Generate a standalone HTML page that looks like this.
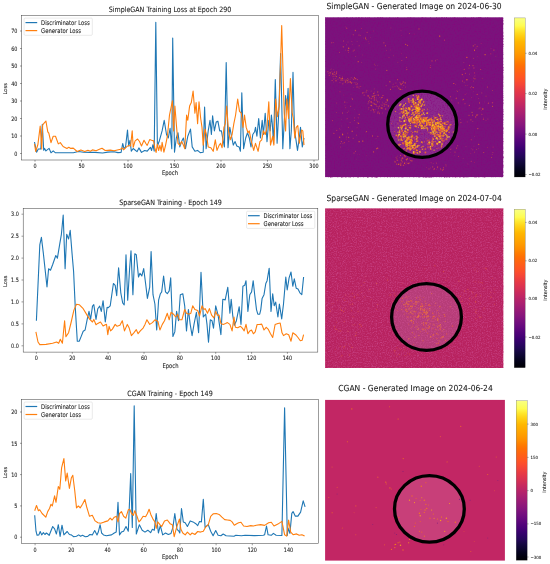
<!DOCTYPE html>
<html lang="en"><head><meta charset="utf-8"><title>GAN training comparison</title>
<style>html,body{margin:0;padding:0;background:#fff}svg{display:block;text-rendering:geometricPrecision}</style></head>
<body>
<svg width="550" height="564" viewBox="0 0 550 564" font-family='"DejaVu Sans", "Liberation Sans", sans-serif' fill="#1a1a1a">
<defs>
<linearGradient id="inf" x1="0" y1="1" x2="0" y2="0">
<stop offset="0.000" stop-color="#000004"/>
<stop offset="0.025" stop-color="#010110"/>
<stop offset="0.050" stop-color="#05031f"/>
<stop offset="0.075" stop-color="#0d0631"/>
<stop offset="0.100" stop-color="#150841"/>
<stop offset="0.125" stop-color="#210755"/>
<stop offset="0.150" stop-color="#2c0463"/>
<stop offset="0.175" stop-color="#38016e"/>
<stop offset="0.200" stop-color="#470176"/>
<stop offset="0.225" stop-color="#53037a"/>
<stop offset="0.250" stop-color="#61077d"/>
<stop offset="0.275" stop-color="#6d0c7e"/>
<stop offset="0.300" stop-color="#79107e"/>
<stop offset="0.325" stop-color="#86157c"/>
<stop offset="0.350" stop-color="#911879"/>
<stop offset="0.375" stop-color="#9d1b75"/>
<stop offset="0.400" stop-color="#a81f71"/>
<stop offset="0.425" stop-color="#b3226b"/>
<stop offset="0.450" stop-color="#bf2664"/>
<stop offset="0.475" stop-color="#ca2a5d"/>
<stop offset="0.500" stop-color="#d63054"/>
<stop offset="0.525" stop-color="#e0354c"/>
<stop offset="0.550" stop-color="#e93b43"/>
<stop offset="0.575" stop-color="#f34439"/>
<stop offset="0.600" stop-color="#fb4c2f"/>
<stop offset="0.625" stop-color="#ff5523"/>
<stop offset="0.650" stop-color="#ff5d19"/>
<stop offset="0.675" stop-color="#ff660f"/>
<stop offset="0.700" stop-color="#ff7004"/>
<stop offset="0.725" stop-color="#ff7d00"/>
<stop offset="0.750" stop-color="#ff8d00"/>
<stop offset="0.775" stop-color="#ff9900"/>
<stop offset="0.800" stop-color="#ffa300"/>
<stop offset="0.825" stop-color="#ffad00"/>
<stop offset="0.850" stop-color="#ffb700"/>
<stop offset="0.875" stop-color="#ffc70b"/>
<stop offset="0.900" stop-color="#ffd71b"/>
<stop offset="0.925" stop-color="#ffe930"/>
<stop offset="0.950" stop-color="#fffc51"/>
<stop offset="0.975" stop-color="#faff6b"/>
<stop offset="1.000" stop-color="#fbff81"/>
</linearGradient>
<filter id="nz1" x="0" y="0" width="100%" height="100%"><feTurbulence type="fractalNoise" baseFrequency="0.7" numOctaves="2" seed="3"/><feColorMatrix type="matrix" values="0 0 0 0 0.25  0 0 0 0 0  0 0 0 0 0.2  1.6 0 0 0 -0.72"/></filter>
<filter id="nz2" x="0" y="0" width="100%" height="100%"><feTurbulence type="fractalNoise" baseFrequency="0.8" numOctaves="2" seed="11"/><feColorMatrix type="matrix" values="0 0 0 0 0.62  0 0 0 0 0.08  0 0 0 0 0.30  1.6 0 0 0 -0.70"/></filter>
<filter id="sb" x="-5%" y="-5%" width="110%" height="110%"><feGaussianBlur stdDeviation="0.32"/></filter>
</defs>
<rect width="550" height="564" fill="#fff"/>
<polyline points="34.5,142.0 36.6,152.2 38.3,149.0 40.8,149.0 42.3,124.2 43.7,150.3 44.6,148.4 45.9,150.9 49.1,148.4 51.0,152.8 53.2,150.9 55.5,152.8 61.8,152.8 73.3,152.8 78.4,151.5 83.5,152.2 89.8,152.4 95.0,152.4 102.6,153.0 107.7,152.1 114.1,151.7 117.9,152.6 121.1,152.4 122.7,143.5 124.0,148.5 125.5,147.3 127.5,130.1 128.7,146.0 130.0,140.3 131.3,151.1 133.2,148.5 137.0,151.7 138.9,147.9 141.5,152.4 144.6,150.5 147.2,151.1 150.4,147.3 151.6,150.5 152.9,144.7 154.2,151.1 155.8,22.3 157.4,146.0 159.4,140.7 162.1,130.9 164.2,120.3 166.5,134.5 168.3,138.0 170.1,128.3 171.8,148.7 172.7,38.0 174.5,152.2 176.3,138.0 178.0,132.7 179.8,146.9 181.6,141.6 183.4,138.0 185.5,148.7 187.8,136.2 190.5,129.1 192.2,146.9 194.9,151.3 197.6,150.4 200.2,152.6 203.2,152.2 204.6,107.0 206.1,148.7 208.2,130.9 210.0,120.3 211.4,134.5 212.6,115.9 214.4,130.9 216.2,122.1 217.9,121.2 219.7,130.9 221.4,130.9 222.7,138.0 224.4,146.9 226.2,62.5 228.0,147.8 229.8,127.4 231.5,136.2 233.3,145.1 235.1,141.6 236.8,146.0 239.1,146.9 240.4,151.3 241.8,92.8 243.6,148.7 245.7,138.0 247.5,132.7 249.3,138.0 251.0,146.9 252.8,134.5 254.6,131.8 255.5,127.4 256.9,136.2 258.7,118.5 260.4,138.0 262.2,120.3 263.4,134.5 265.2,113.2 267.0,141.6 268.8,120.3 270.2,130.9 271.4,115.0 272.3,123.8 273.5,143.3 275.3,79.5 277.1,143.3 278.9,109.6 280.6,53.6 282.8,148.7 285.6,95.5 286.8,109.6 288.1,88.4 289.9,148.7 291.3,130.9 293.0,72.4 294.5,130.9 295.7,138.0 297.5,150.4 299.3,138.0 300.5,127.4 302.3,146.9 304.0,138.0" fill="none" stroke="#1f77b4" stroke-width="1.1" stroke-linejoin="round"/>
<polyline points="34.5,143.9 35.7,151.5 37.9,144.5 40.2,126.1 41.7,149.0 42.7,124.8 44.3,122.9 45.9,121.0 47.8,131.8 48.8,133.1 51.0,142.6 53.2,136.3 55.5,136.3 58.3,143.9 60.3,142.6 63.1,146.5 66.9,148.4 68.8,147.3 70.7,148.4 73.3,148.1 77.1,151.5 80.9,149.9 84.7,151.5 87.9,150.3 90.5,151.2 92.4,149.9 96.2,150.7 98.8,149.6 102.0,148.3 105.2,150.5 110.3,150.1 114.1,150.8 120.5,149.2 122.4,147.9 123.6,149.8 126.8,146.6 128.7,145.4 130.6,146.0 132.2,130.7 133.2,147.3 135.1,140.9 137.6,139.0 139.5,141.5 141.5,146.0 144.0,140.3 145.9,143.5 147.2,145.4 149.7,139.6 151.6,140.3 153.6,140.9 154.8,147.9 156.1,152.4 157.4,144.1 158.6,150.5 159.9,145.4 161.2,151.1 162.1,142.4 163.9,152.2 165.6,145.1 167.4,136.2 169.5,115.0 172.4,100.8 173.6,130.9 174.9,106.1 176.6,127.4 178.0,143.3 179.8,145.1 181.6,141.6 183.4,145.1 184.8,148.7 186.6,115.0 187.8,120.3 189.6,106.1 191.3,102.6 193.1,91.0 194.9,113.2 196.1,102.6 197.6,123.8 199.0,101.7 200.7,118.5 202.0,127.4 203.2,145.1 205.0,129.1 206.4,134.5 208.2,146.9 210.9,147.8 213.2,151.3 215.3,139.8 217.0,150.4 219.2,145.1 220.6,143.3 222.1,147.8 223.9,127.4 225.3,123.8 226.7,106.1 228.5,130.9 230.3,139.8 232.1,134.5 233.8,123.8 235.6,115.0 237.7,99.0 239.5,111.4 241.3,113.2 243.0,127.4 244.5,115.0 246.2,127.4 248.0,132.7 249.3,130.9 251.0,139.8 253.7,150.4 255.5,143.3 258.1,151.3 259.9,141.6 261.7,139.8 263.4,130.9 265.2,134.5 267.0,127.4 268.8,101.7 270.5,145.1 272.7,136.2 273.9,145.1 275.7,99.0 277.4,116.7 279.2,106.1 281.7,25.5 284.2,113.2 285.6,130.9 286.8,99.0 288.6,118.5 290.4,78.6 292.2,113.2 293.4,118.5 294.8,138.0 296.2,127.4 297.8,125.6 299.3,143.3 301.6,130.0 302.8,130.9 304.0,145.1" fill="none" stroke="#ff7f0e" stroke-width="1.1" stroke-linejoin="round"/>
<rect x="21.7" y="15.5" width="296.6" height="144.5" fill="none" stroke="#3a3a3a" stroke-width="0.5"/>
<line x1="35.0" y1="160" x2="35.0" y2="161.7" stroke="#3a3a3a" stroke-width="0.5"/>
<text transform="translate(35.0,168.1) scale(1,1.22)" font-size="4.9" text-anchor="middle" stroke="#1a1a1a" stroke-width="0.07">0</text>
<line x1="81.5" y1="160" x2="81.5" y2="161.7" stroke="#3a3a3a" stroke-width="0.5"/>
<text transform="translate(81.5,168.1) scale(1,1.22)" font-size="4.9" text-anchor="middle" stroke="#1a1a1a" stroke-width="0.07">50</text>
<line x1="128.0" y1="160" x2="128.0" y2="161.7" stroke="#3a3a3a" stroke-width="0.5"/>
<text transform="translate(128.0,168.1) scale(1,1.22)" font-size="4.9" text-anchor="middle" stroke="#1a1a1a" stroke-width="0.07">100</text>
<line x1="174.5" y1="160" x2="174.5" y2="161.7" stroke="#3a3a3a" stroke-width="0.5"/>
<text transform="translate(174.5,168.1) scale(1,1.22)" font-size="4.9" text-anchor="middle" stroke="#1a1a1a" stroke-width="0.07">150</text>
<line x1="221.0" y1="160" x2="221.0" y2="161.7" stroke="#3a3a3a" stroke-width="0.5"/>
<text transform="translate(221.0,168.1) scale(1,1.22)" font-size="4.9" text-anchor="middle" stroke="#1a1a1a" stroke-width="0.07">200</text>
<line x1="267.5" y1="160" x2="267.5" y2="161.7" stroke="#3a3a3a" stroke-width="0.5"/>
<text transform="translate(267.5,168.1) scale(1,1.22)" font-size="4.9" text-anchor="middle" stroke="#1a1a1a" stroke-width="0.07">250</text>
<line x1="314.0" y1="160" x2="314.0" y2="161.7" stroke="#3a3a3a" stroke-width="0.5"/>
<text transform="translate(314.0,168.1) scale(1,1.22)" font-size="4.9" text-anchor="middle" stroke="#1a1a1a" stroke-width="0.07">300</text>
<line x1="20.0" y1="153.5" x2="21.7" y2="153.5" stroke="#3a3a3a" stroke-width="0.5"/>
<text transform="translate(17.4,155.7) scale(1,1.22)" font-size="4.9" text-anchor="end" stroke="#1a1a1a" stroke-width="0.07">0</text>
<line x1="20.0" y1="136.0" x2="21.7" y2="136.0" stroke="#3a3a3a" stroke-width="0.5"/>
<text transform="translate(17.4,138.2) scale(1,1.22)" font-size="4.9" text-anchor="end" stroke="#1a1a1a" stroke-width="0.07">10</text>
<line x1="20.0" y1="118.5" x2="21.7" y2="118.5" stroke="#3a3a3a" stroke-width="0.5"/>
<text transform="translate(17.4,120.7) scale(1,1.22)" font-size="4.9" text-anchor="end" stroke="#1a1a1a" stroke-width="0.07">20</text>
<line x1="20.0" y1="101.0" x2="21.7" y2="101.0" stroke="#3a3a3a" stroke-width="0.5"/>
<text transform="translate(17.4,103.2) scale(1,1.22)" font-size="4.9" text-anchor="end" stroke="#1a1a1a" stroke-width="0.07">30</text>
<line x1="20.0" y1="83.5" x2="21.7" y2="83.5" stroke="#3a3a3a" stroke-width="0.5"/>
<text transform="translate(17.4,85.7) scale(1,1.22)" font-size="4.9" text-anchor="end" stroke="#1a1a1a" stroke-width="0.07">40</text>
<line x1="20.0" y1="66.0" x2="21.7" y2="66.0" stroke="#3a3a3a" stroke-width="0.5"/>
<text transform="translate(17.4,68.2) scale(1,1.22)" font-size="4.9" text-anchor="end" stroke="#1a1a1a" stroke-width="0.07">50</text>
<line x1="20.0" y1="48.5" x2="21.7" y2="48.5" stroke="#3a3a3a" stroke-width="0.5"/>
<text transform="translate(17.4,50.7) scale(1,1.22)" font-size="4.9" text-anchor="end" stroke="#1a1a1a" stroke-width="0.07">60</text>
<line x1="20.0" y1="31.0" x2="21.7" y2="31.0" stroke="#3a3a3a" stroke-width="0.5"/>
<text transform="translate(17.4,33.2) scale(1,1.22)" font-size="4.9" text-anchor="end" stroke="#1a1a1a" stroke-width="0.07">70</text>
<text transform="translate(170.0,12.3) scale(1,1.15)" font-size="6.35" text-anchor="middle" stroke="#1a1a1a" stroke-width="0.07">SimpleGAN Training Loss at Epoch 290</text>
<text transform="translate(170.0,175.4) scale(1,1.22)" font-size="5.27" text-anchor="middle" stroke="#1a1a1a" stroke-width="0.07">Epoch</text>
<text transform="translate(7.3,88.8) rotate(-90)" font-size="5.27" text-anchor="middle" stroke="#1a1a1a" stroke-width="0.07">Loss</text>
<rect x="24.1" y="18.1" width="68.2" height="17.2" rx="1" fill="#fff" fill-opacity="0.8" stroke="#d4d4d4" stroke-width="0.5"/>
<line x1="25.5" y1="22.6" x2="37.2" y2="22.6" stroke="#1f77b4" stroke-width="1.2000000000000002"/>
<line x1="25.5" y1="30.6" x2="37.2" y2="30.6" stroke="#ff7f0e" stroke-width="1.2000000000000002"/>
<text transform="translate(41.1,24.6) scale(1,1.22)" font-size="5.27" stroke="#1a1a1a" stroke-width="0.07">Discriminator Loss</text>
<text transform="translate(41.1,32.6) scale(1,1.22)" font-size="5.27" stroke="#1a1a1a" stroke-width="0.07">Generator Loss</text>
<polyline points="36.4,320.7 39.8,244.9 41.4,237.4 43.3,252.9 47.0,286.9 48.6,268.8 50.5,270.2 52.6,264.8 55.8,255.5 57.4,258.2 59.8,243.6 61.4,234.3 63.2,215.1 65.1,268.8 66.7,234.3 68.6,239.0 70.2,230.3 72.0,252.9 73.6,271.5 75.2,306.1 77.3,341.2 79.2,341.2 81.1,336.6 83.2,331.3 85.1,330.0 87.2,319.4 89.0,311.4 90.6,319.4 92.5,306.1 93.8,304.7 96.0,319.4 97.8,308.7 99.7,306.1 101.3,311.4 103.1,300.7 105.3,322.0 107.1,307.4 108.3,307.7 110.2,305.8 113.4,283.5 115.2,285.3 116.7,295.6 118.6,267.7 120.8,292.8 122.7,303.0 124.2,304.9 126.0,254.7 127.7,300.2 129.6,268.6 131.0,250.9 132.9,294.7 134.8,253.7 136.3,254.7 138.5,277.0 140.0,273.3 141.8,276.0 143.7,268.6 145.6,283.5 147.4,298.4 149.7,287.2 151.1,251.5 153.0,294.7 154.9,304.0 156.7,330.0 158.6,300.2 160.4,293.7 161.7,291.9 163.6,276.0 165.5,291.9 167.3,293.7 169.2,290.9 170.7,277.9 172.5,324.4 172.9,336.5 174.8,331.9 176.6,311.4 178.5,320.7 180.3,294.7 182.8,293.7 184.7,305.8 186.5,330.9 188.4,309.5 190.2,324.4 192.1,335.6 194.0,324.4 196.4,312.3 198.6,332.8 201.0,272.3 203.3,317.0 205.7,314.2 207.0,324.4 208.5,342.1 210.3,319.8 212.0,320.7 213.5,328.1 215.7,305.8 218.1,315.1 219.4,324.4 220.9,334.7 222.8,299.3 225.2,299.9 227.8,287.2 229.9,313.3 231.2,299.3 232.7,315.1 234.3,325.3 236.4,320.7 239.2,306.7 241.0,324.4 242.9,286.3 244.7,285.3 246.0,280.7 247.9,311.4 249.8,294.7 251.6,291.9 253.2,280.7 254.7,294.7 256.5,309.6 257.8,314.2 259.7,314.2 260.8,309.6 262.1,298.4 264.0,294.7 265.8,283.5 267.1,280.7 269.2,268.2 271.0,311.4 272.7,293.7 274.2,305.8 275.7,302.1 277.9,317.0 279.4,304.0 281.7,318.9 283.5,304.0 285.8,277.0 287.2,290.0 289.1,277.9 291.0,272.0 292.8,286.3 294.3,278.9 296.2,288.2 298.0,289.1 299.9,292.8 301.8,294.7 303.6,277.0" fill="none" stroke="#1f77b4" stroke-width="1.1" stroke-linejoin="round"/>
<polyline points="35.9,331.9 38.0,342.0 39.8,344.6 46.0,344.4 52.6,343.3 56.6,342.0 58.7,343.3 60.3,339.3 62.4,343.3 64.6,320.7 65.9,336.6 68.6,332.7 71.2,322.0 73.9,310.1 76.5,304.2 79.2,304.7 83.2,308.7 87.2,315.4 89.8,319.4 92.5,322.0 93.8,319.4 96.0,324.7 97.8,323.4 100.5,322.0 103.1,326.0 105.3,324.7 106.5,324.4 107.8,334.7 109.1,326.3 110.6,330.9 112.4,329.1 115.2,324.4 117.1,326.3 119.9,325.3 122.3,320.7 124.5,330.9 127.3,324.4 129.2,328.1 131.4,335.6 133.8,332.8 136.3,329.6 138.1,333.7 140.3,330.9 143.1,328.1 145.0,324.4 146.9,319.8 149.7,324.4 152.4,322.6 154.9,319.8 158.0,321.6 159.9,330.0 162.3,324.4 164.5,320.7 167.3,313.3 169.2,319.8 171.0,312.3 173.5,314.2 175.7,317.0 177.6,314.2 179.4,319.8 181.9,319.8 184.7,309.5 186.5,313.3 188.9,314.2 190.8,313.3 192.7,305.8 194.9,309.5 197.7,310.5 199.5,316.0 202.0,305.8 203.8,309.5 205.1,308.6 207.5,313.3 209.4,308.6 211.6,315.1 213.9,317.9 215.7,311.4 217.2,315.1 219.1,315.1 220.9,323.5 223.2,324.4 225.6,323.5 227.4,322.6 229.9,324.4 232.1,330.9 234.0,317.0 235.4,327.2 237.7,327.8 240.5,326.3 242.3,328.1 244.2,330.9 246.0,324.4 247.9,333.7 249.8,330.9 251.5,330.0 253.4,333.8 255.2,331.9 257.1,324.5 259.3,324.5 261.7,324.1 264.0,330.0 266.2,327.3 268.1,329.1 270.5,333.8 272.7,337.5 275.1,324.5 277.9,323.5 280.2,323.0 282.0,332.8 283.5,335.6 286.3,333.8 288.7,334.7 291.0,341.2 292.8,332.8 295.6,334.7 298.0,337.5 300.3,340.8 302.1,340.3 303.6,334.7" fill="none" stroke="#ff7f0e" stroke-width="1.1" stroke-linejoin="round"/>
<rect x="23.2" y="208.4" width="294.6" height="143.7" fill="none" stroke="#3a3a3a" stroke-width="0.5"/>
<line x1="36.4" y1="352.1" x2="36.4" y2="353.8" stroke="#3a3a3a" stroke-width="0.5"/>
<text transform="translate(36.4,360.2) scale(1,1.22)" font-size="4.9" text-anchor="middle" stroke="#1a1a1a" stroke-width="0.07">0</text>
<line x1="72.3" y1="352.1" x2="72.3" y2="353.8" stroke="#3a3a3a" stroke-width="0.5"/>
<text transform="translate(72.3,360.2) scale(1,1.22)" font-size="4.9" text-anchor="middle" stroke="#1a1a1a" stroke-width="0.07">20</text>
<line x1="108.1" y1="352.1" x2="108.1" y2="353.8" stroke="#3a3a3a" stroke-width="0.5"/>
<text transform="translate(108.1,360.2) scale(1,1.22)" font-size="4.9" text-anchor="middle" stroke="#1a1a1a" stroke-width="0.07">40</text>
<line x1="144.0" y1="352.1" x2="144.0" y2="353.8" stroke="#3a3a3a" stroke-width="0.5"/>
<text transform="translate(144.0,360.2) scale(1,1.22)" font-size="4.9" text-anchor="middle" stroke="#1a1a1a" stroke-width="0.07">60</text>
<line x1="179.8" y1="352.1" x2="179.8" y2="353.8" stroke="#3a3a3a" stroke-width="0.5"/>
<text transform="translate(179.8,360.2) scale(1,1.22)" font-size="4.9" text-anchor="middle" stroke="#1a1a1a" stroke-width="0.07">80</text>
<line x1="215.7" y1="352.1" x2="215.7" y2="353.8" stroke="#3a3a3a" stroke-width="0.5"/>
<text transform="translate(215.7,360.2) scale(1,1.22)" font-size="4.9" text-anchor="middle" stroke="#1a1a1a" stroke-width="0.07">100</text>
<line x1="251.6" y1="352.1" x2="251.6" y2="353.8" stroke="#3a3a3a" stroke-width="0.5"/>
<text transform="translate(251.6,360.2) scale(1,1.22)" font-size="4.9" text-anchor="middle" stroke="#1a1a1a" stroke-width="0.07">120</text>
<line x1="287.4" y1="352.1" x2="287.4" y2="353.8" stroke="#3a3a3a" stroke-width="0.5"/>
<text transform="translate(287.4,360.2) scale(1,1.22)" font-size="4.9" text-anchor="middle" stroke="#1a1a1a" stroke-width="0.07">140</text>
<line x1="21.5" y1="345.8" x2="23.2" y2="345.8" stroke="#3a3a3a" stroke-width="0.5"/>
<text transform="translate(18.9,348.0) scale(1,1.22)" font-size="4.9" text-anchor="end" stroke="#1a1a1a" stroke-width="0.07">0.0</text>
<line x1="21.5" y1="323.9" x2="23.2" y2="323.9" stroke="#3a3a3a" stroke-width="0.5"/>
<text transform="translate(18.9,326.1) scale(1,1.22)" font-size="4.9" text-anchor="end" stroke="#1a1a1a" stroke-width="0.07">0.5</text>
<line x1="21.5" y1="301.9" x2="23.2" y2="301.9" stroke="#3a3a3a" stroke-width="0.5"/>
<text transform="translate(18.9,304.1) scale(1,1.22)" font-size="4.9" text-anchor="end" stroke="#1a1a1a" stroke-width="0.07">1.0</text>
<line x1="21.5" y1="280.0" x2="23.2" y2="280.0" stroke="#3a3a3a" stroke-width="0.5"/>
<text transform="translate(18.9,282.2) scale(1,1.22)" font-size="4.9" text-anchor="end" stroke="#1a1a1a" stroke-width="0.07">1.5</text>
<line x1="21.5" y1="258.1" x2="23.2" y2="258.1" stroke="#3a3a3a" stroke-width="0.5"/>
<text transform="translate(18.9,260.3) scale(1,1.22)" font-size="4.9" text-anchor="end" stroke="#1a1a1a" stroke-width="0.07">2.0</text>
<line x1="21.5" y1="236.2" x2="23.2" y2="236.2" stroke="#3a3a3a" stroke-width="0.5"/>
<text transform="translate(18.9,238.4) scale(1,1.22)" font-size="4.9" text-anchor="end" stroke="#1a1a1a" stroke-width="0.07">2.5</text>
<line x1="21.5" y1="214.2" x2="23.2" y2="214.2" stroke="#3a3a3a" stroke-width="0.5"/>
<text transform="translate(18.9,216.4) scale(1,1.22)" font-size="4.9" text-anchor="end" stroke="#1a1a1a" stroke-width="0.07">3.0</text>
<text transform="translate(170.5,205.2) scale(1,1.15)" font-size="6.35" text-anchor="middle" stroke="#1a1a1a" stroke-width="0.07">SparseGAN Training - Epoch 149</text>
<text transform="translate(170.5,367.5) scale(1,1.22)" font-size="5.27" text-anchor="middle" stroke="#1a1a1a" stroke-width="0.07">Epoch</text>
<text transform="translate(7.3,281.2) rotate(-90)" font-size="5.27" text-anchor="middle" stroke="#1a1a1a" stroke-width="0.07">Loss</text>
<rect x="246.6" y="211.2" width="68.2" height="17.2" rx="1" fill="#fff" fill-opacity="0.8" stroke="#d4d4d4" stroke-width="0.5"/>
<line x1="248.0" y1="215.7" x2="259.7" y2="215.7" stroke="#1f77b4" stroke-width="1.2000000000000002"/>
<line x1="248.0" y1="223.7" x2="259.7" y2="223.7" stroke="#ff7f0e" stroke-width="1.2000000000000002"/>
<text transform="translate(263.6,217.7) scale(1,1.22)" font-size="5.27" stroke="#1a1a1a" stroke-width="0.07">Discriminator Loss</text>
<text transform="translate(263.6,225.7) scale(1,1.22)" font-size="5.27" stroke="#1a1a1a" stroke-width="0.07">Generator Loss</text>
<polyline points="34.7,515.3 36.0,531.2 37.1,535.3 38.9,534.9 40.2,531.5 41.7,534.9 43.4,532.7 44.9,534.5 46.4,533.0 47.7,534.0 49.2,535.3 50.8,531.2 52.7,526.5 54.6,528.9 56.4,534.0 58.3,524.7 60.1,536.4 62.0,525.2 63.9,534.9 67.2,531.5 69.4,534.5 71.3,534.9 73.7,536.7 76.5,536.2 78.7,534.9 80.6,536.2 82.5,535.3 85.3,536.7 87.7,536.4 89.9,534.5 92.3,534.9 94.7,530.6 97.0,534.9 98.3,532.1 100.1,524.7 101.6,533.0 103.5,534.9 106.3,535.8 111.5,534.9 114.3,533.0 116.2,532.1 118.0,502.3 119.5,534.9 121.4,532.1 123.6,531.2 126.0,526.5 128.3,531.2 130.7,473.5 132.3,527.4 134.2,405.7 136.3,534.0 139.4,524.7 142.2,530.2 145.0,532.1 147.8,530.2 150.6,532.7 152.4,529.3 154.3,530.2 156.2,513.5 158.4,533.0 160.3,525.6 162.7,534.9 165.5,533.0 168.3,534.5 171.0,533.4 172.9,527.4 174.8,513.5 177.0,529.3 178.9,531.2 179.8,533.0 181.5,508.5 183.3,521.9 185.2,522.8 187.4,526.5 190.2,520.9 193.0,521.9 195.8,523.7 197.7,525.6 199.5,521.5 201.4,521.9 203.3,499.2 205.1,527.4 208.3,524.7 210.7,531.2 213.1,535.8 215.7,530.6 218.1,535.3 220.9,535.8 223.2,534.0 226.1,535.8 234.0,536.2 235.8,535.3 241.4,535.8 245.1,535.3 254.4,535.6 263.3,535.3 264.6,534.8 266.5,526.0 268.1,534.8 271.3,535.3 273.4,533.4 276.1,535.3 281.9,535.5 284.6,407.8 287.3,535.5 288.1,528.1 289.9,533.4 291.8,513.4 293.1,511.6 295.2,516.1 297.9,516.1 300.6,512.1 303.2,500.9 305.1,506.8" fill="none" stroke="#1f77b4" stroke-width="1.1" stroke-linejoin="round"/>
<polyline points="34.7,510.7 36.5,505.5 38.4,510.7 39.7,509.8 42.1,513.5 45.8,517.2 47.7,511.6 49.5,508.5 51.0,504.2 52.3,506.0 54.6,495.8 56.0,502.3 58.3,486.5 59.8,489.3 61.6,467.9 63.9,458.6 65.7,480.9 67.2,473.1 69.4,488.4 71.3,478.1 72.8,475.3 74.7,490.2 76.5,507.9 78.4,506.0 80.2,507.9 82.5,504.2 84.9,499.5 86.7,507.0 89.5,516.3 92.3,515.3 95.1,520.9 97.9,522.8 100.7,523.3 104.4,521.9 107.8,520.9 110.2,518.1 112.1,520.0 114.3,517.2 116.5,516.3 118.0,521.9 119.5,513.5 121.4,511.6 123.6,516.3 125.8,518.1 128.3,509.8 129.7,509.2 131.6,513.5 133.3,515.3 134.8,510.7 137.0,516.3 138.9,521.9 140.7,520.0 143.1,516.3 145.6,516.7 147.4,513.5 149.1,509.2 151.1,515.3 153.0,519.1 154.9,521.9 156.2,528.4 157.7,521.9 159.9,524.7 161.7,526.5 164.5,520.9 167.3,520.0 170.1,523.7 172.3,524.7 174.2,536.7 176.6,527.4 179.4,519.1 180.9,529.3 182.8,533.0 185.2,534.9 187.4,532.1 190.2,534.9 192.1,533.0 194.9,534.5 197.7,531.5 200.5,532.1 203.3,531.2 206.0,526.5 208.3,524.7 210.7,516.3 213.1,513.9 216.3,513.5 219.1,514.4 221.9,517.2 224.7,519.6 227.4,520.0 230.2,520.4 232.1,521.9 234.3,525.2 236.7,523.7 238.6,522.8 241.0,522.2 243.6,526.0 247.0,526.5 250.7,525.6 253.5,526.0 256.3,525.2 260.6,524.6 264.6,525.4 268.6,522.8 271.3,522.2 274.0,526.0 277.9,524.1 281.9,521.4 284.6,534.7 286.7,536.1 288.6,520.1 290.7,532.1 293.1,534.7 296.6,533.9 299.2,535.3 301.9,534.7 304.6,536.1" fill="none" stroke="#ff7f0e" stroke-width="1.1" stroke-linejoin="round"/>
<rect x="21.7" y="399.3" width="296.6" height="144.3" fill="none" stroke="#3a3a3a" stroke-width="0.5"/>
<line x1="35.1" y1="543.6" x2="35.1" y2="545.3000000000001" stroke="#3a3a3a" stroke-width="0.5"/>
<text transform="translate(35.1,551.7) scale(1,1.22)" font-size="4.9" text-anchor="middle" stroke="#1a1a1a" stroke-width="0.07">0</text>
<line x1="71.3" y1="543.6" x2="71.3" y2="545.3000000000001" stroke="#3a3a3a" stroke-width="0.5"/>
<text transform="translate(71.3,551.7) scale(1,1.22)" font-size="4.9" text-anchor="middle" stroke="#1a1a1a" stroke-width="0.07">20</text>
<line x1="107.5" y1="543.6" x2="107.5" y2="545.3000000000001" stroke="#3a3a3a" stroke-width="0.5"/>
<text transform="translate(107.5,551.7) scale(1,1.22)" font-size="4.9" text-anchor="middle" stroke="#1a1a1a" stroke-width="0.07">40</text>
<line x1="143.7" y1="543.6" x2="143.7" y2="545.3000000000001" stroke="#3a3a3a" stroke-width="0.5"/>
<text transform="translate(143.7,551.7) scale(1,1.22)" font-size="4.9" text-anchor="middle" stroke="#1a1a1a" stroke-width="0.07">60</text>
<line x1="179.9" y1="543.6" x2="179.9" y2="545.3000000000001" stroke="#3a3a3a" stroke-width="0.5"/>
<text transform="translate(179.9,551.7) scale(1,1.22)" font-size="4.9" text-anchor="middle" stroke="#1a1a1a" stroke-width="0.07">80</text>
<line x1="216.1" y1="543.6" x2="216.1" y2="545.3000000000001" stroke="#3a3a3a" stroke-width="0.5"/>
<text transform="translate(216.1,551.7) scale(1,1.22)" font-size="4.9" text-anchor="middle" stroke="#1a1a1a" stroke-width="0.07">100</text>
<line x1="252.3" y1="543.6" x2="252.3" y2="545.3000000000001" stroke="#3a3a3a" stroke-width="0.5"/>
<text transform="translate(252.3,551.7) scale(1,1.22)" font-size="4.9" text-anchor="middle" stroke="#1a1a1a" stroke-width="0.07">120</text>
<line x1="288.5" y1="543.6" x2="288.5" y2="545.3000000000001" stroke="#3a3a3a" stroke-width="0.5"/>
<text transform="translate(288.5,551.7) scale(1,1.22)" font-size="4.9" text-anchor="middle" stroke="#1a1a1a" stroke-width="0.07">140</text>
<line x1="20.0" y1="537.2" x2="21.7" y2="537.2" stroke="#3a3a3a" stroke-width="0.5"/>
<text transform="translate(17.4,539.4) scale(1,1.22)" font-size="4.9" text-anchor="end" stroke="#1a1a1a" stroke-width="0.07">0</text>
<line x1="20.0" y1="505.9" x2="21.7" y2="505.9" stroke="#3a3a3a" stroke-width="0.5"/>
<text transform="translate(17.4,508.1) scale(1,1.22)" font-size="4.9" text-anchor="end" stroke="#1a1a1a" stroke-width="0.07">5</text>
<line x1="20.0" y1="474.6" x2="21.7" y2="474.6" stroke="#3a3a3a" stroke-width="0.5"/>
<text transform="translate(17.4,476.8) scale(1,1.22)" font-size="4.9" text-anchor="end" stroke="#1a1a1a" stroke-width="0.07">10</text>
<line x1="20.0" y1="443.3" x2="21.7" y2="443.3" stroke="#3a3a3a" stroke-width="0.5"/>
<text transform="translate(17.4,445.5) scale(1,1.22)" font-size="4.9" text-anchor="end" stroke="#1a1a1a" stroke-width="0.07">15</text>
<line x1="20.0" y1="412.0" x2="21.7" y2="412.0" stroke="#3a3a3a" stroke-width="0.5"/>
<text transform="translate(17.4,414.2) scale(1,1.22)" font-size="4.9" text-anchor="end" stroke="#1a1a1a" stroke-width="0.07">20</text>
<text transform="translate(170.0,396.1) scale(1,1.15)" font-size="6.35" text-anchor="middle" stroke="#1a1a1a" stroke-width="0.07">CGAN Training - Epoch 149</text>
<text transform="translate(170.0,559.0) scale(1,1.22)" font-size="5.27" text-anchor="middle" stroke="#1a1a1a" stroke-width="0.07">Epoch</text>
<text transform="translate(7.3,472.5) rotate(-90)" font-size="5.27" text-anchor="middle" stroke="#1a1a1a" stroke-width="0.07">Loss</text>
<rect x="24.1" y="402" width="68.2" height="17.2" rx="1" fill="#fff" fill-opacity="0.8" stroke="#d4d4d4" stroke-width="0.5"/>
<line x1="25.5" y1="406.5" x2="37.2" y2="406.5" stroke="#1f77b4" stroke-width="1.2000000000000002"/>
<line x1="25.5" y1="414.5" x2="37.2" y2="414.5" stroke="#ff7f0e" stroke-width="1.2000000000000002"/>
<text transform="translate(41.1,408.5) scale(1,1.22)" font-size="5.27" stroke="#1a1a1a" stroke-width="0.07">Discriminator Loss</text>
<text transform="translate(41.1,416.5) scale(1,1.22)" font-size="5.27" stroke="#1a1a1a" stroke-width="0.07">Generator Loss</text>
<rect x="325.1" y="17.3" width="178.1" height="159.8" fill="#7a137c"/>
<ellipse cx="422.2" cy="124.2" rx="34.5" ry="33.1" fill="#8b2a8c"/>
<rect x="325.1" y="17.3" width="178.1" height="159.8" fill="#fff" filter="url(#nz1)"/>
<g filter="url(#sb)">
<circle cx="421.2" cy="124.9" r="0.54" fill="#f67c1c" fill-opacity="0.78"/>
<circle cx="417.2" cy="108.7" r="0.72" fill="#f67c1c" fill-opacity="0.73"/>
<circle cx="441.9" cy="128.6" r="0.97" fill="#fba51c" fill-opacity="0.85"/>
<circle cx="427.0" cy="123.1" r="0.93" fill="#fb900f" fill-opacity="0.80"/>
<circle cx="429.9" cy="123.4" r="0.84" fill="#f67c1c" fill-opacity="0.85"/>
<circle cx="440.7" cy="133.0" r="0.53" fill="#fba51c" fill-opacity="0.87"/>
<circle cx="427.2" cy="124.4" r="0.73" fill="#f9961a" fill-opacity="0.78"/>
<circle cx="420.7" cy="126.9" r="0.54" fill="#fb900f" fill-opacity="0.83"/>
<circle cx="409.1" cy="139.5" r="0.99" fill="#f67c1c" fill-opacity="0.83"/>
<circle cx="399.7" cy="120.1" r="0.71" fill="#f67c1c" fill-opacity="0.92"/>
<circle cx="439.0" cy="123.1" r="0.85" fill="#f9961a" fill-opacity="0.85"/>
<circle cx="442.4" cy="115.8" r="0.74" fill="#f67c1c" fill-opacity="0.67"/>
<circle cx="431.9" cy="126.8" r="0.91" fill="#fb900f" fill-opacity="0.90"/>
<circle cx="421.7" cy="120.0" r="0.61" fill="#fb900f" fill-opacity="0.70"/>
<circle cx="408.9" cy="125.4" r="0.54" fill="#f9961a" fill-opacity="0.79"/>
<circle cx="420.4" cy="123.0" r="0.78" fill="#fdd22a" fill-opacity="1.00"/>
<circle cx="437.9" cy="140.0" r="0.54" fill="#fdbb20" fill-opacity="0.73"/>
<circle cx="410.1" cy="119.5" r="0.63" fill="#fba51c" fill-opacity="0.70"/>
<circle cx="432.4" cy="123.3" r="0.56" fill="#fba51c" fill-opacity="0.81"/>
<circle cx="417.0" cy="141.3" r="0.78" fill="#fdd22a" fill-opacity="0.79"/>
<circle cx="417.3" cy="107.6" r="0.53" fill="#ee6430" fill-opacity="0.80"/>
<circle cx="416.7" cy="107.5" r="0.78" fill="#f67c1c" fill-opacity="0.98"/>
<circle cx="447.2" cy="130.4" r="0.69" fill="#fb900f" fill-opacity="0.98"/>
<circle cx="442.4" cy="129.4" r="0.74" fill="#f9961a" fill-opacity="0.82"/>
<circle cx="422.1" cy="125.6" r="0.87" fill="#f9961a" fill-opacity="0.94"/>
<circle cx="415.9" cy="113.2" r="0.76" fill="#fdbb20" fill-opacity="0.89"/>
<circle cx="409.9" cy="139.4" r="0.82" fill="#f67c1c" fill-opacity="0.89"/>
<circle cx="414.8" cy="121.2" r="0.89" fill="#e2503f" fill-opacity="0.87"/>
<circle cx="446.3" cy="121.9" r="0.60" fill="#ee6430" fill-opacity="0.94"/>
<circle cx="430.6" cy="148.0" r="0.68" fill="#fba51c" fill-opacity="1.00"/>
<circle cx="401.0" cy="135.4" r="0.80" fill="#e2503f" fill-opacity="0.81"/>
<circle cx="422.3" cy="142.7" r="0.68" fill="#ee6430" fill-opacity="0.69"/>
<circle cx="432.8" cy="131.2" r="0.99" fill="#fba51c" fill-opacity="0.82"/>
<circle cx="440.7" cy="136.1" r="0.83" fill="#fdd22a" fill-opacity="0.92"/>
<circle cx="427.7" cy="144.0" r="0.89" fill="#e2503f" fill-opacity="0.68"/>
<circle cx="408.6" cy="138.0" r="0.87" fill="#f67c1c" fill-opacity="0.90"/>
<circle cx="407.0" cy="113.4" r="0.95" fill="#fdbb20" fill-opacity="0.86"/>
<circle cx="434.4" cy="130.7" r="0.58" fill="#fdbb20" fill-opacity="0.66"/>
<circle cx="403.5" cy="132.9" r="0.87" fill="#fdbb20" fill-opacity="0.80"/>
<circle cx="411.3" cy="140.5" r="0.63" fill="#fb900f" fill-opacity="0.83"/>
<circle cx="401.3" cy="139.8" r="0.92" fill="#fba51c" fill-opacity="0.97"/>
<circle cx="420.1" cy="124.8" r="0.95" fill="#fdd22a" fill-opacity="0.94"/>
<circle cx="411.6" cy="145.8" r="0.76" fill="#f9961a" fill-opacity="0.92"/>
<circle cx="445.0" cy="126.6" r="0.57" fill="#f67c1c" fill-opacity="0.84"/>
<circle cx="410.5" cy="118.2" r="0.89" fill="#f67c1c" fill-opacity="0.96"/>
<circle cx="418.8" cy="109.9" r="0.55" fill="#f9961a" fill-opacity="0.85"/>
<circle cx="407.8" cy="132.4" r="0.81" fill="#ee6430" fill-opacity="0.89"/>
<circle cx="430.1" cy="125.0" r="0.97" fill="#fb900f" fill-opacity="0.97"/>
<circle cx="411.3" cy="148.9" r="0.71" fill="#fdd22a" fill-opacity="0.80"/>
<circle cx="418.5" cy="110.4" r="0.83" fill="#f67c1c" fill-opacity="0.96"/>
<circle cx="403.9" cy="105.4" r="0.57" fill="#fdbb20" fill-opacity="0.99"/>
<circle cx="421.8" cy="117.4" r="0.74" fill="#ee6430" fill-opacity="0.71"/>
<circle cx="421.7" cy="122.9" r="0.60" fill="#e2503f" fill-opacity="0.68"/>
<circle cx="423.1" cy="127.4" r="0.85" fill="#fdd22a" fill-opacity="0.77"/>
<circle cx="443.0" cy="129.0" r="0.99" fill="#ee6430" fill-opacity="0.99"/>
<circle cx="418.2" cy="110.0" r="0.89" fill="#fb900f" fill-opacity="0.91"/>
<circle cx="407.7" cy="129.6" r="0.97" fill="#fdd22a" fill-opacity="0.70"/>
<circle cx="402.5" cy="140.2" r="0.54" fill="#fba51c" fill-opacity="0.93"/>
<circle cx="408.0" cy="109.5" r="0.51" fill="#f67c1c" fill-opacity="0.93"/>
<circle cx="419.4" cy="107.5" r="0.93" fill="#f9961a" fill-opacity="0.65"/>
<circle cx="416.7" cy="150.3" r="0.97" fill="#fb900f" fill-opacity="0.84"/>
<circle cx="409.7" cy="121.5" r="0.64" fill="#fba51c" fill-opacity="1.00"/>
<circle cx="419.0" cy="102.0" r="0.99" fill="#f9961a" fill-opacity="0.74"/>
<circle cx="431.8" cy="120.0" r="0.83" fill="#fdd22a" fill-opacity="0.99"/>
<circle cx="417.7" cy="122.5" r="0.60" fill="#fdbb20" fill-opacity="0.79"/>
<circle cx="419.4" cy="119.8" r="0.54" fill="#fb900f" fill-opacity="0.80"/>
<circle cx="416.2" cy="105.0" r="0.75" fill="#fb900f" fill-opacity="0.86"/>
<circle cx="442.9" cy="138.6" r="0.63" fill="#fba51c" fill-opacity="0.74"/>
<circle cx="421.4" cy="147.2" r="0.62" fill="#fb900f" fill-opacity="0.73"/>
<circle cx="404.3" cy="113.2" r="0.64" fill="#ee6430" fill-opacity="0.74"/>
<circle cx="410.6" cy="139.3" r="0.57" fill="#fba51c" fill-opacity="0.79"/>
<circle cx="415.4" cy="117.4" r="0.98" fill="#fdbb20" fill-opacity="0.88"/>
<circle cx="443.3" cy="134.8" r="0.66" fill="#f9961a" fill-opacity="0.70"/>
<circle cx="429.3" cy="142.8" r="0.92" fill="#fdd22a" fill-opacity="0.91"/>
<circle cx="407.2" cy="139.0" r="0.75" fill="#fba51c" fill-opacity="0.94"/>
<circle cx="449.7" cy="125.0" r="0.85" fill="#ee6430" fill-opacity="0.68"/>
<circle cx="424.3" cy="123.7" r="0.51" fill="#ee6430" fill-opacity="0.82"/>
<circle cx="416.5" cy="95.7" r="0.75" fill="#f67c1c" fill-opacity="0.88"/>
<circle cx="418.1" cy="105.4" r="0.54" fill="#fb900f" fill-opacity="0.73"/>
<circle cx="430.6" cy="148.9" r="0.73" fill="#fdd22a" fill-opacity="0.68"/>
<circle cx="409.3" cy="145.2" r="0.82" fill="#ee6430" fill-opacity="0.68"/>
<circle cx="405.1" cy="118.8" r="0.65" fill="#fdbb20" fill-opacity="0.65"/>
<circle cx="417.6" cy="115.2" r="0.85" fill="#f9961a" fill-opacity="0.75"/>
<circle cx="430.3" cy="127.4" r="0.56" fill="#ee6430" fill-opacity="0.76"/>
<circle cx="414.8" cy="109.3" r="0.54" fill="#f9961a" fill-opacity="1.00"/>
<circle cx="434.4" cy="118.2" r="0.54" fill="#f67c1c" fill-opacity="0.70"/>
<circle cx="438.4" cy="125.4" r="0.91" fill="#fb900f" fill-opacity="0.96"/>
<circle cx="441.3" cy="147.1" r="0.74" fill="#fba51c" fill-opacity="0.71"/>
<circle cx="407.5" cy="138.9" r="0.86" fill="#fdd22a" fill-opacity="0.77"/>
<circle cx="417.1" cy="118.7" r="0.88" fill="#fdd22a" fill-opacity="0.69"/>
<circle cx="407.1" cy="133.0" r="0.64" fill="#e2503f" fill-opacity="0.67"/>
<circle cx="426.8" cy="122.0" r="0.96" fill="#fb900f" fill-opacity="0.95"/>
<circle cx="424.0" cy="121.3" r="0.82" fill="#fdbb20" fill-opacity="0.74"/>
<circle cx="413.6" cy="118.7" r="0.69" fill="#fdd22a" fill-opacity="0.96"/>
<circle cx="435.5" cy="124.6" r="0.87" fill="#f9961a" fill-opacity="0.87"/>
<circle cx="408.7" cy="108.0" r="0.96" fill="#fdbb20" fill-opacity="0.71"/>
<circle cx="425.0" cy="126.6" r="0.87" fill="#fb900f" fill-opacity="0.79"/>
<circle cx="409.4" cy="119.7" r="0.56" fill="#fdbb20" fill-opacity="0.68"/>
<circle cx="438.3" cy="120.2" r="0.73" fill="#e2503f" fill-opacity="1.00"/>
<circle cx="437.9" cy="128.7" r="0.55" fill="#e2503f" fill-opacity="0.84"/>
<circle cx="410.6" cy="125.7" r="0.60" fill="#fba51c" fill-opacity="0.91"/>
<circle cx="421.1" cy="126.0" r="0.69" fill="#e2503f" fill-opacity="0.91"/>
<circle cx="431.5" cy="124.0" r="0.84" fill="#ee6430" fill-opacity="0.68"/>
<circle cx="404.1" cy="148.5" r="0.72" fill="#fb900f" fill-opacity="0.95"/>
<circle cx="410.9" cy="143.8" r="0.85" fill="#f9961a" fill-opacity="0.99"/>
<circle cx="446.3" cy="131.4" r="0.96" fill="#f9961a" fill-opacity="0.99"/>
<circle cx="419.2" cy="120.8" r="0.76" fill="#f67c1c" fill-opacity="0.98"/>
<circle cx="435.7" cy="131.9" r="0.73" fill="#fba51c" fill-opacity="0.65"/>
<circle cx="417.3" cy="108.2" r="0.86" fill="#fdbb20" fill-opacity="0.87"/>
<circle cx="427.8" cy="129.5" r="0.55" fill="#fb900f" fill-opacity="0.83"/>
<circle cx="442.2" cy="131.1" r="0.80" fill="#fba51c" fill-opacity="0.84"/>
<circle cx="400.5" cy="125.8" r="0.92" fill="#ee6430" fill-opacity="0.82"/>
<circle cx="417.1" cy="131.9" r="0.85" fill="#fb900f" fill-opacity="0.67"/>
<circle cx="410.0" cy="107.5" r="0.54" fill="#ee6430" fill-opacity="0.88"/>
<circle cx="409.8" cy="145.0" r="0.67" fill="#fdd22a" fill-opacity="0.78"/>
<circle cx="429.3" cy="123.4" r="0.92" fill="#f67c1c" fill-opacity="0.72"/>
<circle cx="418.4" cy="127.4" r="0.65" fill="#f9961a" fill-opacity="0.86"/>
<circle cx="398.5" cy="144.7" r="0.53" fill="#fdbb20" fill-opacity="0.97"/>
<circle cx="424.2" cy="109.6" r="0.71" fill="#fba51c" fill-opacity="0.71"/>
<circle cx="434.8" cy="121.9" r="0.56" fill="#f67c1c" fill-opacity="0.98"/>
<circle cx="412.9" cy="98.4" r="0.69" fill="#e2503f" fill-opacity="0.80"/>
<circle cx="419.9" cy="109.6" r="0.71" fill="#f67c1c" fill-opacity="0.85"/>
<circle cx="398.4" cy="140.0" r="0.65" fill="#fdd22a" fill-opacity="0.68"/>
<circle cx="442.0" cy="143.0" r="0.72" fill="#e2503f" fill-opacity="0.78"/>
<circle cx="414.8" cy="144.6" r="0.91" fill="#fdd22a" fill-opacity="0.66"/>
<circle cx="422.3" cy="104.6" r="0.63" fill="#f67c1c" fill-opacity="0.96"/>
<circle cx="415.1" cy="131.6" r="0.81" fill="#fb900f" fill-opacity="0.91"/>
<circle cx="443.4" cy="136.1" r="0.86" fill="#f67c1c" fill-opacity="0.66"/>
<circle cx="404.3" cy="120.9" r="0.98" fill="#fdd22a" fill-opacity="0.93"/>
<circle cx="410.7" cy="141.1" r="0.75" fill="#fba51c" fill-opacity="0.93"/>
<circle cx="432.8" cy="138.0" r="0.80" fill="#e2503f" fill-opacity="0.95"/>
<circle cx="437.3" cy="119.5" r="0.76" fill="#fdd22a" fill-opacity="0.91"/>
<circle cx="418.1" cy="119.4" r="0.78" fill="#e2503f" fill-opacity="0.71"/>
<circle cx="427.0" cy="124.3" r="0.81" fill="#ee6430" fill-opacity="0.68"/>
<circle cx="434.4" cy="120.8" r="0.62" fill="#fdd22a" fill-opacity="0.81"/>
<circle cx="410.2" cy="149.9" r="0.89" fill="#f67c1c" fill-opacity="0.92"/>
<circle cx="416.2" cy="122.9" r="0.63" fill="#fb900f" fill-opacity="0.72"/>
<circle cx="417.0" cy="121.8" r="0.94" fill="#ee6430" fill-opacity="0.76"/>
<circle cx="430.8" cy="123.0" r="0.62" fill="#f67c1c" fill-opacity="0.88"/>
<circle cx="403.6" cy="125.3" r="0.91" fill="#f9961a" fill-opacity="0.97"/>
<circle cx="414.2" cy="103.2" r="0.59" fill="#ee6430" fill-opacity="0.98"/>
<circle cx="428.8" cy="119.7" r="0.63" fill="#fba51c" fill-opacity="0.69"/>
<circle cx="442.3" cy="127.0" r="0.68" fill="#fdbb20" fill-opacity="0.67"/>
<circle cx="405.5" cy="124.4" r="0.96" fill="#fba51c" fill-opacity="0.94"/>
<circle cx="421.4" cy="127.7" r="0.54" fill="#fba51c" fill-opacity="0.93"/>
<circle cx="438.0" cy="127.1" r="0.70" fill="#fdbb20" fill-opacity="0.87"/>
<circle cx="421.8" cy="114.5" r="0.70" fill="#fb900f" fill-opacity="0.88"/>
<circle cx="432.5" cy="125.6" r="0.94" fill="#fdd22a" fill-opacity="0.80"/>
<circle cx="414.5" cy="143.5" r="0.60" fill="#fdd22a" fill-opacity="0.72"/>
<circle cx="417.8" cy="99.2" r="0.91" fill="#fdd22a" fill-opacity="0.85"/>
<circle cx="426.0" cy="121.0" r="0.53" fill="#fdbb20" fill-opacity="0.87"/>
<circle cx="415.7" cy="147.4" r="0.69" fill="#fdbb20" fill-opacity="0.70"/>
<circle cx="405.4" cy="117.4" r="0.55" fill="#f9961a" fill-opacity="0.91"/>
<circle cx="405.1" cy="131.4" r="0.92" fill="#fba51c" fill-opacity="0.99"/>
<circle cx="446.8" cy="130.0" r="0.69" fill="#fdbb20" fill-opacity="0.87"/>
<circle cx="404.5" cy="138.8" r="0.60" fill="#f9961a" fill-opacity="0.71"/>
<circle cx="411.9" cy="122.5" r="0.69" fill="#f67c1c" fill-opacity="0.70"/>
<circle cx="417.9" cy="145.8" r="0.94" fill="#fba51c" fill-opacity="0.88"/>
<circle cx="412.6" cy="122.5" r="0.92" fill="#fb900f" fill-opacity="0.88"/>
<circle cx="416.9" cy="124.0" r="0.68" fill="#f9961a" fill-opacity="0.71"/>
<circle cx="418.8" cy="101.1" r="0.72" fill="#f9961a" fill-opacity="0.94"/>
<circle cx="402.5" cy="135.9" r="0.68" fill="#e2503f" fill-opacity="0.68"/>
<circle cx="434.4" cy="126.1" r="0.82" fill="#f67c1c" fill-opacity="0.97"/>
<circle cx="416.5" cy="116.9" r="0.88" fill="#fdd22a" fill-opacity="0.88"/>
<circle cx="405.4" cy="135.2" r="0.81" fill="#f67c1c" fill-opacity="0.72"/>
<circle cx="407.8" cy="148.5" r="0.96" fill="#fdbb20" fill-opacity="0.89"/>
<circle cx="441.7" cy="145.9" r="0.81" fill="#fb900f" fill-opacity="0.71"/>
<circle cx="395.5" cy="111.5" r="0.60" fill="#fb900f" fill-opacity="0.87"/>
<circle cx="414.6" cy="121.3" r="0.70" fill="#fb900f" fill-opacity="0.89"/>
<circle cx="414.0" cy="151.4" r="0.56" fill="#fba51c" fill-opacity="0.87"/>
<circle cx="429.5" cy="119.3" r="0.79" fill="#f67c1c" fill-opacity="0.74"/>
<circle cx="441.0" cy="119.7" r="0.69" fill="#fdd22a" fill-opacity="1.00"/>
<circle cx="430.3" cy="132.8" r="0.72" fill="#fdbb20" fill-opacity="0.87"/>
<circle cx="415.7" cy="152.2" r="0.66" fill="#e2503f" fill-opacity="0.91"/>
<circle cx="430.5" cy="146.6" r="0.81" fill="#fdd22a" fill-opacity="0.83"/>
<circle cx="412.1" cy="146.3" r="0.83" fill="#fba51c" fill-opacity="0.67"/>
<circle cx="433.8" cy="132.0" r="0.77" fill="#fdd22a" fill-opacity="0.85"/>
<circle cx="446.3" cy="134.9" r="0.74" fill="#fdbb20" fill-opacity="0.65"/>
<circle cx="402.6" cy="130.3" r="0.53" fill="#fdbb20" fill-opacity="0.95"/>
<circle cx="401.0" cy="136.9" r="0.51" fill="#e2503f" fill-opacity="0.86"/>
<circle cx="430.9" cy="122.5" r="0.75" fill="#fdbb20" fill-opacity="0.97"/>
<circle cx="411.1" cy="100.7" r="0.62" fill="#fba51c" fill-opacity="0.97"/>
<circle cx="413.5" cy="104.6" r="0.60" fill="#fdd22a" fill-opacity="0.72"/>
<circle cx="438.3" cy="128.8" r="0.91" fill="#fdbb20" fill-opacity="0.83"/>
<circle cx="408.5" cy="98.8" r="0.86" fill="#f9961a" fill-opacity="0.90"/>
<circle cx="418.1" cy="96.5" r="0.73" fill="#f9961a" fill-opacity="0.71"/>
<circle cx="400.6" cy="127.4" r="0.56" fill="#fb900f" fill-opacity="0.90"/>
<circle cx="411.8" cy="117.1" r="0.89" fill="#fb900f" fill-opacity="0.75"/>
<circle cx="411.3" cy="142.3" r="0.75" fill="#fdbb20" fill-opacity="0.74"/>
<circle cx="416.4" cy="106.7" r="0.87" fill="#e2503f" fill-opacity="0.72"/>
<circle cx="422.2" cy="120.7" r="0.93" fill="#f9961a" fill-opacity="0.82"/>
<circle cx="437.0" cy="126.2" r="0.98" fill="#ee6430" fill-opacity="0.85"/>
<circle cx="418.6" cy="125.8" r="0.54" fill="#fdbb20" fill-opacity="0.70"/>
<circle cx="421.3" cy="106.6" r="0.67" fill="#fdbb20" fill-opacity="0.90"/>
<circle cx="418.1" cy="105.4" r="0.52" fill="#f67c1c" fill-opacity="0.91"/>
<circle cx="414.9" cy="106.5" r="0.91" fill="#f67c1c" fill-opacity="0.96"/>
<circle cx="429.1" cy="140.2" r="0.62" fill="#ee6430" fill-opacity="0.69"/>
<circle cx="418.6" cy="96.0" r="0.82" fill="#fb900f" fill-opacity="0.82"/>
<circle cx="420.0" cy="102.7" r="0.65" fill="#e2503f" fill-opacity="0.80"/>
<circle cx="414.6" cy="104.4" r="0.86" fill="#e2503f" fill-opacity="0.97"/>
<circle cx="399.8" cy="131.9" r="0.64" fill="#fba51c" fill-opacity="0.93"/>
<circle cx="413.1" cy="101.3" r="0.73" fill="#fba51c" fill-opacity="0.84"/>
<circle cx="418.3" cy="117.2" r="0.91" fill="#fdbb20" fill-opacity="0.80"/>
<circle cx="433.8" cy="134.4" r="0.53" fill="#e2503f" fill-opacity="0.82"/>
<circle cx="436.8" cy="123.1" r="0.75" fill="#e2503f" fill-opacity="0.99"/>
<circle cx="433.2" cy="124.8" r="0.91" fill="#ee6430" fill-opacity="0.82"/>
<circle cx="417.2" cy="107.4" r="0.89" fill="#f67c1c" fill-opacity="0.87"/>
<circle cx="422.1" cy="125.8" r="0.95" fill="#f67c1c" fill-opacity="0.80"/>
<circle cx="442.0" cy="131.8" r="0.71" fill="#fdbb20" fill-opacity="0.78"/>
<circle cx="410.2" cy="149.3" r="0.77" fill="#fba51c" fill-opacity="0.77"/>
<circle cx="422.4" cy="127.0" r="0.83" fill="#e2503f" fill-opacity="0.71"/>
<circle cx="436.8" cy="119.6" r="0.56" fill="#f9961a" fill-opacity="0.87"/>
<circle cx="436.7" cy="137.7" r="0.88" fill="#fdbb20" fill-opacity="0.90"/>
<circle cx="416.1" cy="143.1" r="0.67" fill="#ee6430" fill-opacity="0.76"/>
<circle cx="412.2" cy="110.5" r="0.55" fill="#f67c1c" fill-opacity="0.72"/>
<circle cx="407.5" cy="114.6" r="0.65" fill="#fb900f" fill-opacity="0.72"/>
<circle cx="446.9" cy="130.9" r="0.69" fill="#fba51c" fill-opacity="0.65"/>
<circle cx="406.3" cy="145.0" r="0.99" fill="#fb900f" fill-opacity="0.81"/>
<circle cx="401.7" cy="108.9" r="0.87" fill="#fdd22a" fill-opacity="0.90"/>
<circle cx="439.5" cy="122.4" r="0.83" fill="#ee6430" fill-opacity="0.89"/>
<circle cx="440.9" cy="130.2" r="0.81" fill="#f67c1c" fill-opacity="0.96"/>
<circle cx="410.4" cy="123.6" r="0.58" fill="#fdd22a" fill-opacity="0.82"/>
<circle cx="417.5" cy="98.0" r="0.83" fill="#fdbb20" fill-opacity="0.96"/>
<circle cx="426.5" cy="119.6" r="0.95" fill="#f67c1c" fill-opacity="0.66"/>
<circle cx="440.5" cy="133.7" r="0.97" fill="#e2503f" fill-opacity="0.69"/>
<circle cx="428.0" cy="124.1" r="0.76" fill="#e2503f" fill-opacity="0.83"/>
<circle cx="428.5" cy="122.3" r="0.84" fill="#fdd22a" fill-opacity="0.83"/>
<circle cx="408.7" cy="136.7" r="0.82" fill="#fb900f" fill-opacity="0.75"/>
<circle cx="430.2" cy="123.7" r="0.71" fill="#e2503f" fill-opacity="0.85"/>
<circle cx="416.9" cy="112.9" r="0.98" fill="#ee6430" fill-opacity="1.00"/>
<circle cx="414.8" cy="148.5" r="0.96" fill="#f67c1c" fill-opacity="0.93"/>
<circle cx="439.0" cy="130.2" r="0.61" fill="#fdbb20" fill-opacity="0.77"/>
<circle cx="447.9" cy="121.8" r="0.73" fill="#fb900f" fill-opacity="0.92"/>
<circle cx="445.5" cy="124.3" r="0.89" fill="#ee6430" fill-opacity="0.74"/>
<circle cx="425.5" cy="127.9" r="0.59" fill="#fba51c" fill-opacity="0.93"/>
<circle cx="399.8" cy="139.9" r="0.66" fill="#f9961a" fill-opacity="0.80"/>
<circle cx="442.3" cy="125.6" r="0.96" fill="#fdd22a" fill-opacity="0.67"/>
<circle cx="417.0" cy="138.7" r="0.57" fill="#e2503f" fill-opacity="0.87"/>
<circle cx="423.7" cy="102.1" r="0.83" fill="#fb900f" fill-opacity="0.86"/>
<circle cx="437.8" cy="123.6" r="0.73" fill="#fdbb20" fill-opacity="0.72"/>
<circle cx="419.8" cy="122.0" r="0.84" fill="#f67c1c" fill-opacity="0.88"/>
<circle cx="411.9" cy="134.2" r="0.60" fill="#ee6430" fill-opacity="0.84"/>
<circle cx="423.0" cy="146.5" r="0.78" fill="#fb900f" fill-opacity="0.80"/>
<circle cx="398.3" cy="135.8" r="0.74" fill="#fdbb20" fill-opacity="0.90"/>
<circle cx="420.4" cy="124.8" r="0.87" fill="#fdbb20" fill-opacity="0.94"/>
<circle cx="428.9" cy="123.3" r="0.92" fill="#e2503f" fill-opacity="0.80"/>
<circle cx="400.1" cy="121.6" r="0.68" fill="#fba51c" fill-opacity="0.66"/>
<circle cx="408.0" cy="137.7" r="0.88" fill="#fdbb20" fill-opacity="0.66"/>
<circle cx="437.4" cy="135.0" r="0.93" fill="#e2503f" fill-opacity="0.77"/>
<circle cx="394.7" cy="131.7" r="0.64" fill="#e2503f" fill-opacity="0.80"/>
<circle cx="437.8" cy="122.4" r="0.91" fill="#fdd22a" fill-opacity="0.77"/>
<circle cx="419.2" cy="145.6" r="0.60" fill="#f9961a" fill-opacity="0.93"/>
<circle cx="415.2" cy="122.8" r="0.79" fill="#f67c1c" fill-opacity="0.92"/>
<circle cx="439.9" cy="127.5" r="0.50" fill="#ee6430" fill-opacity="0.94"/>
<circle cx="436.0" cy="124.4" r="0.75" fill="#fdd22a" fill-opacity="0.87"/>
<circle cx="442.6" cy="123.5" r="0.84" fill="#ee6430" fill-opacity="0.66"/>
<circle cx="442.6" cy="127.2" r="0.83" fill="#fba51c" fill-opacity="0.80"/>
<circle cx="419.0" cy="108.4" r="0.94" fill="#fdbb20" fill-opacity="0.93"/>
<circle cx="435.6" cy="130.5" r="0.71" fill="#e2503f" fill-opacity="0.66"/>
<circle cx="425.9" cy="120.9" r="0.75" fill="#fba51c" fill-opacity="0.94"/>
<circle cx="397.9" cy="138.1" r="0.70" fill="#f67c1c" fill-opacity="0.65"/>
<circle cx="417.0" cy="117.7" r="0.99" fill="#f9961a" fill-opacity="0.92"/>
<circle cx="440.8" cy="129.0" r="0.95" fill="#fba51c" fill-opacity="0.80"/>
<circle cx="410.1" cy="146.2" r="0.74" fill="#fb900f" fill-opacity="0.90"/>
<circle cx="416.6" cy="115.6" r="0.53" fill="#fdbb20" fill-opacity="0.91"/>
<circle cx="413.6" cy="103.8" r="0.73" fill="#fb900f" fill-opacity="0.97"/>
<circle cx="419.9" cy="109.0" r="0.94" fill="#f67c1c" fill-opacity="0.79"/>
<circle cx="406.6" cy="111.4" r="0.92" fill="#fba51c" fill-opacity="0.76"/>
<circle cx="408.8" cy="138.0" r="0.58" fill="#f67c1c" fill-opacity="0.78"/>
<circle cx="441.4" cy="125.8" r="0.69" fill="#f9961a" fill-opacity="0.98"/>
<circle cx="400.5" cy="133.4" r="0.53" fill="#e2503f" fill-opacity="0.95"/>
<circle cx="432.1" cy="143.8" r="0.92" fill="#fdd22a" fill-opacity="0.99"/>
<circle cx="413.2" cy="122.1" r="0.89" fill="#ee6430" fill-opacity="0.93"/>
<circle cx="420.9" cy="119.0" r="0.71" fill="#fba51c" fill-opacity="0.75"/>
<circle cx="415.9" cy="102.9" r="0.57" fill="#f9961a" fill-opacity="0.77"/>
<circle cx="411.0" cy="106.1" r="0.60" fill="#ee6430" fill-opacity="0.76"/>
<circle cx="412.9" cy="112.9" r="0.96" fill="#fba51c" fill-opacity="0.93"/>
<circle cx="443.7" cy="131.0" r="0.89" fill="#ee6430" fill-opacity="0.79"/>
<circle cx="435.2" cy="135.8" r="0.66" fill="#ee6430" fill-opacity="0.72"/>
<circle cx="408.1" cy="117.8" r="0.68" fill="#e2503f" fill-opacity="0.79"/>
<circle cx="436.7" cy="127.4" r="1.00" fill="#e2503f" fill-opacity="0.95"/>
<circle cx="423.9" cy="123.7" r="0.66" fill="#fba51c" fill-opacity="0.77"/>
<circle cx="437.1" cy="126.4" r="1.00" fill="#f9961a" fill-opacity="0.86"/>
<circle cx="420.6" cy="117.0" r="0.55" fill="#f9961a" fill-opacity="0.92"/>
<circle cx="407.1" cy="134.1" r="0.52" fill="#ee6430" fill-opacity="1.00"/>
<circle cx="426.8" cy="123.5" r="0.68" fill="#f9961a" fill-opacity="0.82"/>
<circle cx="417.6" cy="137.4" r="0.82" fill="#f67c1c" fill-opacity="0.90"/>
<circle cx="417.0" cy="111.6" r="0.54" fill="#fdd22a" fill-opacity="0.71"/>
<circle cx="407.1" cy="146.3" r="0.86" fill="#fdbb20" fill-opacity="0.66"/>
<circle cx="410.3" cy="127.7" r="0.95" fill="#fba51c" fill-opacity="0.74"/>
<circle cx="435.3" cy="117.6" r="0.74" fill="#f67c1c" fill-opacity="0.70"/>
<circle cx="435.1" cy="141.6" r="0.65" fill="#f9961a" fill-opacity="0.92"/>
<circle cx="416.9" cy="111.7" r="0.56" fill="#f9961a" fill-opacity="0.78"/>
<circle cx="439.8" cy="115.6" r="0.95" fill="#f9961a" fill-opacity="0.90"/>
<circle cx="415.0" cy="113.9" r="0.61" fill="#e2503f" fill-opacity="0.96"/>
<circle cx="403.4" cy="112.3" r="0.96" fill="#fba51c" fill-opacity="0.87"/>
<circle cx="430.8" cy="134.2" r="0.74" fill="#e2503f" fill-opacity="0.70"/>
<circle cx="424.5" cy="121.7" r="0.78" fill="#fdbb20" fill-opacity="0.80"/>
<circle cx="402.4" cy="113.3" r="0.51" fill="#fb900f" fill-opacity="0.77"/>
<circle cx="401.5" cy="111.9" r="0.95" fill="#f67c1c" fill-opacity="0.70"/>
<circle cx="429.7" cy="119.6" r="0.96" fill="#f9961a" fill-opacity="0.94"/>
<circle cx="418.7" cy="97.1" r="0.72" fill="#fb900f" fill-opacity="1.00"/>
<circle cx="413.1" cy="146.1" r="0.95" fill="#fba51c" fill-opacity="0.94"/>
<circle cx="420.1" cy="152.1" r="0.72" fill="#e2503f" fill-opacity="0.83"/>
<circle cx="438.8" cy="114.3" r="0.68" fill="#fba51c" fill-opacity="0.97"/>
<circle cx="414.4" cy="117.7" r="0.59" fill="#ee6430" fill-opacity="0.90"/>
<circle cx="406.9" cy="112.5" r="0.80" fill="#f9961a" fill-opacity="0.92"/>
<circle cx="409.5" cy="116.6" r="0.81" fill="#ee6430" fill-opacity="0.85"/>
<circle cx="411.8" cy="114.5" r="0.70" fill="#fba51c" fill-opacity="0.83"/>
<circle cx="415.5" cy="126.0" r="0.97" fill="#f67c1c" fill-opacity="0.66"/>
<circle cx="399.4" cy="145.1" r="0.63" fill="#fdbb20" fill-opacity="0.85"/>
<circle cx="422.4" cy="149.3" r="0.79" fill="#fba51c" fill-opacity="0.77"/>
<circle cx="411.6" cy="143.3" r="0.68" fill="#ee6430" fill-opacity="0.94"/>
<circle cx="406.2" cy="150.9" r="0.69" fill="#fba51c" fill-opacity="0.75"/>
<circle cx="417.8" cy="104.0" r="0.51" fill="#fdbb20" fill-opacity="0.66"/>
<circle cx="417.3" cy="150.3" r="0.55" fill="#fb900f" fill-opacity="0.84"/>
<circle cx="425.2" cy="149.0" r="0.87" fill="#fb900f" fill-opacity="0.66"/>
<circle cx="439.8" cy="126.6" r="0.85" fill="#f67c1c" fill-opacity="0.77"/>
<circle cx="419.9" cy="111.9" r="0.73" fill="#fb900f" fill-opacity="0.69"/>
<circle cx="422.4" cy="105.1" r="0.61" fill="#ee6430" fill-opacity="0.70"/>
<circle cx="435.8" cy="123.1" r="0.91" fill="#fdd22a" fill-opacity="0.89"/>
<circle cx="443.6" cy="128.4" r="0.99" fill="#fba51c" fill-opacity="0.92"/>
<circle cx="417.2" cy="123.5" r="0.72" fill="#e2503f" fill-opacity="0.94"/>
<circle cx="415.4" cy="145.7" r="0.98" fill="#e2503f" fill-opacity="0.74"/>
<circle cx="422.8" cy="120.2" r="0.77" fill="#f67c1c" fill-opacity="0.76"/>
<circle cx="403.8" cy="108.9" r="0.71" fill="#fdd22a" fill-opacity="0.92"/>
<circle cx="403.4" cy="136.8" r="0.94" fill="#fba51c" fill-opacity="0.66"/>
<circle cx="443.9" cy="135.6" r="0.64" fill="#fba51c" fill-opacity="0.87"/>
<circle cx="411.5" cy="118.2" r="0.98" fill="#fb900f" fill-opacity="0.69"/>
<circle cx="417.8" cy="120.5" r="0.98" fill="#fb900f" fill-opacity="0.68"/>
<circle cx="448.8" cy="127.1" r="0.76" fill="#fb900f" fill-opacity="0.97"/>
<circle cx="434.6" cy="134.4" r="0.87" fill="#fb900f" fill-opacity="0.94"/>
<circle cx="438.8" cy="126.4" r="0.60" fill="#e2503f" fill-opacity="0.81"/>
<circle cx="431.5" cy="122.5" r="0.66" fill="#ee6430" fill-opacity="0.77"/>
<circle cx="427.9" cy="122.1" r="0.98" fill="#e2503f" fill-opacity="0.84"/>
<circle cx="432.5" cy="140.9" r="0.65" fill="#fba51c" fill-opacity="0.71"/>
<circle cx="421.6" cy="105.3" r="0.53" fill="#fdd22a" fill-opacity="0.94"/>
<circle cx="426.1" cy="118.0" r="0.99" fill="#fdbb20" fill-opacity="0.80"/>
<circle cx="442.0" cy="140.1" r="0.81" fill="#fb900f" fill-opacity="0.94"/>
<circle cx="435.2" cy="117.8" r="0.88" fill="#f9961a" fill-opacity="0.74"/>
<circle cx="440.0" cy="124.1" r="0.71" fill="#f67c1c" fill-opacity="0.65"/>
<circle cx="399.4" cy="132.3" r="0.98" fill="#fdbb20" fill-opacity="0.80"/>
<circle cx="408.0" cy="130.6" r="0.69" fill="#f9961a" fill-opacity="0.89"/>
<circle cx="414.1" cy="122.7" r="0.76" fill="#fdd22a" fill-opacity="0.88"/>
<circle cx="424.0" cy="128.4" r="0.90" fill="#fdd22a" fill-opacity="0.85"/>
<circle cx="422.3" cy="110.8" r="0.98" fill="#ee6430" fill-opacity="0.99"/>
<circle cx="410.8" cy="143.3" r="0.63" fill="#f9961a" fill-opacity="0.75"/>
<circle cx="433.1" cy="132.7" r="0.72" fill="#fdd22a" fill-opacity="0.79"/>
<circle cx="422.3" cy="121.0" r="0.97" fill="#f67c1c" fill-opacity="0.83"/>
<circle cx="415.3" cy="111.9" r="0.78" fill="#fdbb20" fill-opacity="0.96"/>
<circle cx="413.0" cy="148.3" r="0.81" fill="#e2503f" fill-opacity="0.89"/>
<circle cx="432.9" cy="145.5" r="0.68" fill="#f67c1c" fill-opacity="0.94"/>
<circle cx="444.1" cy="133.1" r="0.84" fill="#fdd22a" fill-opacity="0.87"/>
<circle cx="437.2" cy="123.0" r="0.95" fill="#fdd22a" fill-opacity="0.71"/>
<circle cx="441.3" cy="126.6" r="1.00" fill="#fba51c" fill-opacity="0.89"/>
<circle cx="420.5" cy="101.6" r="0.78" fill="#fb900f" fill-opacity="0.79"/>
<circle cx="419.4" cy="108.8" r="0.59" fill="#fb900f" fill-opacity="0.95"/>
<circle cx="406.8" cy="143.4" r="0.60" fill="#f67c1c" fill-opacity="0.70"/>
<circle cx="434.6" cy="126.1" r="0.54" fill="#f9961a" fill-opacity="0.94"/>
<circle cx="445.1" cy="127.6" r="0.51" fill="#e2503f" fill-opacity="0.70"/>
<circle cx="416.7" cy="120.2" r="0.81" fill="#f67c1c" fill-opacity="0.77"/>
<circle cx="434.5" cy="127.3" r="0.95" fill="#fba51c" fill-opacity="0.80"/>
<circle cx="444.6" cy="130.4" r="0.97" fill="#fdbb20" fill-opacity="0.76"/>
<circle cx="411.4" cy="139.7" r="0.80" fill="#f9961a" fill-opacity="0.99"/>
<circle cx="415.5" cy="102.9" r="0.79" fill="#fdd22a" fill-opacity="0.76"/>
<circle cx="400.6" cy="144.5" r="0.62" fill="#fdbb20" fill-opacity="0.71"/>
<circle cx="434.7" cy="123.7" r="0.70" fill="#e2503f" fill-opacity="0.69"/>
<circle cx="431.9" cy="129.6" r="0.53" fill="#f67c1c" fill-opacity="0.80"/>
<circle cx="404.9" cy="142.0" r="0.73" fill="#e2503f" fill-opacity="0.73"/>
<circle cx="413.0" cy="98.6" r="0.58" fill="#fdbb20" fill-opacity="0.68"/>
<circle cx="418.3" cy="116.6" r="0.72" fill="#ee6430" fill-opacity="0.71"/>
<circle cx="424.9" cy="119.1" r="0.98" fill="#ee6430" fill-opacity="0.75"/>
<circle cx="438.7" cy="135.8" r="0.84" fill="#fb900f" fill-opacity="0.86"/>
<circle cx="442.1" cy="125.8" r="0.70" fill="#ee6430" fill-opacity="0.69"/>
<circle cx="429.3" cy="142.2" r="0.93" fill="#fdd22a" fill-opacity="0.66"/>
<circle cx="440.6" cy="138.4" r="0.86" fill="#fdbb20" fill-opacity="0.92"/>
<circle cx="421.0" cy="128.8" r="0.53" fill="#e2503f" fill-opacity="0.93"/>
<circle cx="406.3" cy="141.4" r="0.54" fill="#fb900f" fill-opacity="0.69"/>
<circle cx="439.3" cy="142.2" r="0.95" fill="#fdbb20" fill-opacity="0.98"/>
<circle cx="400.0" cy="117.5" r="0.85" fill="#fdd22a" fill-opacity="0.66"/>
<circle cx="421.5" cy="142.3" r="0.70" fill="#f67c1c" fill-opacity="0.71"/>
<circle cx="424.4" cy="105.0" r="0.86" fill="#fba51c" fill-opacity="0.79"/>
<circle cx="437.9" cy="132.2" r="0.58" fill="#fba51c" fill-opacity="0.84"/>
<circle cx="449.8" cy="127.1" r="0.61" fill="#f9961a" fill-opacity="0.90"/>
<circle cx="409.8" cy="122.0" r="0.67" fill="#fba51c" fill-opacity="0.69"/>
<circle cx="440.6" cy="118.0" r="0.84" fill="#fba51c" fill-opacity="0.93"/>
<circle cx="424.2" cy="114.6" r="0.54" fill="#fdd22a" fill-opacity="1.00"/>
<circle cx="445.5" cy="134.3" r="0.67" fill="#fdd22a" fill-opacity="0.80"/>
<circle cx="409.1" cy="118.8" r="0.92" fill="#f9961a" fill-opacity="0.83"/>
<circle cx="442.0" cy="144.1" r="0.92" fill="#fdbb20" fill-opacity="0.82"/>
<circle cx="413.1" cy="109.2" r="0.78" fill="#fdbb20" fill-opacity="0.84"/>
<circle cx="414.0" cy="144.5" r="0.62" fill="#fba51c" fill-opacity="0.71"/>
<circle cx="423.0" cy="122.9" r="0.57" fill="#f9961a" fill-opacity="0.88"/>
<circle cx="417.2" cy="125.0" r="0.72" fill="#e2503f" fill-opacity="0.89"/>
<circle cx="416.8" cy="103.1" r="0.62" fill="#f67c1c" fill-opacity="0.84"/>
<circle cx="407.0" cy="140.6" r="0.80" fill="#f9961a" fill-opacity="0.94"/>
<circle cx="427.4" cy="129.7" r="0.51" fill="#f9961a" fill-opacity="0.72"/>
<circle cx="417.8" cy="111.6" r="0.85" fill="#f9961a" fill-opacity="0.99"/>
<circle cx="399.9" cy="113.6" r="0.64" fill="#f67c1c" fill-opacity="0.67"/>
<circle cx="441.6" cy="125.4" r="0.87" fill="#e2503f" fill-opacity="0.99"/>
<circle cx="440.4" cy="129.9" r="0.72" fill="#ee6430" fill-opacity="0.92"/>
<circle cx="415.5" cy="120.6" r="0.64" fill="#fb900f" fill-opacity="0.88"/>
<circle cx="418.3" cy="107.7" r="0.70" fill="#fdbb20" fill-opacity="0.75"/>
<circle cx="399.8" cy="105.2" r="0.96" fill="#fdbb20" fill-opacity="0.69"/>
<circle cx="437.9" cy="143.4" r="0.69" fill="#e2503f" fill-opacity="0.76"/>
<circle cx="421.7" cy="121.9" r="0.92" fill="#ee6430" fill-opacity="0.67"/>
<circle cx="421.6" cy="99.4" r="1.00" fill="#fdd22a" fill-opacity="0.97"/>
<circle cx="403.7" cy="143.8" r="0.58" fill="#fb900f" fill-opacity="0.86"/>
<circle cx="446.5" cy="131.5" r="0.57" fill="#fdd22a" fill-opacity="0.68"/>
<circle cx="412.5" cy="102.3" r="0.86" fill="#fba51c" fill-opacity="0.66"/>
<circle cx="447.2" cy="124.6" r="0.57" fill="#f67c1c" fill-opacity="0.88"/>
<circle cx="431.7" cy="128.4" r="0.72" fill="#fdbb20" fill-opacity="0.97"/>
<circle cx="403.9" cy="116.2" r="0.78" fill="#e2503f" fill-opacity="0.85"/>
<circle cx="429.9" cy="124.6" r="0.71" fill="#fdbb20" fill-opacity="0.99"/>
<circle cx="412.1" cy="143.5" r="0.53" fill="#e2503f" fill-opacity="0.86"/>
<circle cx="405.6" cy="113.5" r="0.74" fill="#fdbb20" fill-opacity="0.75"/>
<circle cx="417.8" cy="118.1" r="0.59" fill="#f9961a" fill-opacity="0.89"/>
<circle cx="400.4" cy="109.0" r="0.97" fill="#e2503f" fill-opacity="0.84"/>
<circle cx="433.8" cy="127.7" r="0.59" fill="#ee6430" fill-opacity="0.84"/>
<circle cx="420.5" cy="106.2" r="0.55" fill="#fb900f" fill-opacity="0.90"/>
<circle cx="410.8" cy="120.6" r="0.85" fill="#f67c1c" fill-opacity="0.95"/>
<circle cx="440.9" cy="135.6" r="0.75" fill="#f67c1c" fill-opacity="0.87"/>
<circle cx="412.9" cy="147.6" r="0.84" fill="#fdbb20" fill-opacity="0.99"/>
<circle cx="403.4" cy="111.9" r="0.69" fill="#fba51c" fill-opacity="0.79"/>
<circle cx="420.2" cy="102.9" r="0.98" fill="#f9961a" fill-opacity="0.75"/>
<circle cx="432.0" cy="141.9" r="0.81" fill="#ee6430" fill-opacity="0.85"/>
<circle cx="411.8" cy="141.4" r="0.87" fill="#e2503f" fill-opacity="0.93"/>
<circle cx="432.8" cy="143.8" r="0.62" fill="#e2503f" fill-opacity="0.90"/>
<circle cx="413.4" cy="100.4" r="0.77" fill="#f67c1c" fill-opacity="0.66"/>
<circle cx="409.9" cy="148.4" r="0.85" fill="#fba51c" fill-opacity="0.94"/>
<circle cx="445.2" cy="129.7" r="0.56" fill="#fb900f" fill-opacity="0.71"/>
<circle cx="433.9" cy="133.7" r="0.69" fill="#fdbb20" fill-opacity="0.86"/>
<circle cx="425.5" cy="118.8" r="0.63" fill="#f9961a" fill-opacity="0.65"/>
<circle cx="420.4" cy="123.8" r="0.94" fill="#fba51c" fill-opacity="0.68"/>
<circle cx="440.9" cy="124.4" r="0.92" fill="#fdbb20" fill-opacity="0.89"/>
<circle cx="437.5" cy="138.9" r="0.76" fill="#e2503f" fill-opacity="0.77"/>
<circle cx="422.2" cy="114.7" r="0.52" fill="#fdbb20" fill-opacity="0.94"/>
<circle cx="428.0" cy="147.2" r="0.97" fill="#e2503f" fill-opacity="0.65"/>
<circle cx="435.3" cy="127.1" r="0.73" fill="#fba51c" fill-opacity="0.87"/>
<circle cx="432.2" cy="146.4" r="0.53" fill="#fb900f" fill-opacity="0.77"/>
<circle cx="433.4" cy="124.8" r="0.85" fill="#f67c1c" fill-opacity="0.96"/>
<circle cx="399.7" cy="130.3" r="0.68" fill="#fb900f" fill-opacity="0.93"/>
<circle cx="417.7" cy="116.2" r="0.54" fill="#e2503f" fill-opacity="0.91"/>
<circle cx="432.7" cy="122.6" r="0.78" fill="#fdd22a" fill-opacity="0.77"/>
<circle cx="435.9" cy="129.8" r="0.89" fill="#e2503f" fill-opacity="0.96"/>
<circle cx="406.3" cy="134.9" r="0.60" fill="#f9961a" fill-opacity="0.79"/>
<circle cx="427.0" cy="113.3" r="0.79" fill="#fdbb20" fill-opacity="0.76"/>
<circle cx="416.0" cy="112.5" r="0.97" fill="#e2503f" fill-opacity="0.68"/>
<circle cx="410.4" cy="109.0" r="0.65" fill="#e2503f" fill-opacity="1.00"/>
<circle cx="426.3" cy="118.7" r="0.93" fill="#f67c1c" fill-opacity="0.94"/>
<circle cx="421.8" cy="128.6" r="0.77" fill="#fdbb20" fill-opacity="0.87"/>
<circle cx="418.5" cy="119.1" r="0.72" fill="#fb900f" fill-opacity="0.95"/>
<circle cx="446.9" cy="135.8" r="0.98" fill="#fba51c" fill-opacity="0.68"/>
<circle cx="406.6" cy="132.1" r="0.57" fill="#ee6430" fill-opacity="0.74"/>
<circle cx="448.4" cy="129.5" r="0.51" fill="#e2503f" fill-opacity="0.76"/>
<circle cx="427.8" cy="140.7" r="0.84" fill="#e2503f" fill-opacity="0.71"/>
<circle cx="410.3" cy="141.6" r="0.81" fill="#f9961a" fill-opacity="1.00"/>
<circle cx="433.9" cy="120.0" r="0.51" fill="#e2503f" fill-opacity="0.85"/>
<circle cx="404.7" cy="124.7" r="0.86" fill="#e2503f" fill-opacity="0.70"/>
<circle cx="415.8" cy="105.8" r="0.92" fill="#e2503f" fill-opacity="0.93"/>
<circle cx="420.0" cy="121.9" r="0.78" fill="#e2503f" fill-opacity="0.73"/>
<circle cx="446.5" cy="124.5" r="0.52" fill="#fb900f" fill-opacity="0.88"/>
<circle cx="434.1" cy="119.9" r="0.68" fill="#fb900f" fill-opacity="0.70"/>
<circle cx="409.5" cy="102.3" r="0.89" fill="#e2503f" fill-opacity="0.70"/>
<circle cx="434.7" cy="136.2" r="0.97" fill="#fdbb20" fill-opacity="0.69"/>
<circle cx="438.3" cy="134.7" r="0.63" fill="#e2503f" fill-opacity="0.91"/>
<circle cx="416.5" cy="136.4" r="0.89" fill="#fba51c" fill-opacity="0.77"/>
<circle cx="432.1" cy="140.9" r="0.61" fill="#e2503f" fill-opacity="0.97"/>
<circle cx="427.5" cy="130.8" r="0.51" fill="#fba51c" fill-opacity="0.67"/>
<circle cx="437.4" cy="134.1" r="0.53" fill="#fdd22a" fill-opacity="0.79"/>
<circle cx="416.4" cy="141.2" r="0.61" fill="#fb900f" fill-opacity="0.66"/>
<circle cx="440.4" cy="141.9" r="0.66" fill="#fdd22a" fill-opacity="0.87"/>
<circle cx="420.5" cy="118.8" r="0.78" fill="#fdbb20" fill-opacity="0.82"/>
<circle cx="411.2" cy="131.1" r="0.57" fill="#fb900f" fill-opacity="0.75"/>
<circle cx="406.2" cy="119.9" r="0.58" fill="#f9961a" fill-opacity="0.72"/>
<circle cx="420.1" cy="100.4" r="0.87" fill="#fba51c" fill-opacity="0.92"/>
<circle cx="413.8" cy="152.9" r="1.00" fill="#fb900f" fill-opacity="0.89"/>
<circle cx="409.4" cy="142.8" r="0.57" fill="#fb900f" fill-opacity="0.70"/>
<circle cx="431.8" cy="144.9" r="0.84" fill="#f67c1c" fill-opacity="0.79"/>
<circle cx="442.3" cy="125.3" r="0.67" fill="#fba51c" fill-opacity="0.85"/>
<circle cx="404.7" cy="111.1" r="0.57" fill="#ee6430" fill-opacity="0.85"/>
<circle cx="440.0" cy="136.5" r="0.95" fill="#f67c1c" fill-opacity="0.96"/>
<circle cx="416.0" cy="108.9" r="0.71" fill="#fdbb20" fill-opacity="0.73"/>
<circle cx="431.5" cy="121.4" r="1.00" fill="#e2503f" fill-opacity="0.94"/>
<circle cx="425.4" cy="152.5" r="0.93" fill="#ee6430" fill-opacity="0.91"/>
<circle cx="418.7" cy="122.5" r="0.53" fill="#fba51c" fill-opacity="0.72"/>
<circle cx="416.2" cy="120.2" r="0.73" fill="#fb900f" fill-opacity="0.84"/>
<circle cx="449.0" cy="136.8" r="0.86" fill="#fdd22a" fill-opacity="0.80"/>
<circle cx="433.7" cy="128.1" r="0.88" fill="#fdd22a" fill-opacity="0.93"/>
<circle cx="407.1" cy="140.8" r="0.75" fill="#fb900f" fill-opacity="0.89"/>
<circle cx="436.8" cy="143.3" r="0.83" fill="#f67c1c" fill-opacity="0.95"/>
<circle cx="405.0" cy="134.2" r="0.85" fill="#e2503f" fill-opacity="0.89"/>
<circle cx="433.1" cy="121.3" r="0.79" fill="#f9961a" fill-opacity="0.91"/>
<circle cx="402.8" cy="143.2" r="1.00" fill="#ee6430" fill-opacity="0.94"/>
<circle cx="406.6" cy="131.9" r="0.53" fill="#fb900f" fill-opacity="0.86"/>
<circle cx="437.5" cy="143.3" r="0.77" fill="#ee6430" fill-opacity="0.97"/>
<circle cx="403.2" cy="143.3" r="0.93" fill="#e2503f" fill-opacity="0.83"/>
<circle cx="436.3" cy="129.0" r="0.96" fill="#e2503f" fill-opacity="0.83"/>
<circle cx="437.3" cy="122.7" r="0.59" fill="#f9961a" fill-opacity="0.71"/>
<circle cx="414.2" cy="137.8" r="0.96" fill="#e2503f" fill-opacity="0.78"/>
<circle cx="410.7" cy="141.3" r="0.58" fill="#fb900f" fill-opacity="0.78"/>
<circle cx="422.9" cy="118.7" r="0.65" fill="#f67c1c" fill-opacity="0.75"/>
<circle cx="414.6" cy="119.7" r="0.82" fill="#fdbb20" fill-opacity="0.92"/>
<circle cx="403.5" cy="107.9" r="0.76" fill="#ee6430" fill-opacity="0.87"/>
<circle cx="437.1" cy="122.5" r="0.78" fill="#fba51c" fill-opacity="0.85"/>
<circle cx="421.4" cy="115.0" r="0.64" fill="#e2503f" fill-opacity="0.74"/>
<circle cx="411.2" cy="121.3" r="0.75" fill="#f67c1c" fill-opacity="0.72"/>
<circle cx="427.2" cy="117.4" r="0.69" fill="#fba51c" fill-opacity="0.90"/>
<circle cx="432.7" cy="125.2" r="0.98" fill="#fdd22a" fill-opacity="0.88"/>
<circle cx="401.2" cy="138.4" r="0.79" fill="#ee6430" fill-opacity="0.99"/>
<circle cx="408.0" cy="142.7" r="0.60" fill="#f67c1c" fill-opacity="0.68"/>
<circle cx="431.7" cy="129.5" r="0.97" fill="#fba51c" fill-opacity="0.69"/>
<circle cx="443.1" cy="123.0" r="0.72" fill="#f9961a" fill-opacity="0.71"/>
<circle cx="416.5" cy="110.1" r="0.88" fill="#fba51c" fill-opacity="0.88"/>
<circle cx="429.1" cy="144.2" r="0.84" fill="#e2503f" fill-opacity="0.92"/>
<circle cx="406.1" cy="137.0" r="0.54" fill="#fba51c" fill-opacity="0.69"/>
<circle cx="418.5" cy="103.1" r="0.53" fill="#ee6430" fill-opacity="0.90"/>
<circle cx="443.2" cy="128.8" r="0.71" fill="#fdbb20" fill-opacity="1.00"/>
<circle cx="405.5" cy="133.1" r="0.67" fill="#fba51c" fill-opacity="0.72"/>
<circle cx="433.7" cy="125.9" r="0.69" fill="#fb900f" fill-opacity="0.84"/>
<circle cx="434.4" cy="127.0" r="0.65" fill="#fdd22a" fill-opacity="0.93"/>
<circle cx="409.5" cy="147.1" r="0.53" fill="#e2503f" fill-opacity="0.98"/>
<circle cx="439.6" cy="135.5" r="0.97" fill="#e2503f" fill-opacity="0.72"/>
<circle cx="408.1" cy="143.1" r="0.66" fill="#f67c1c" fill-opacity="0.79"/>
<circle cx="434.0" cy="129.8" r="0.90" fill="#fb900f" fill-opacity="0.72"/>
<circle cx="423.8" cy="117.7" r="0.70" fill="#f9961a" fill-opacity="0.72"/>
<circle cx="408.9" cy="119.4" r="0.56" fill="#fdbb20" fill-opacity="0.95"/>
<circle cx="416.1" cy="107.2" r="0.96" fill="#fdbb20" fill-opacity="0.82"/>
<circle cx="438.5" cy="134.6" r="0.61" fill="#fdbb20" fill-opacity="0.70"/>
<circle cx="410.3" cy="145.9" r="0.55" fill="#f67c1c" fill-opacity="0.98"/>
<circle cx="423.8" cy="120.4" r="0.95" fill="#fdd22a" fill-opacity="0.70"/>
<circle cx="417.9" cy="107.5" r="0.92" fill="#fb900f" fill-opacity="0.92"/>
<circle cx="412.0" cy="136.0" r="0.86" fill="#fb900f" fill-opacity="0.97"/>
<circle cx="418.5" cy="116.5" r="0.90" fill="#ee6430" fill-opacity="0.79"/>
<circle cx="410.9" cy="105.0" r="0.61" fill="#f67c1c" fill-opacity="0.72"/>
<circle cx="406.9" cy="115.2" r="0.70" fill="#fba51c" fill-opacity="0.94"/>
<circle cx="434.6" cy="130.7" r="0.88" fill="#f9961a" fill-opacity="0.96"/>
<circle cx="410.9" cy="147.6" r="0.65" fill="#f67c1c" fill-opacity="0.72"/>
<circle cx="436.8" cy="117.6" r="0.95" fill="#fb900f" fill-opacity="0.66"/>
<circle cx="448.5" cy="128.3" r="0.97" fill="#fb900f" fill-opacity="0.67"/>
<circle cx="413.3" cy="120.1" r="0.87" fill="#fdbb20" fill-opacity="0.69"/>
<circle cx="412.6" cy="136.0" r="0.73" fill="#f67c1c" fill-opacity="0.93"/>
<circle cx="443.4" cy="129.4" r="0.76" fill="#f67c1c" fill-opacity="0.79"/>
<circle cx="433.0" cy="142.0" r="0.54" fill="#fdbb20" fill-opacity="0.78"/>
<circle cx="440.5" cy="138.1" r="0.82" fill="#f9961a" fill-opacity="0.76"/>
<circle cx="419.9" cy="121.2" r="0.58" fill="#fb900f" fill-opacity="0.84"/>
<circle cx="415.8" cy="109.3" r="0.77" fill="#fb900f" fill-opacity="0.78"/>
<circle cx="402.9" cy="113.3" r="0.56" fill="#ee6430" fill-opacity="0.90"/>
<circle cx="436.0" cy="128.5" r="0.55" fill="#fba51c" fill-opacity="0.82"/>
<circle cx="397.8" cy="132.1" r="0.61" fill="#fdbb20" fill-opacity="0.70"/>
<circle cx="421.9" cy="119.9" r="0.76" fill="#fb900f" fill-opacity="0.85"/>
<circle cx="416.8" cy="106.1" r="0.62" fill="#fba51c" fill-opacity="0.94"/>
<circle cx="417.3" cy="110.4" r="0.61" fill="#fdbb20" fill-opacity="0.94"/>
<circle cx="419.0" cy="113.6" r="0.96" fill="#fba51c" fill-opacity="0.76"/>
<circle cx="409.9" cy="142.4" r="0.89" fill="#fdbb20" fill-opacity="0.91"/>
<circle cx="442.5" cy="141.1" r="0.57" fill="#ee6430" fill-opacity="0.97"/>
<circle cx="439.8" cy="136.2" r="0.50" fill="#f9961a" fill-opacity="0.66"/>
<circle cx="434.9" cy="127.9" r="0.80" fill="#f67c1c" fill-opacity="0.72"/>
<circle cx="448.9" cy="122.8" r="0.55" fill="#e2503f" fill-opacity="0.85"/>
<circle cx="396.3" cy="135.3" r="0.75" fill="#fb900f" fill-opacity="0.94"/>
<circle cx="416.6" cy="138.9" r="0.92" fill="#fdbb20" fill-opacity="0.80"/>
<circle cx="405.7" cy="126.3" r="0.65" fill="#f67c1c" fill-opacity="0.67"/>
<circle cx="406.2" cy="128.0" r="0.92" fill="#ee6430" fill-opacity="0.72"/>
<circle cx="436.3" cy="132.1" r="0.95" fill="#fba51c" fill-opacity="0.79"/>
<circle cx="405.6" cy="128.5" r="0.97" fill="#fdd22a" fill-opacity="0.79"/>
<circle cx="413.6" cy="101.9" r="0.67" fill="#fdd22a" fill-opacity="0.93"/>
<circle cx="414.1" cy="101.5" r="0.56" fill="#f9961a" fill-opacity="0.80"/>
<circle cx="440.7" cy="130.1" r="0.61" fill="#e2503f" fill-opacity="0.79"/>
<circle cx="440.3" cy="127.1" r="1.00" fill="#fdbb20" fill-opacity="0.90"/>
<circle cx="430.9" cy="118.4" r="0.56" fill="#fba51c" fill-opacity="0.78"/>
<circle cx="406.1" cy="146.6" r="0.58" fill="#fdbb20" fill-opacity="0.73"/>
<circle cx="401.3" cy="136.8" r="0.70" fill="#f9961a" fill-opacity="0.76"/>
<circle cx="411.4" cy="136.9" r="0.93" fill="#fdbb20" fill-opacity="0.79"/>
<circle cx="415.8" cy="100.1" r="0.62" fill="#fb900f" fill-opacity="0.91"/>
<circle cx="447.3" cy="137.1" r="0.88" fill="#fdd22a" fill-opacity="0.70"/>
<circle cx="429.9" cy="147.4" r="0.76" fill="#e2503f" fill-opacity="0.81"/>
<circle cx="413.5" cy="152.1" r="0.82" fill="#fdd22a" fill-opacity="0.98"/>
<circle cx="409.7" cy="137.2" r="0.75" fill="#fba51c" fill-opacity="0.67"/>
<circle cx="407.0" cy="137.7" r="0.72" fill="#fdbb20" fill-opacity="0.91"/>
<circle cx="433.1" cy="144.3" r="0.57" fill="#fb900f" fill-opacity="0.70"/>
<circle cx="443.4" cy="128.5" r="0.70" fill="#fb900f" fill-opacity="0.87"/>
<circle cx="417.1" cy="117.8" r="0.77" fill="#fdd22a" fill-opacity="0.88"/>
<circle cx="401.9" cy="131.1" r="0.98" fill="#e2503f" fill-opacity="0.89"/>
<circle cx="420.4" cy="124.6" r="0.91" fill="#e2503f" fill-opacity="0.96"/>
<circle cx="405.8" cy="110.2" r="0.65" fill="#fdbb20" fill-opacity="0.89"/>
<circle cx="398.0" cy="136.6" r="0.89" fill="#e2503f" fill-opacity="0.99"/>
<circle cx="401.5" cy="121.4" r="0.60" fill="#e2503f" fill-opacity="0.97"/>
<circle cx="423.9" cy="119.5" r="0.66" fill="#f9961a" fill-opacity="0.74"/>
<circle cx="409.3" cy="109.0" r="0.92" fill="#fdbb20" fill-opacity="0.92"/>
<circle cx="421.9" cy="125.9" r="0.74" fill="#fdd22a" fill-opacity="0.91"/>
<circle cx="409.5" cy="127.5" r="0.76" fill="#fb900f" fill-opacity="0.95"/>
<circle cx="417.7" cy="108.9" r="0.77" fill="#fb900f" fill-opacity="0.77"/>
<circle cx="409.3" cy="147.4" r="0.53" fill="#f67c1c" fill-opacity="0.91"/>
<circle cx="433.4" cy="141.9" r="0.56" fill="#fb900f" fill-opacity="0.71"/>
<circle cx="404.1" cy="104.6" r="0.56" fill="#fdd22a" fill-opacity="0.79"/>
<circle cx="409.4" cy="139.0" r="0.70" fill="#e2503f" fill-opacity="0.77"/>
<circle cx="409.0" cy="107.8" r="0.76" fill="#fb900f" fill-opacity="0.70"/>
<circle cx="421.7" cy="121.0" r="0.75" fill="#ee6430" fill-opacity="0.85"/>
<circle cx="422.5" cy="121.7" r="0.92" fill="#fdbb20" fill-opacity="0.70"/>
<circle cx="440.3" cy="132.7" r="0.95" fill="#fba51c" fill-opacity="0.91"/>
<circle cx="398.5" cy="127.7" r="0.85" fill="#fdd22a" fill-opacity="0.86"/>
<circle cx="423.2" cy="121.8" r="0.91" fill="#fb900f" fill-opacity="0.86"/>
<circle cx="407.9" cy="148.1" r="0.78" fill="#f67c1c" fill-opacity="0.78"/>
<circle cx="413.4" cy="100.0" r="0.64" fill="#fba51c" fill-opacity="0.99"/>
<circle cx="443.6" cy="128.5" r="0.77" fill="#f9961a" fill-opacity="0.69"/>
<circle cx="413.7" cy="115.5" r="0.67" fill="#ee6430" fill-opacity="0.73"/>
<circle cx="405.9" cy="143.0" r="0.90" fill="#fba51c" fill-opacity="0.73"/>
<circle cx="406.6" cy="108.4" r="0.69" fill="#fb900f" fill-opacity="0.90"/>
<circle cx="440.3" cy="132.2" r="0.79" fill="#ee6430" fill-opacity="0.88"/>
<circle cx="414.3" cy="145.3" r="0.77" fill="#fb900f" fill-opacity="0.67"/>
<circle cx="439.6" cy="130.4" r="0.84" fill="#f9961a" fill-opacity="0.72"/>
<circle cx="446.5" cy="130.8" r="0.88" fill="#f67c1c" fill-opacity="0.91"/>
<circle cx="432.7" cy="127.5" r="0.85" fill="#ee6430" fill-opacity="0.92"/>
<circle cx="405.6" cy="103.3" r="0.65" fill="#fba51c" fill-opacity="0.97"/>
<circle cx="429.8" cy="142.4" r="0.60" fill="#fba51c" fill-opacity="0.94"/>
<circle cx="444.5" cy="123.7" r="0.78" fill="#fdbb20" fill-opacity="0.85"/>
<circle cx="415.4" cy="120.8" r="0.87" fill="#e2503f" fill-opacity="0.80"/>
<circle cx="413.3" cy="95.4" r="0.67" fill="#fdbb20" fill-opacity="0.78"/>
<circle cx="407.5" cy="143.8" r="0.67" fill="#e2503f" fill-opacity="0.82"/>
<circle cx="405.3" cy="136.4" r="0.78" fill="#fdd22a" fill-opacity="0.72"/>
<circle cx="428.0" cy="120.4" r="0.86" fill="#fdd22a" fill-opacity="0.92"/>
<circle cx="434.1" cy="150.2" r="0.72" fill="#fdbb20" fill-opacity="0.65"/>
<circle cx="412.6" cy="116.4" r="0.50" fill="#f67c1c" fill-opacity="0.81"/>
<circle cx="418.2" cy="98.6" r="0.54" fill="#e2503f" fill-opacity="0.77"/>
<circle cx="427.4" cy="128.3" r="0.95" fill="#fba51c" fill-opacity="0.74"/>
<circle cx="407.9" cy="145.2" r="0.80" fill="#fdbb20" fill-opacity="0.98"/>
<circle cx="425.5" cy="121.2" r="0.84" fill="#f9961a" fill-opacity="0.92"/>
<circle cx="433.9" cy="116.2" r="0.58" fill="#ee6430" fill-opacity="0.90"/>
<circle cx="440.9" cy="121.4" r="0.56" fill="#f9961a" fill-opacity="0.86"/>
<circle cx="419.3" cy="121.5" r="0.61" fill="#fdd22a" fill-opacity="0.85"/>
<circle cx="431.0" cy="149.5" r="0.82" fill="#ee6430" fill-opacity="0.68"/>
<circle cx="417.2" cy="147.0" r="0.52" fill="#ee6430" fill-opacity="0.98"/>
<circle cx="417.1" cy="146.9" r="0.78" fill="#fdd22a" fill-opacity="0.74"/>
<circle cx="412.6" cy="112.5" r="0.55" fill="#f67c1c" fill-opacity="0.72"/>
<circle cx="406.5" cy="139.4" r="0.55" fill="#fdd22a" fill-opacity="0.97"/>
<circle cx="417.5" cy="97.7" r="0.91" fill="#f67c1c" fill-opacity="0.90"/>
<circle cx="436.6" cy="134.6" r="0.84" fill="#ee6430" fill-opacity="0.66"/>
<circle cx="411.8" cy="138.4" r="0.56" fill="#ee6430" fill-opacity="0.89"/>
<circle cx="415.7" cy="147.0" r="0.76" fill="#f67c1c" fill-opacity="0.68"/>
<circle cx="427.6" cy="109.0" r="0.54" fill="#fb900f" fill-opacity="0.76"/>
<circle cx="407.4" cy="139.7" r="0.99" fill="#ee6430" fill-opacity="0.65"/>
<circle cx="423.4" cy="113.1" r="0.80" fill="#fdd22a" fill-opacity="0.81"/>
<circle cx="420.8" cy="119.2" r="0.96" fill="#f67c1c" fill-opacity="0.97"/>
<circle cx="409.4" cy="142.4" r="0.84" fill="#fdd22a" fill-opacity="0.93"/>
<circle cx="415.7" cy="106.3" r="0.63" fill="#fdbb20" fill-opacity="0.74"/>
<circle cx="414.3" cy="122.6" r="0.55" fill="#f9961a" fill-opacity="0.71"/>
<circle cx="406.4" cy="138.9" r="0.81" fill="#e2503f" fill-opacity="0.75"/>
<circle cx="416.0" cy="119.5" r="0.62" fill="#e2503f" fill-opacity="0.97"/>
<circle cx="418.0" cy="110.2" r="0.94" fill="#f67c1c" fill-opacity="0.84"/>
<circle cx="420.1" cy="105.4" r="0.81" fill="#e2503f" fill-opacity="0.67"/>
<circle cx="415.5" cy="109.5" r="0.53" fill="#ee6430" fill-opacity="0.98"/>
<circle cx="431.4" cy="119.8" r="0.98" fill="#f67c1c" fill-opacity="0.88"/>
<circle cx="417.2" cy="108.3" r="0.86" fill="#fdd22a" fill-opacity="0.90"/>
<circle cx="402.3" cy="126.1" r="0.84" fill="#fb900f" fill-opacity="0.91"/>
<circle cx="416.9" cy="120.1" r="0.85" fill="#ee6430" fill-opacity="0.87"/>
<circle cx="440.6" cy="123.1" r="0.57" fill="#f67c1c" fill-opacity="0.86"/>
<circle cx="439.7" cy="139.3" r="0.53" fill="#fba51c" fill-opacity="0.68"/>
<circle cx="411.8" cy="106.3" r="0.82" fill="#fb900f" fill-opacity="0.97"/>
<circle cx="439.0" cy="123.9" r="0.70" fill="#fdbb20" fill-opacity="0.81"/>
<circle cx="437.0" cy="148.4" r="0.67" fill="#ee6430" fill-opacity="0.66"/>
<circle cx="402.1" cy="131.8" r="0.50" fill="#ee6430" fill-opacity="0.68"/>
<circle cx="419.7" cy="102.4" r="0.66" fill="#fb900f" fill-opacity="0.71"/>
<circle cx="415.5" cy="118.8" r="0.69" fill="#f67c1c" fill-opacity="0.85"/>
<circle cx="417.7" cy="119.3" r="0.93" fill="#fdbb20" fill-opacity="0.98"/>
<circle cx="423.0" cy="122.6" r="0.68" fill="#fb900f" fill-opacity="0.78"/>
<circle cx="400.7" cy="104.1" r="0.95" fill="#fdbb20" fill-opacity="0.75"/>
<circle cx="425.9" cy="120.2" r="0.60" fill="#ee6430" fill-opacity="0.92"/>
<circle cx="419.2" cy="119.0" r="0.69" fill="#e2503f" fill-opacity="0.73"/>
<circle cx="413.1" cy="102.1" r="0.73" fill="#f9961a" fill-opacity="0.68"/>
<circle cx="415.7" cy="109.1" r="0.62" fill="#f9961a" fill-opacity="0.67"/>
<circle cx="404.8" cy="116.3" r="0.62" fill="#e2503f" fill-opacity="0.84"/>
<circle cx="419.6" cy="115.8" r="0.78" fill="#fdd22a" fill-opacity="0.69"/>
<circle cx="405.9" cy="143.1" r="0.59" fill="#e2503f" fill-opacity="0.72"/>
<circle cx="417.4" cy="118.6" r="0.73" fill="#fdbb20" fill-opacity="0.68"/>
<circle cx="434.4" cy="129.3" r="0.83" fill="#e2503f" fill-opacity="0.67"/>
<circle cx="436.9" cy="138.3" r="0.75" fill="#fba51c" fill-opacity="0.88"/>
<circle cx="446.4" cy="139.1" r="0.89" fill="#fdbb20" fill-opacity="0.88"/>
<circle cx="408.8" cy="101.7" r="0.87" fill="#e2503f" fill-opacity="0.88"/>
<circle cx="444.3" cy="128.4" r="0.73" fill="#f67c1c" fill-opacity="0.81"/>
<circle cx="408.2" cy="147.8" r="0.60" fill="#f67c1c" fill-opacity="0.79"/>
<circle cx="410.9" cy="119.8" r="0.97" fill="#f9961a" fill-opacity="0.89"/>
<circle cx="419.7" cy="117.1" r="0.74" fill="#fb900f" fill-opacity="1.00"/>
<circle cx="437.7" cy="139.0" r="0.66" fill="#fdd22a" fill-opacity="0.71"/>
<circle cx="424.2" cy="117.8" r="0.89" fill="#ee6430" fill-opacity="0.94"/>
<circle cx="412.5" cy="99.7" r="0.73" fill="#fdd22a" fill-opacity="0.70"/>
<circle cx="426.3" cy="127.8" r="0.57" fill="#fdbb20" fill-opacity="1.00"/>
<circle cx="402.1" cy="118.2" r="0.58" fill="#fdd22a" fill-opacity="0.71"/>
<circle cx="440.3" cy="130.4" r="0.94" fill="#ee6430" fill-opacity="0.95"/>
<circle cx="434.8" cy="126.4" r="0.55" fill="#fba51c" fill-opacity="0.97"/>
<circle cx="418.4" cy="106.0" r="0.57" fill="#f67c1c" fill-opacity="0.84"/>
<circle cx="412.2" cy="136.7" r="0.76" fill="#f67c1c" fill-opacity="0.81"/>
<circle cx="428.3" cy="124.7" r="0.68" fill="#ee6430" fill-opacity="0.80"/>
<circle cx="444.5" cy="133.4" r="0.93" fill="#fb900f" fill-opacity="0.88"/>
<circle cx="428.9" cy="122.4" r="0.91" fill="#fba51c" fill-opacity="0.87"/>
<circle cx="431.5" cy="118.1" r="0.50" fill="#f9961a" fill-opacity="0.77"/>
<circle cx="412.6" cy="132.4" r="0.73" fill="#e2503f" fill-opacity="0.92"/>
<circle cx="405.3" cy="124.3" r="0.60" fill="#fdd22a" fill-opacity="0.79"/>
<circle cx="418.3" cy="104.5" r="0.85" fill="#fdd22a" fill-opacity="0.88"/>
<circle cx="406.0" cy="137.1" r="0.61" fill="#fb900f" fill-opacity="0.69"/>
<circle cx="441.1" cy="121.5" r="0.82" fill="#f9961a" fill-opacity="0.85"/>
<circle cx="405.4" cy="141.4" r="0.85" fill="#fdd22a" fill-opacity="0.76"/>
<circle cx="401.5" cy="128.8" r="0.89" fill="#fdd22a" fill-opacity="0.78"/>
<circle cx="417.6" cy="141.1" r="0.82" fill="#ee6430" fill-opacity="0.90"/>
<circle cx="419.0" cy="153.8" r="0.65" fill="#fb900f" fill-opacity="0.71"/>
<circle cx="412.2" cy="110.5" r="0.88" fill="#fba51c" fill-opacity="0.72"/>
<circle cx="409.0" cy="100.2" r="0.64" fill="#f67c1c" fill-opacity="0.93"/>
<circle cx="412.9" cy="145.6" r="0.59" fill="#fdbb20" fill-opacity="0.74"/>
<circle cx="441.0" cy="137.7" r="0.56" fill="#f67c1c" fill-opacity="0.99"/>
<circle cx="402.6" cy="116.2" r="0.66" fill="#fdd22a" fill-opacity="0.91"/>
<circle cx="416.7" cy="120.7" r="0.53" fill="#fb900f" fill-opacity="0.70"/>
<circle cx="406.8" cy="148.9" r="0.57" fill="#fba51c" fill-opacity="0.91"/>
<circle cx="405.9" cy="145.6" r="0.51" fill="#fb900f" fill-opacity="0.93"/>
<circle cx="408.6" cy="138.1" r="0.60" fill="#f9961a" fill-opacity="0.93"/>
<circle cx="404.0" cy="136.8" r="0.83" fill="#fdd22a" fill-opacity="0.70"/>
<circle cx="403.5" cy="110.6" r="0.82" fill="#ee6430" fill-opacity="0.91"/>
<circle cx="431.3" cy="125.6" r="0.53" fill="#ee6430" fill-opacity="0.90"/>
<circle cx="415.1" cy="125.9" r="0.85" fill="#ee6430" fill-opacity="0.97"/>
<circle cx="402.9" cy="117.6" r="0.63" fill="#fdbb20" fill-opacity="0.67"/>
<circle cx="431.6" cy="132.9" r="0.84" fill="#fb900f" fill-opacity="0.79"/>
<circle cx="432.8" cy="134.4" r="0.66" fill="#fb900f" fill-opacity="0.67"/>
<circle cx="442.7" cy="135.8" r="0.94" fill="#f9961a" fill-opacity="0.66"/>
<circle cx="418.7" cy="111.0" r="0.93" fill="#f9961a" fill-opacity="0.84"/>
<circle cx="405.1" cy="135.9" r="0.69" fill="#f9961a" fill-opacity="0.67"/>
<circle cx="399.1" cy="134.5" r="0.93" fill="#fdd22a" fill-opacity="0.92"/>
<circle cx="416.2" cy="126.6" r="0.97" fill="#fba51c" fill-opacity="0.69"/>
<circle cx="433.1" cy="123.1" r="0.52" fill="#fdbb20" fill-opacity="0.67"/>
<circle cx="446.4" cy="139.2" r="0.93" fill="#e2503f" fill-opacity="0.80"/>
<circle cx="416.8" cy="109.9" r="0.98" fill="#fba51c" fill-opacity="0.66"/>
<circle cx="406.6" cy="138.1" r="0.85" fill="#e2503f" fill-opacity="0.71"/>
<circle cx="437.4" cy="123.5" r="0.59" fill="#fdd22a" fill-opacity="0.90"/>
<circle cx="429.4" cy="120.2" r="0.78" fill="#f67c1c" fill-opacity="0.74"/>
<circle cx="436.1" cy="138.7" r="0.74" fill="#fdbb20" fill-opacity="0.86"/>
<circle cx="409.0" cy="120.7" r="0.87" fill="#fdbb20" fill-opacity="0.91"/>
<circle cx="399.4" cy="144.2" r="0.76" fill="#ee6430" fill-opacity="0.66"/>
<circle cx="438.9" cy="119.0" r="0.99" fill="#e2503f" fill-opacity="0.76"/>
<circle cx="433.2" cy="139.2" r="0.83" fill="#fba51c" fill-opacity="0.94"/>
<circle cx="409.0" cy="143.3" r="0.88" fill="#fba51c" fill-opacity="0.96"/>
<circle cx="403.4" cy="139.1" r="0.69" fill="#e2503f" fill-opacity="0.79"/>
<circle cx="417.7" cy="118.6" r="0.84" fill="#ee6430" fill-opacity="0.94"/>
<circle cx="453.2" cy="132.0" r="0.59" fill="#fdbb20" fill-opacity="0.93"/>
<circle cx="414.1" cy="114.8" r="0.92" fill="#fdbb20" fill-opacity="0.73"/>
<circle cx="439.5" cy="136.5" r="0.95" fill="#fdbb20" fill-opacity="0.95"/>
<circle cx="417.3" cy="152.8" r="0.87" fill="#fba51c" fill-opacity="0.93"/>
<circle cx="421.8" cy="142.0" r="0.74" fill="#f9961a" fill-opacity="0.92"/>
<circle cx="410.7" cy="148.2" r="0.62" fill="#f67c1c" fill-opacity="0.69"/>
<circle cx="410.6" cy="143.0" r="0.69" fill="#f67c1c" fill-opacity="0.82"/>
<circle cx="422.3" cy="103.9" r="0.66" fill="#f9961a" fill-opacity="0.98"/>
<circle cx="409.6" cy="110.9" r="0.74" fill="#e2503f" fill-opacity="0.91"/>
<circle cx="421.6" cy="114.2" r="0.55" fill="#f67c1c" fill-opacity="0.82"/>
<circle cx="430.4" cy="118.9" r="0.60" fill="#e2503f" fill-opacity="0.84"/>
<circle cx="404.1" cy="135.1" r="0.83" fill="#fba51c" fill-opacity="0.81"/>
<circle cx="438.5" cy="126.6" r="1.00" fill="#fdbb20" fill-opacity="0.83"/>
<circle cx="404.8" cy="130.9" r="0.61" fill="#fba51c" fill-opacity="0.73"/>
<circle cx="415.1" cy="143.4" r="0.69" fill="#f67c1c" fill-opacity="0.98"/>
<circle cx="404.0" cy="115.3" r="0.87" fill="#fdbb20" fill-opacity="0.82"/>
<circle cx="437.3" cy="144.1" r="0.80" fill="#fdd22a" fill-opacity="1.00"/>
<circle cx="436.7" cy="123.1" r="0.96" fill="#f67c1c" fill-opacity="0.95"/>
<circle cx="428.3" cy="121.9" r="0.51" fill="#ee6430" fill-opacity="0.83"/>
<circle cx="407.0" cy="142.6" r="0.82" fill="#fba51c" fill-opacity="0.80"/>
<circle cx="444.3" cy="132.6" r="0.71" fill="#f9961a" fill-opacity="0.67"/>
<circle cx="406.9" cy="126.0" r="0.58" fill="#ee6430" fill-opacity="0.84"/>
<circle cx="418.5" cy="115.6" r="0.59" fill="#ee6430" fill-opacity="0.99"/>
<circle cx="443.9" cy="140.9" r="0.80" fill="#ee6430" fill-opacity="0.75"/>
<circle cx="411.1" cy="142.9" r="0.97" fill="#f9961a" fill-opacity="0.95"/>
<circle cx="414.9" cy="139.7" r="0.71" fill="#e2503f" fill-opacity="0.81"/>
<circle cx="448.5" cy="129.0" r="0.88" fill="#ee6430" fill-opacity="1.00"/>
<circle cx="420.2" cy="115.4" r="0.72" fill="#fb900f" fill-opacity="0.71"/>
<circle cx="419.8" cy="120.6" r="0.66" fill="#fb900f" fill-opacity="0.71"/>
<circle cx="406.3" cy="144.2" r="0.80" fill="#fdbb20" fill-opacity="0.83"/>
<circle cx="413.9" cy="122.9" r="0.53" fill="#f67c1c" fill-opacity="0.77"/>
<circle cx="421.6" cy="128.6" r="0.70" fill="#fdbb20" fill-opacity="0.81"/>
<circle cx="408.2" cy="143.2" r="0.89" fill="#f9961a" fill-opacity="0.77"/>
<circle cx="448.4" cy="127.0" r="0.72" fill="#fb900f" fill-opacity="0.70"/>
<circle cx="440.2" cy="137.4" r="0.84" fill="#e2503f" fill-opacity="0.89"/>
<circle cx="423.0" cy="128.3" r="0.61" fill="#fdbb20" fill-opacity="0.84"/>
<circle cx="426.5" cy="125.2" r="0.95" fill="#fba51c" fill-opacity="0.87"/>
<circle cx="400.6" cy="136.2" r="0.76" fill="#fba51c" fill-opacity="0.77"/>
<circle cx="442.4" cy="123.1" r="0.74" fill="#e2503f" fill-opacity="0.74"/>
<circle cx="436.7" cy="125.7" r="0.51" fill="#fdd22a" fill-opacity="0.67"/>
<circle cx="403.3" cy="134.4" r="0.95" fill="#fb900f" fill-opacity="0.94"/>
<circle cx="404.9" cy="110.8" r="0.60" fill="#fba51c" fill-opacity="0.91"/>
<circle cx="404.1" cy="114.5" r="0.72" fill="#f67c1c" fill-opacity="0.91"/>
<circle cx="449.1" cy="132.2" r="0.78" fill="#f67c1c" fill-opacity="0.92"/>
<circle cx="405.9" cy="110.6" r="0.75" fill="#fdd22a" fill-opacity="0.80"/>
<circle cx="443.8" cy="126.4" r="0.56" fill="#fb900f" fill-opacity="0.66"/>
<circle cx="419.0" cy="109.4" r="0.85" fill="#fdbb20" fill-opacity="0.69"/>
<circle cx="407.8" cy="117.1" r="0.84" fill="#ee6430" fill-opacity="0.78"/>
<circle cx="413.6" cy="149.4" r="0.63" fill="#ee6430" fill-opacity="0.82"/>
<circle cx="411.3" cy="106.8" r="0.81" fill="#fba51c" fill-opacity="0.81"/>
<circle cx="450.9" cy="124.8" r="0.77" fill="#fba51c" fill-opacity="0.81"/>
<circle cx="405.9" cy="140.9" r="0.70" fill="#fdbb20" fill-opacity="0.95"/>
<circle cx="407.0" cy="142.6" r="0.59" fill="#fdd22a" fill-opacity="0.70"/>
<circle cx="434.7" cy="129.1" r="0.85" fill="#fba51c" fill-opacity="0.95"/>
<circle cx="424.9" cy="120.6" r="0.69" fill="#fdd22a" fill-opacity="0.77"/>
<circle cx="423.4" cy="119.4" r="0.58" fill="#fdd22a" fill-opacity="0.72"/>
<circle cx="402.0" cy="127.4" r="0.81" fill="#fba51c" fill-opacity="1.00"/>
<circle cx="437.1" cy="144.5" r="0.63" fill="#e2503f" fill-opacity="0.71"/>
<circle cx="405.6" cy="143.9" r="0.96" fill="#f67c1c" fill-opacity="0.82"/>
<circle cx="414.8" cy="145.2" r="0.54" fill="#fdd22a" fill-opacity="0.97"/>
<circle cx="435.4" cy="133.6" r="0.54" fill="#fdbb20" fill-opacity="0.69"/>
<circle cx="424.7" cy="125.7" r="0.72" fill="#fb900f" fill-opacity="0.68"/>
<circle cx="434.9" cy="127.2" r="0.92" fill="#fb900f" fill-opacity="0.73"/>
<circle cx="439.4" cy="142.0" r="0.96" fill="#fdd22a" fill-opacity="0.92"/>
<circle cx="438.1" cy="135.0" r="0.82" fill="#e2503f" fill-opacity="0.79"/>
<circle cx="407.1" cy="144.1" r="0.87" fill="#fdbb20" fill-opacity="0.93"/>
<circle cx="408.7" cy="112.8" r="0.87" fill="#fdbb20" fill-opacity="0.77"/>
<circle cx="412.1" cy="140.6" r="0.75" fill="#f9961a" fill-opacity="0.82"/>
<circle cx="423.9" cy="101.3" r="0.52" fill="#f9961a" fill-opacity="0.86"/>
<circle cx="413.3" cy="145.7" r="0.92" fill="#fdbb20" fill-opacity="0.98"/>
<circle cx="444.9" cy="122.8" r="0.92" fill="#fb900f" fill-opacity="0.77"/>
<circle cx="409.7" cy="109.5" r="0.89" fill="#fb900f" fill-opacity="0.74"/>
<circle cx="426.2" cy="121.2" r="0.65" fill="#f67c1c" fill-opacity="0.87"/>
<circle cx="439.2" cy="121.8" r="0.55" fill="#f9961a" fill-opacity="0.93"/>
<circle cx="440.1" cy="134.6" r="0.73" fill="#ee6430" fill-opacity="0.97"/>
<circle cx="403.0" cy="106.6" r="0.70" fill="#fdbb20" fill-opacity="0.97"/>
<circle cx="440.7" cy="129.7" r="0.99" fill="#e2503f" fill-opacity="0.71"/>
<circle cx="420.0" cy="151.7" r="0.98" fill="#fdd22a" fill-opacity="0.85"/>
<circle cx="405.8" cy="107.9" r="0.73" fill="#fb900f" fill-opacity="0.81"/>
<circle cx="427.4" cy="113.1" r="0.85" fill="#f9961a" fill-opacity="0.98"/>
<circle cx="436.2" cy="126.8" r="0.83" fill="#e2503f" fill-opacity="0.72"/>
<circle cx="428.5" cy="139.6" r="0.61" fill="#b03062" fill-opacity="0.62"/>
<circle cx="446.0" cy="125.6" r="0.46" fill="#b03062" fill-opacity="0.80"/>
<circle cx="422.5" cy="109.3" r="0.43" fill="#bd355e" fill-opacity="0.88"/>
<circle cx="448.5" cy="123.0" r="0.61" fill="#cf4150" fill-opacity="0.68"/>
<circle cx="431.6" cy="122.8" r="0.48" fill="#b03062" fill-opacity="0.81"/>
<circle cx="403.4" cy="122.5" r="0.61" fill="#b03062" fill-opacity="0.85"/>
<circle cx="436.6" cy="125.3" r="0.45" fill="#de4f40" fill-opacity="0.63"/>
<circle cx="437.3" cy="117.6" r="0.66" fill="#b03062" fill-opacity="0.89"/>
<circle cx="413.2" cy="107.3" r="0.70" fill="#cf4150" fill-opacity="0.62"/>
<circle cx="443.4" cy="141.1" r="0.48" fill="#de4f40" fill-opacity="0.73"/>
<circle cx="425.5" cy="120.9" r="0.41" fill="#cf4150" fill-opacity="0.90"/>
<circle cx="403.7" cy="106.9" r="0.45" fill="#bd355e" fill-opacity="0.77"/>
<circle cx="403.0" cy="146.7" r="0.48" fill="#de4f40" fill-opacity="0.65"/>
<circle cx="428.4" cy="132.5" r="0.64" fill="#cf4150" fill-opacity="0.65"/>
<circle cx="398.0" cy="123.8" r="0.57" fill="#ee6430" fill-opacity="0.74"/>
<circle cx="422.2" cy="98.1" r="0.47" fill="#de4f40" fill-opacity="0.67"/>
<circle cx="422.9" cy="109.2" r="0.65" fill="#de4f40" fill-opacity="0.83"/>
<circle cx="402.3" cy="133.3" r="0.41" fill="#cf4150" fill-opacity="0.74"/>
<circle cx="391.5" cy="123.6" r="0.58" fill="#de4f40" fill-opacity="0.66"/>
<circle cx="420.5" cy="151.1" r="0.63" fill="#bd355e" fill-opacity="0.79"/>
<circle cx="406.4" cy="132.1" r="0.55" fill="#ee6430" fill-opacity="0.67"/>
<circle cx="432.2" cy="138.2" r="0.50" fill="#cf4150" fill-opacity="0.81"/>
<circle cx="410.4" cy="129.6" r="0.41" fill="#cf4150" fill-opacity="0.90"/>
<circle cx="419.6" cy="98.0" r="0.65" fill="#cf4150" fill-opacity="0.69"/>
<circle cx="429.0" cy="125.8" r="0.56" fill="#de4f40" fill-opacity="0.75"/>
<circle cx="435.1" cy="146.0" r="0.53" fill="#ee6430" fill-opacity="0.63"/>
<circle cx="423.8" cy="123.1" r="0.47" fill="#ee6430" fill-opacity="0.63"/>
<circle cx="402.6" cy="136.4" r="0.49" fill="#bd355e" fill-opacity="0.70"/>
<circle cx="419.5" cy="149.1" r="0.47" fill="#ee6430" fill-opacity="0.72"/>
<circle cx="426.9" cy="117.5" r="0.43" fill="#cf4150" fill-opacity="0.76"/>
<circle cx="452.8" cy="122.5" r="0.43" fill="#b03062" fill-opacity="0.80"/>
<circle cx="422.0" cy="133.8" r="0.68" fill="#b03062" fill-opacity="0.84"/>
<circle cx="414.1" cy="152.8" r="0.64" fill="#ee6430" fill-opacity="0.64"/>
<circle cx="441.5" cy="132.5" r="0.60" fill="#cf4150" fill-opacity="0.81"/>
<circle cx="394.3" cy="109.9" r="0.41" fill="#cf4150" fill-opacity="0.63"/>
<circle cx="419.0" cy="130.6" r="0.57" fill="#bd355e" fill-opacity="0.70"/>
<circle cx="415.7" cy="106.7" r="0.61" fill="#bd355e" fill-opacity="0.65"/>
<circle cx="409.7" cy="129.1" r="0.44" fill="#b03062" fill-opacity="0.82"/>
<circle cx="438.9" cy="147.9" r="0.62" fill="#cf4150" fill-opacity="0.84"/>
<circle cx="434.8" cy="132.1" r="0.45" fill="#bd355e" fill-opacity="0.63"/>
<circle cx="413.7" cy="146.3" r="0.65" fill="#b03062" fill-opacity="0.86"/>
<circle cx="395.4" cy="108.3" r="0.59" fill="#b03062" fill-opacity="0.76"/>
<circle cx="416.8" cy="137.0" r="0.62" fill="#de4f40" fill-opacity="0.71"/>
<circle cx="397.7" cy="122.7" r="0.47" fill="#bd355e" fill-opacity="0.80"/>
<circle cx="425.5" cy="127.5" r="0.53" fill="#b03062" fill-opacity="0.66"/>
<circle cx="405.7" cy="121.0" r="0.63" fill="#ee6430" fill-opacity="0.83"/>
<circle cx="406.3" cy="122.5" r="0.68" fill="#b03062" fill-opacity="0.76"/>
<circle cx="405.5" cy="119.7" r="0.65" fill="#cf4150" fill-opacity="0.85"/>
<circle cx="395.0" cy="127.1" r="0.46" fill="#ee6430" fill-opacity="0.86"/>
<circle cx="416.7" cy="104.2" r="0.43" fill="#bd355e" fill-opacity="0.82"/>
<circle cx="426.3" cy="138.5" r="0.64" fill="#bd355e" fill-opacity="0.79"/>
<circle cx="416.4" cy="109.2" r="0.42" fill="#bd355e" fill-opacity="0.72"/>
<circle cx="399.1" cy="133.3" r="0.67" fill="#bd355e" fill-opacity="0.84"/>
<circle cx="424.6" cy="141.8" r="0.43" fill="#de4f40" fill-opacity="0.75"/>
<circle cx="410.9" cy="135.8" r="0.55" fill="#de4f40" fill-opacity="0.87"/>
<circle cx="402.9" cy="131.6" r="0.49" fill="#de4f40" fill-opacity="0.81"/>
<circle cx="417.5" cy="130.2" r="0.60" fill="#de4f40" fill-opacity="0.70"/>
<circle cx="409.6" cy="130.1" r="0.63" fill="#bd355e" fill-opacity="0.75"/>
<circle cx="435.0" cy="134.5" r="0.55" fill="#b03062" fill-opacity="0.90"/>
<circle cx="442.2" cy="122.6" r="0.46" fill="#cf4150" fill-opacity="0.82"/>
<circle cx="435.9" cy="135.6" r="0.44" fill="#cf4150" fill-opacity="0.79"/>
<circle cx="423.9" cy="128.2" r="0.60" fill="#b03062" fill-opacity="0.67"/>
<circle cx="444.2" cy="139.1" r="0.65" fill="#de4f40" fill-opacity="0.67"/>
<circle cx="401.4" cy="112.3" r="0.50" fill="#cf4150" fill-opacity="0.77"/>
<circle cx="392.8" cy="121.4" r="0.43" fill="#ee6430" fill-opacity="0.64"/>
<circle cx="426.3" cy="140.8" r="0.52" fill="#bd355e" fill-opacity="0.60"/>
<circle cx="424.7" cy="141.7" r="0.52" fill="#ee6430" fill-opacity="0.67"/>
<circle cx="405.4" cy="114.4" r="0.41" fill="#b03062" fill-opacity="0.84"/>
<circle cx="418.8" cy="151.0" r="0.54" fill="#cf4150" fill-opacity="0.62"/>
<circle cx="411.0" cy="134.2" r="0.59" fill="#b03062" fill-opacity="0.85"/>
<circle cx="371.5" cy="102.1" r="0.63" fill="#cf4150" fill-opacity="0.89"/>
<circle cx="378.5" cy="95.4" r="0.68" fill="#cf4150" fill-opacity="0.62"/>
<circle cx="384.3" cy="98.0" r="0.37" fill="#cf4150" fill-opacity="0.57"/>
<circle cx="385.0" cy="104.2" r="0.51" fill="#f67c1c" fill-opacity="0.64"/>
<circle cx="371.7" cy="110.2" r="0.39" fill="#b03062" fill-opacity="0.70"/>
<circle cx="370.9" cy="110.7" r="0.42" fill="#ee6430" fill-opacity="0.64"/>
<circle cx="373.6" cy="110.7" r="0.55" fill="#bd355e" fill-opacity="0.80"/>
<circle cx="371.1" cy="98.3" r="0.65" fill="#bd355e" fill-opacity="0.76"/>
<circle cx="371.8" cy="102.9" r="0.46" fill="#cf4150" fill-opacity="0.64"/>
<circle cx="368.7" cy="108.9" r="0.48" fill="#ee6430" fill-opacity="0.50"/>
<circle cx="382.9" cy="104.0" r="0.54" fill="#bd355e" fill-opacity="0.66"/>
<circle cx="379.1" cy="112.8" r="0.51" fill="#bd355e" fill-opacity="0.83"/>
<circle cx="384.3" cy="106.2" r="0.66" fill="#bd355e" fill-opacity="0.77"/>
<circle cx="374.5" cy="97.7" r="0.52" fill="#de4f40" fill-opacity="0.72"/>
<circle cx="382.2" cy="105.7" r="0.42" fill="#f67c1c" fill-opacity="0.70"/>
<circle cx="375.1" cy="95.6" r="0.58" fill="#bd355e" fill-opacity="0.62"/>
<circle cx="368.9" cy="102.2" r="0.61" fill="#cf4150" fill-opacity="0.55"/>
<circle cx="374.7" cy="111.7" r="0.54" fill="#b03062" fill-opacity="0.82"/>
<circle cx="387.3" cy="100.7" r="0.59" fill="#f67c1c" fill-opacity="0.83"/>
<circle cx="369.3" cy="100.5" r="0.48" fill="#ee6430" fill-opacity="0.72"/>
<circle cx="379.4" cy="106.1" r="0.68" fill="#cf4150" fill-opacity="0.74"/>
<circle cx="388.4" cy="106.0" r="0.69" fill="#f67c1c" fill-opacity="0.56"/>
<circle cx="379.0" cy="101.5" r="0.67" fill="#b03062" fill-opacity="0.51"/>
<circle cx="374.1" cy="100.7" r="0.38" fill="#f67c1c" fill-opacity="0.68"/>
<circle cx="378.3" cy="108.3" r="0.46" fill="#f67c1c" fill-opacity="0.64"/>
<circle cx="384.3" cy="104.9" r="0.37" fill="#cf4150" fill-opacity="0.51"/>
<circle cx="377.5" cy="101.8" r="0.60" fill="#f67c1c" fill-opacity="0.61"/>
<circle cx="387.2" cy="99.4" r="0.65" fill="#ee6430" fill-opacity="0.74"/>
<circle cx="386.0" cy="102.6" r="0.35" fill="#cf4150" fill-opacity="0.79"/>
<circle cx="378.5" cy="107.0" r="0.67" fill="#b03062" fill-opacity="0.69"/>
<circle cx="369.7" cy="98.4" r="0.48" fill="#b03062" fill-opacity="0.69"/>
<circle cx="379.7" cy="97.4" r="0.42" fill="#de4f40" fill-opacity="0.61"/>
<circle cx="377.7" cy="94.9" r="0.44" fill="#f67c1c" fill-opacity="0.62"/>
<circle cx="381.3" cy="104.9" r="0.50" fill="#bd355e" fill-opacity="0.68"/>
<circle cx="373.6" cy="109.7" r="0.57" fill="#f67c1c" fill-opacity="0.82"/>
<circle cx="376.2" cy="97.9" r="0.41" fill="#ee6430" fill-opacity="0.79"/>
<circle cx="374.2" cy="98.7" r="0.53" fill="#de4f40" fill-opacity="0.67"/>
<circle cx="382.3" cy="113.0" r="0.42" fill="#de4f40" fill-opacity="0.76"/>
<circle cx="378.1" cy="111.6" r="0.67" fill="#bd355e" fill-opacity="0.61"/>
<circle cx="373.0" cy="98.8" r="0.48" fill="#b03062" fill-opacity="0.84"/>
<circle cx="374.0" cy="112.2" r="0.66" fill="#bd355e" fill-opacity="0.60"/>
<circle cx="382.0" cy="97.5" r="0.56" fill="#f67c1c" fill-opacity="0.86"/>
<circle cx="376.6" cy="100.1" r="0.59" fill="#cf4150" fill-opacity="0.81"/>
<circle cx="373.7" cy="95.9" r="0.50" fill="#f67c1c" fill-opacity="0.79"/>
<circle cx="368.7" cy="107.6" r="0.40" fill="#de4f40" fill-opacity="0.70"/>
<circle cx="381.1" cy="107.8" r="0.65" fill="#ee6430" fill-opacity="0.61"/>
<circle cx="385.6" cy="109.0" r="0.64" fill="#de4f40" fill-opacity="0.69"/>
<circle cx="370.9" cy="102.4" r="0.53" fill="#cf4150" fill-opacity="0.51"/>
<circle cx="382.4" cy="102.1" r="0.36" fill="#f67c1c" fill-opacity="0.73"/>
<circle cx="373.0" cy="102.9" r="0.62" fill="#bd355e" fill-opacity="0.75"/>
<circle cx="369.2" cy="98.6" r="0.41" fill="#bd355e" fill-opacity="0.65"/>
<circle cx="375.2" cy="104.3" r="0.58" fill="#f67c1c" fill-opacity="0.62"/>
<circle cx="377.8" cy="113.0" r="0.63" fill="#cf4150" fill-opacity="0.84"/>
<circle cx="379.7" cy="102.4" r="0.44" fill="#cf4150" fill-opacity="0.60"/>
<circle cx="380.8" cy="99.6" r="0.41" fill="#cf4150" fill-opacity="0.62"/>
<circle cx="371.5" cy="105.5" r="0.63" fill="#f67c1c" fill-opacity="0.67"/>
<circle cx="378.3" cy="94.7" r="0.39" fill="#f67c1c" fill-opacity="0.54"/>
<circle cx="374.8" cy="95.6" r="0.70" fill="#de4f40" fill-opacity="0.64"/>
<circle cx="375.3" cy="109.7" r="0.58" fill="#b03062" fill-opacity="0.66"/>
<circle cx="376.9" cy="106.5" r="0.68" fill="#b03062" fill-opacity="0.80"/>
<circle cx="374.3" cy="97.1" r="0.54" fill="#ee6430" fill-opacity="0.61"/>
<circle cx="382.9" cy="95.6" r="0.64" fill="#de4f40" fill-opacity="0.76"/>
<circle cx="371.0" cy="101.5" r="0.55" fill="#de4f40" fill-opacity="0.90"/>
<circle cx="374.2" cy="103.8" r="0.59" fill="#ee6430" fill-opacity="0.89"/>
<circle cx="386.7" cy="104.7" r="0.57" fill="#de4f40" fill-opacity="0.69"/>
<circle cx="382.1" cy="108.0" r="0.60" fill="#f67c1c" fill-opacity="0.87"/>
<circle cx="382.3" cy="108.9" r="0.35" fill="#bd355e" fill-opacity="0.51"/>
<circle cx="372.1" cy="106.0" r="0.56" fill="#bd355e" fill-opacity="0.53"/>
<circle cx="380.9" cy="104.8" r="0.37" fill="#bd355e" fill-opacity="0.62"/>
<circle cx="368.5" cy="101.4" r="0.39" fill="#f67c1c" fill-opacity="0.76"/>
<circle cx="384.0" cy="103.8" r="0.62" fill="#bd355e" fill-opacity="0.78"/>
<circle cx="371.5" cy="98.7" r="0.61" fill="#cf4150" fill-opacity="0.55"/>
<circle cx="370.5" cy="105.6" r="0.51" fill="#cf4150" fill-opacity="0.67"/>
<circle cx="379.5" cy="113.7" r="0.46" fill="#f67c1c" fill-opacity="0.78"/>
<circle cx="372.3" cy="109.0" r="0.54" fill="#cf4150" fill-opacity="0.73"/>
<circle cx="374.7" cy="99.8" r="0.67" fill="#de4f40" fill-opacity="0.68"/>
<circle cx="378.5" cy="98.8" r="0.40" fill="#b03062" fill-opacity="0.57"/>
<circle cx="381.4" cy="108.2" r="0.64" fill="#cf4150" fill-opacity="0.72"/>
<circle cx="376.2" cy="104.9" r="0.51" fill="#bd355e" fill-opacity="0.86"/>
<circle cx="369.1" cy="107.2" r="0.39" fill="#cf4150" fill-opacity="0.66"/>
<circle cx="368.1" cy="103.7" r="0.63" fill="#bd355e" fill-opacity="0.55"/>
<circle cx="376.6" cy="104.2" r="0.40" fill="#de4f40" fill-opacity="0.76"/>
<circle cx="381.3" cy="97.2" r="0.56" fill="#cf4150" fill-opacity="0.55"/>
<circle cx="381.1" cy="98.2" r="0.44" fill="#de4f40" fill-opacity="0.63"/>
<circle cx="386.0" cy="102.3" r="0.69" fill="#b03062" fill-opacity="0.88"/>
<circle cx="364.2" cy="95.1" r="0.65" fill="#cf4150" fill-opacity="0.67"/>
<circle cx="366.2" cy="92.0" r="0.64" fill="#bd355e" fill-opacity="0.77"/>
<circle cx="368.3" cy="96.7" r="0.36" fill="#ee6430" fill-opacity="0.73"/>
<circle cx="368.6" cy="95.5" r="0.57" fill="#cf4150" fill-opacity="0.54"/>
<circle cx="364.8" cy="92.7" r="0.48" fill="#bd355e" fill-opacity="0.70"/>
<circle cx="362.4" cy="92.9" r="0.48" fill="#ee6430" fill-opacity="0.87"/>
<circle cx="363.1" cy="92.7" r="0.56" fill="#de4f40" fill-opacity="0.90"/>
<circle cx="374.3" cy="92.1" r="0.64" fill="#b03062" fill-opacity="0.82"/>
<circle cx="374.4" cy="95.8" r="0.39" fill="#b03062" fill-opacity="0.51"/>
<circle cx="369.7" cy="97.2" r="0.48" fill="#f67c1c" fill-opacity="0.75"/>
<circle cx="372.1" cy="96.2" r="0.60" fill="#cf4150" fill-opacity="0.62"/>
<circle cx="371.2" cy="91.0" r="0.57" fill="#b03062" fill-opacity="0.77"/>
<circle cx="373.8" cy="93.6" r="0.69" fill="#ee6430" fill-opacity="0.77"/>
<circle cx="372.5" cy="96.8" r="0.55" fill="#f67c1c" fill-opacity="0.61"/>
<circle cx="366.9" cy="90.3" r="0.49" fill="#ee6430" fill-opacity="0.88"/>
<circle cx="377.7" cy="92.0" r="0.70" fill="#ee6430" fill-opacity="0.51"/>
<circle cx="376.5" cy="95.0" r="0.38" fill="#b03062" fill-opacity="0.88"/>
<circle cx="374.2" cy="88.9" r="0.44" fill="#ee6430" fill-opacity="0.69"/>
<circle cx="367.9" cy="95.8" r="0.63" fill="#de4f40" fill-opacity="0.84"/>
<circle cx="368.2" cy="91.2" r="0.40" fill="#b03062" fill-opacity="0.71"/>
<circle cx="332.1" cy="80.5" r="0.53" fill="#de4f40" fill-opacity="0.79"/>
<circle cx="347.1" cy="83.6" r="0.47" fill="#bd355e" fill-opacity="0.62"/>
<circle cx="344.0" cy="82.5" r="0.35" fill="#ee6430" fill-opacity="0.59"/>
<circle cx="335.9" cy="80.6" r="0.57" fill="#cf4150" fill-opacity="0.54"/>
<circle cx="353.4" cy="79.1" r="0.43" fill="#b03062" fill-opacity="0.54"/>
<circle cx="342.3" cy="77.0" r="0.53" fill="#de4f40" fill-opacity="0.68"/>
<circle cx="345.8" cy="80.9" r="0.55" fill="#cf4150" fill-opacity="0.85"/>
<circle cx="354.1" cy="82.6" r="0.36" fill="#f67c1c" fill-opacity="0.73"/>
<circle cx="352.3" cy="78.1" r="0.40" fill="#ee6430" fill-opacity="0.56"/>
<circle cx="338.0" cy="79.5" r="0.49" fill="#de4f40" fill-opacity="0.54"/>
<circle cx="357.3" cy="79.6" r="0.58" fill="#bd355e" fill-opacity="0.74"/>
<circle cx="356.1" cy="78.3" r="0.55" fill="#bd355e" fill-opacity="0.52"/>
<circle cx="335.0" cy="80.0" r="0.36" fill="#bd355e" fill-opacity="0.78"/>
<circle cx="355.2" cy="78.7" r="0.58" fill="#ee6430" fill-opacity="0.81"/>
<circle cx="336.0" cy="80.9" r="0.62" fill="#bd355e" fill-opacity="0.87"/>
<circle cx="342.8" cy="78.4" r="0.39" fill="#f67c1c" fill-opacity="0.77"/>
<circle cx="348.9" cy="79.1" r="0.40" fill="#ee6430" fill-opacity="0.77"/>
<circle cx="348.1" cy="82.1" r="0.60" fill="#ee6430" fill-opacity="0.82"/>
<circle cx="341.1" cy="78.8" r="0.69" fill="#de4f40" fill-opacity="0.68"/>
<circle cx="347.2" cy="80.3" r="0.66" fill="#f67c1c" fill-opacity="0.66"/>
<circle cx="353.6" cy="79.3" r="0.65" fill="#cf4150" fill-opacity="0.73"/>
<circle cx="345.6" cy="82.2" r="0.52" fill="#ee6430" fill-opacity="0.52"/>
<circle cx="346.0" cy="79.7" r="0.36" fill="#ee6430" fill-opacity="0.58"/>
<circle cx="344.2" cy="80.4" r="0.38" fill="#cf4150" fill-opacity="0.84"/>
<circle cx="351.2" cy="77.8" r="0.52" fill="#bd355e" fill-opacity="0.83"/>
<circle cx="335.8" cy="78.4" r="0.35" fill="#ee6430" fill-opacity="0.75"/>
<circle cx="333.5" cy="82.1" r="0.52" fill="#b03062" fill-opacity="0.65"/>
<circle cx="336.1" cy="80.1" r="0.39" fill="#f67c1c" fill-opacity="0.67"/>
<circle cx="342.8" cy="80.0" r="0.61" fill="#ee6430" fill-opacity="0.85"/>
<circle cx="357.1" cy="79.7" r="0.37" fill="#ee6430" fill-opacity="0.77"/>
<circle cx="342.8" cy="83.8" r="0.64" fill="#de4f40" fill-opacity="0.64"/>
<circle cx="340.6" cy="80.3" r="0.57" fill="#b03062" fill-opacity="0.75"/>
<circle cx="339.9" cy="82.6" r="0.67" fill="#b03062" fill-opacity="0.66"/>
<circle cx="354.5" cy="77.7" r="0.58" fill="#ee6430" fill-opacity="0.68"/>
<circle cx="333.7" cy="78.9" r="0.69" fill="#b03062" fill-opacity="0.79"/>
<circle cx="329.1" cy="75.6" r="0.37" fill="#bd355e" fill-opacity="0.88"/>
<circle cx="334.4" cy="72.2" r="0.66" fill="#cf4150" fill-opacity="0.81"/>
<circle cx="331.2" cy="75.8" r="0.41" fill="#bd355e" fill-opacity="0.60"/>
<circle cx="328.9" cy="73.3" r="0.60" fill="#b03062" fill-opacity="0.89"/>
<circle cx="331.6" cy="68.9" r="0.40" fill="#cf4150" fill-opacity="0.60"/>
<circle cx="327.3" cy="71.8" r="0.47" fill="#ee6430" fill-opacity="0.57"/>
<circle cx="331.8" cy="71.8" r="0.44" fill="#ee6430" fill-opacity="0.52"/>
<circle cx="335.0" cy="74.5" r="0.35" fill="#b03062" fill-opacity="0.77"/>
<circle cx="330.9" cy="69.7" r="0.37" fill="#ee6430" fill-opacity="0.55"/>
<circle cx="329.3" cy="75.2" r="0.55" fill="#cf4150" fill-opacity="0.84"/>
<circle cx="335.1" cy="74.6" r="0.40" fill="#bd355e" fill-opacity="0.59"/>
<circle cx="336.6" cy="72.0" r="0.64" fill="#cf4150" fill-opacity="0.86"/>
<circle cx="332.6" cy="74.4" r="0.53" fill="#bd355e" fill-opacity="0.89"/>
<circle cx="332.8" cy="73.3" r="0.60" fill="#ee6430" fill-opacity="0.77"/>
<circle cx="333.6" cy="69.6" r="0.45" fill="#bd355e" fill-opacity="0.74"/>
<circle cx="405.9" cy="164.3" r="0.48" fill="#de4f40" fill-opacity="0.60"/>
<circle cx="400.6" cy="155.3" r="0.39" fill="#bd355e" fill-opacity="0.81"/>
<circle cx="402.0" cy="161.8" r="0.45" fill="#f67c1c" fill-opacity="0.69"/>
<circle cx="404.4" cy="157.8" r="0.39" fill="#bd355e" fill-opacity="0.66"/>
<circle cx="404.7" cy="162.5" r="0.68" fill="#cf4150" fill-opacity="0.54"/>
<circle cx="401.7" cy="158.5" r="0.44" fill="#f67c1c" fill-opacity="0.52"/>
<circle cx="409.7" cy="158.3" r="0.39" fill="#ee6430" fill-opacity="0.64"/>
<circle cx="403.4" cy="165.3" r="0.60" fill="#ee6430" fill-opacity="0.71"/>
<circle cx="402.0" cy="158.0" r="0.48" fill="#bd355e" fill-opacity="0.67"/>
<circle cx="402.2" cy="162.0" r="0.50" fill="#ee6430" fill-opacity="0.61"/>
<circle cx="397.5" cy="160.4" r="0.67" fill="#cf4150" fill-opacity="0.68"/>
<circle cx="395.4" cy="157.7" r="0.44" fill="#bd355e" fill-opacity="0.66"/>
<circle cx="403.9" cy="165.0" r="0.57" fill="#b03062" fill-opacity="0.67"/>
<circle cx="409.2" cy="159.8" r="0.48" fill="#bd355e" fill-opacity="0.65"/>
<circle cx="408.1" cy="163.4" r="0.61" fill="#ee6430" fill-opacity="0.76"/>
<circle cx="400.7" cy="164.0" r="0.45" fill="#ee6430" fill-opacity="0.83"/>
<circle cx="401.0" cy="165.4" r="0.62" fill="#b03062" fill-opacity="0.69"/>
<circle cx="406.3" cy="159.5" r="0.67" fill="#f67c1c" fill-opacity="0.70"/>
<circle cx="410.5" cy="160.5" r="0.63" fill="#bd355e" fill-opacity="0.84"/>
<circle cx="405.3" cy="156.7" r="0.64" fill="#de4f40" fill-opacity="0.67"/>
<circle cx="411.9" cy="160.8" r="0.60" fill="#f67c1c" fill-opacity="0.82"/>
<circle cx="402.7" cy="158.2" r="0.69" fill="#de4f40" fill-opacity="0.62"/>
<circle cx="404.6" cy="163.5" r="0.58" fill="#f67c1c" fill-opacity="0.88"/>
<circle cx="399.4" cy="157.3" r="0.39" fill="#cf4150" fill-opacity="0.62"/>
<circle cx="408.8" cy="163.4" r="0.62" fill="#ee6430" fill-opacity="0.76"/>
<circle cx="396.5" cy="158.0" r="0.43" fill="#f67c1c" fill-opacity="0.74"/>
<circle cx="397.3" cy="159.0" r="0.44" fill="#bd355e" fill-opacity="0.90"/>
<circle cx="402.8" cy="158.9" r="0.52" fill="#b03062" fill-opacity="0.58"/>
<circle cx="406.4" cy="160.8" r="0.47" fill="#cf4150" fill-opacity="0.86"/>
<circle cx="403.7" cy="165.3" r="0.50" fill="#b03062" fill-opacity="0.66"/>
<circle cx="409.8" cy="162.4" r="0.41" fill="#de4f40" fill-opacity="0.78"/>
<circle cx="396.7" cy="163.9" r="0.64" fill="#bd355e" fill-opacity="0.64"/>
<circle cx="406.2" cy="162.7" r="0.50" fill="#cf4150" fill-opacity="0.52"/>
<circle cx="401.3" cy="160.1" r="0.61" fill="#f67c1c" fill-opacity="0.79"/>
<circle cx="396.8" cy="164.3" r="0.44" fill="#ee6430" fill-opacity="0.57"/>
<circle cx="405.4" cy="156.3" r="0.60" fill="#bd355e" fill-opacity="0.80"/>
<circle cx="408.1" cy="163.8" r="0.63" fill="#b03062" fill-opacity="0.53"/>
<circle cx="401.2" cy="163.4" r="0.45" fill="#de4f40" fill-opacity="0.76"/>
<circle cx="407.2" cy="162.0" r="0.43" fill="#bd355e" fill-opacity="0.51"/>
<circle cx="395.1" cy="161.9" r="0.62" fill="#f67c1c" fill-opacity="0.65"/>
<circle cx="396.2" cy="160.0" r="0.43" fill="#de4f40" fill-opacity="0.79"/>
<circle cx="398.4" cy="164.2" r="0.55" fill="#f67c1c" fill-opacity="0.89"/>
<circle cx="396.5" cy="164.1" r="0.35" fill="#cf4150" fill-opacity="0.74"/>
<circle cx="400.5" cy="155.5" r="0.58" fill="#ee6430" fill-opacity="0.58"/>
<circle cx="404.4" cy="155.7" r="0.61" fill="#ee6430" fill-opacity="0.89"/>
<circle cx="394.7" cy="161.1" r="0.46" fill="#cf4150" fill-opacity="0.78"/>
<circle cx="401.0" cy="164.8" r="0.40" fill="#ee6430" fill-opacity="0.82"/>
<circle cx="397.1" cy="156.1" r="0.45" fill="#ee6430" fill-opacity="0.74"/>
<circle cx="402.5" cy="157.4" r="0.46" fill="#bd355e" fill-opacity="0.51"/>
<circle cx="400.5" cy="165.5" r="0.42" fill="#de4f40" fill-opacity="0.57"/>
<circle cx="402.6" cy="158.0" r="0.61" fill="#de4f40" fill-opacity="0.89"/>
<circle cx="400.4" cy="164.9" r="0.49" fill="#f67c1c" fill-opacity="0.85"/>
<circle cx="407.4" cy="158.8" r="0.61" fill="#f67c1c" fill-opacity="0.87"/>
<circle cx="398.9" cy="164.1" r="0.69" fill="#f67c1c" fill-opacity="0.51"/>
<circle cx="400.5" cy="163.0" r="0.42" fill="#ee6430" fill-opacity="0.61"/>
<circle cx="433.5" cy="169.6" r="0.58" fill="#bd355e" fill-opacity="0.51"/>
<circle cx="445.9" cy="164.5" r="0.42" fill="#cf4150" fill-opacity="0.76"/>
<circle cx="434.5" cy="169.0" r="0.50" fill="#cf4150" fill-opacity="0.73"/>
<circle cx="432.7" cy="166.9" r="0.53" fill="#f67c1c" fill-opacity="0.52"/>
<circle cx="430.3" cy="167.9" r="0.44" fill="#de4f40" fill-opacity="0.69"/>
<circle cx="437.5" cy="167.6" r="0.66" fill="#b03062" fill-opacity="0.78"/>
<circle cx="440.6" cy="168.5" r="0.44" fill="#de4f40" fill-opacity="0.78"/>
<circle cx="440.8" cy="169.6" r="0.64" fill="#bd355e" fill-opacity="0.84"/>
<circle cx="437.6" cy="166.9" r="0.58" fill="#de4f40" fill-opacity="0.67"/>
<circle cx="446.0" cy="165.8" r="0.60" fill="#cf4150" fill-opacity="0.53"/>
<circle cx="434.3" cy="168.8" r="0.53" fill="#de4f40" fill-opacity="0.88"/>
<circle cx="433.2" cy="163.4" r="0.40" fill="#ee6430" fill-opacity="0.55"/>
<circle cx="442.5" cy="170.3" r="0.51" fill="#ee6430" fill-opacity="0.64"/>
<circle cx="429.0" cy="168.9" r="0.47" fill="#ee6430" fill-opacity="0.86"/>
<circle cx="443.2" cy="169.5" r="0.68" fill="#cf4150" fill-opacity="0.78"/>
<circle cx="426.7" cy="167.2" r="0.43" fill="#cf4150" fill-opacity="0.63"/>
<circle cx="443.6" cy="167.8" r="0.55" fill="#f67c1c" fill-opacity="0.63"/>
<circle cx="436.4" cy="163.1" r="0.61" fill="#cf4150" fill-opacity="0.62"/>
<circle cx="431.1" cy="162.8" r="0.51" fill="#bd355e" fill-opacity="0.82"/>
<circle cx="436.7" cy="169.5" r="0.36" fill="#ee6430" fill-opacity="0.57"/>
<circle cx="475.7" cy="116.9" r="0.55" fill="#de4f40" fill-opacity="0.89"/>
<circle cx="492.3" cy="90.4" r="0.38" fill="#f67c1c" fill-opacity="0.84"/>
<circle cx="479.5" cy="102.9" r="0.53" fill="#ee6430" fill-opacity="0.68"/>
<circle cx="455.6" cy="84.8" r="0.45" fill="#cf4150" fill-opacity="0.66"/>
<circle cx="457.3" cy="91.3" r="0.44" fill="#ee6430" fill-opacity="0.90"/>
<circle cx="471.4" cy="86.3" r="0.40" fill="#f67c1c" fill-opacity="0.77"/>
<circle cx="465.1" cy="94.6" r="0.49" fill="#cf4150" fill-opacity="0.67"/>
<circle cx="466.9" cy="79.8" r="0.70" fill="#ee6430" fill-opacity="0.88"/>
<circle cx="482.2" cy="78.4" r="0.36" fill="#f67c1c" fill-opacity="0.55"/>
<circle cx="473.2" cy="87.6" r="0.62" fill="#ee6430" fill-opacity="0.82"/>
<circle cx="486.0" cy="120.6" r="0.50" fill="#bd355e" fill-opacity="0.53"/>
<circle cx="487.9" cy="119.1" r="0.48" fill="#cf4150" fill-opacity="0.86"/>
<circle cx="456.3" cy="98.5" r="0.70" fill="#de4f40" fill-opacity="0.55"/>
<circle cx="480.9" cy="107.9" r="0.43" fill="#cf4150" fill-opacity="0.67"/>
<circle cx="492.6" cy="106.2" r="0.52" fill="#f67c1c" fill-opacity="0.78"/>
<circle cx="469.6" cy="74.1" r="0.46" fill="#f67c1c" fill-opacity="0.75"/>
<circle cx="483.3" cy="119.4" r="0.51" fill="#ee6430" fill-opacity="0.57"/>
<circle cx="460.9" cy="122.6" r="0.63" fill="#cf4150" fill-opacity="0.79"/>
<circle cx="465.0" cy="103.7" r="0.61" fill="#bd355e" fill-opacity="0.76"/>
<circle cx="474.9" cy="78.8" r="0.55" fill="#f67c1c" fill-opacity="0.76"/>
<circle cx="462.6" cy="80.9" r="0.52" fill="#ee6430" fill-opacity="0.73"/>
<circle cx="481.9" cy="114.2" r="0.50" fill="#ee6430" fill-opacity="0.60"/>
<circle cx="456.3" cy="97.4" r="0.40" fill="#bd355e" fill-opacity="0.65"/>
<circle cx="478.5" cy="98.4" r="0.36" fill="#f67c1c" fill-opacity="0.55"/>
<circle cx="462.8" cy="100.3" r="0.39" fill="#cf4150" fill-opacity="0.60"/>
<circle cx="492.5" cy="102.7" r="0.68" fill="#bd355e" fill-opacity="0.85"/>
<circle cx="462.3" cy="74.6" r="0.67" fill="#de4f40" fill-opacity="0.83"/>
<circle cx="472.6" cy="115.1" r="0.59" fill="#ee6430" fill-opacity="0.68"/>
<circle cx="479.1" cy="108.7" r="0.63" fill="#bd355e" fill-opacity="0.55"/>
<circle cx="453.8" cy="83.5" r="0.60" fill="#ee6430" fill-opacity="0.87"/>
<circle cx="486.0" cy="96.1" r="0.43" fill="#f67c1c" fill-opacity="0.82"/>
<circle cx="464.3" cy="82.2" r="0.66" fill="#b03062" fill-opacity="0.55"/>
<circle cx="471.4" cy="97.5" r="0.49" fill="#b03062" fill-opacity="0.87"/>
<circle cx="471.1" cy="89.6" r="0.43" fill="#bd355e" fill-opacity="0.59"/>
<circle cx="477.2" cy="94.4" r="0.56" fill="#de4f40" fill-opacity="0.79"/>
<circle cx="450.5" cy="96.7" r="0.60" fill="#cf4150" fill-opacity="0.63"/>
<circle cx="466.2" cy="93.8" r="0.49" fill="#b03062" fill-opacity="0.57"/>
<circle cx="451.8" cy="100.0" r="0.51" fill="#bd355e" fill-opacity="0.72"/>
<circle cx="477.8" cy="114.6" r="0.57" fill="#b03062" fill-opacity="0.61"/>
<circle cx="487.5" cy="87.0" r="0.51" fill="#f67c1c" fill-opacity="0.56"/>
<circle cx="470.9" cy="119.8" r="0.67" fill="#de4f40" fill-opacity="0.73"/>
<circle cx="470.6" cy="87.7" r="0.64" fill="#bd355e" fill-opacity="0.66"/>
<circle cx="458.3" cy="102.9" r="0.62" fill="#cf4150" fill-opacity="0.67"/>
<circle cx="481.7" cy="92.9" r="0.69" fill="#b03062" fill-opacity="0.63"/>
<circle cx="477.8" cy="128.6" r="0.64" fill="#de4f40" fill-opacity="0.85"/>
<circle cx="460.3" cy="119.4" r="0.51" fill="#b03062" fill-opacity="0.74"/>
<circle cx="483.5" cy="118.3" r="0.69" fill="#b03062" fill-opacity="0.61"/>
<circle cx="463.2" cy="77.0" r="0.42" fill="#bd355e" fill-opacity="0.54"/>
<circle cx="481.3" cy="110.3" r="0.52" fill="#b03062" fill-opacity="0.60"/>
<circle cx="469.0" cy="115.3" r="0.47" fill="#f67c1c" fill-opacity="0.82"/>
<circle cx="465.4" cy="73.3" r="0.58" fill="#cf4150" fill-opacity="0.73"/>
<circle cx="488.4" cy="103.2" r="0.65" fill="#cf4150" fill-opacity="0.83"/>
<circle cx="459.6" cy="89.9" r="0.43" fill="#b03062" fill-opacity="0.80"/>
<circle cx="469.4" cy="105.4" r="0.69" fill="#bd355e" fill-opacity="0.90"/>
<circle cx="473.5" cy="81.2" r="0.62" fill="#b03062" fill-opacity="0.62"/>
<circle cx="479.9" cy="107.9" r="0.63" fill="#b03062" fill-opacity="0.76"/>
<circle cx="467.1" cy="85.5" r="0.45" fill="#cf4150" fill-opacity="0.59"/>
<circle cx="473.2" cy="91.4" r="0.48" fill="#b03062" fill-opacity="0.57"/>
<circle cx="472.1" cy="112.2" r="0.57" fill="#f67c1c" fill-opacity="0.71"/>
<circle cx="467.3" cy="121.9" r="0.66" fill="#b03062" fill-opacity="0.57"/>
<circle cx="472.8" cy="121.5" r="0.52" fill="#b03062" fill-opacity="0.88"/>
<circle cx="457.3" cy="111.1" r="0.41" fill="#bd355e" fill-opacity="0.83"/>
<circle cx="484.3" cy="102.0" r="0.40" fill="#b03062" fill-opacity="0.52"/>
<circle cx="476.9" cy="115.1" r="0.64" fill="#f67c1c" fill-opacity="0.89"/>
<circle cx="463.3" cy="99.5" r="0.66" fill="#f67c1c" fill-opacity="0.56"/>
<circle cx="465.3" cy="85.7" r="0.40" fill="#de4f40" fill-opacity="0.68"/>
<circle cx="477.1" cy="115.0" r="0.40" fill="#bd355e" fill-opacity="0.72"/>
<circle cx="482.8" cy="109.0" r="0.68" fill="#f67c1c" fill-opacity="0.87"/>
<circle cx="473.5" cy="78.1" r="0.63" fill="#b03062" fill-opacity="0.85"/>
<circle cx="456.3" cy="90.4" r="0.40" fill="#bd355e" fill-opacity="0.63"/>
<circle cx="469.0" cy="68.1" r="0.39" fill="#f67c1c" fill-opacity="0.87"/>
<circle cx="464.6" cy="69.2" r="0.44" fill="#cf4150" fill-opacity="0.56"/>
<circle cx="481.1" cy="43.4" r="0.48" fill="#bd355e" fill-opacity="0.76"/>
<circle cx="490.8" cy="53.8" r="0.58" fill="#cf4150" fill-opacity="0.64"/>
<circle cx="474.4" cy="72.9" r="0.61" fill="#cf4150" fill-opacity="0.64"/>
<circle cx="476.0" cy="48.1" r="0.65" fill="#b03062" fill-opacity="0.72"/>
<circle cx="473.9" cy="68.0" r="0.66" fill="#bd355e" fill-opacity="0.75"/>
<circle cx="475.0" cy="44.8" r="0.50" fill="#cf4150" fill-opacity="0.82"/>
<circle cx="466.8" cy="57.3" r="0.54" fill="#ee6430" fill-opacity="0.87"/>
<circle cx="473.6" cy="58.3" r="0.44" fill="#f67c1c" fill-opacity="0.56"/>
<circle cx="473.3" cy="45.9" r="0.63" fill="#f67c1c" fill-opacity="0.50"/>
<circle cx="480.6" cy="69.5" r="0.60" fill="#de4f40" fill-opacity="0.65"/>
<circle cx="485.1" cy="54.7" r="0.65" fill="#f67c1c" fill-opacity="0.73"/>
<circle cx="495.9" cy="56.5" r="0.35" fill="#de4f40" fill-opacity="0.77"/>
<circle cx="474.9" cy="76.1" r="0.52" fill="#cf4150" fill-opacity="0.65"/>
<circle cx="491.0" cy="48.8" r="0.51" fill="#b03062" fill-opacity="0.74"/>
<circle cx="474.5" cy="50.2" r="0.58" fill="#f67c1c" fill-opacity="0.86"/>
<circle cx="477.2" cy="46.4" r="0.65" fill="#de4f40" fill-opacity="0.50"/>
<circle cx="463.8" cy="62.5" r="0.49" fill="#b03062" fill-opacity="0.90"/>
<circle cx="477.7" cy="56.6" r="0.39" fill="#cf4150" fill-opacity="0.54"/>
<circle cx="473.0" cy="65.7" r="0.58" fill="#f67c1c" fill-opacity="0.53"/>
<circle cx="493.9" cy="50.1" r="0.55" fill="#ee6430" fill-opacity="0.73"/>
<circle cx="467.0" cy="57.2" r="0.52" fill="#f67c1c" fill-opacity="0.59"/>
<circle cx="469.5" cy="65.4" r="0.53" fill="#f67c1c" fill-opacity="0.55"/>
<circle cx="464.2" cy="69.3" r="0.64" fill="#de4f40" fill-opacity="0.59"/>
<circle cx="401.3" cy="53.8" r="0.45" fill="#cf4150" fill-opacity="0.51"/>
<circle cx="358.2" cy="61.7" r="0.63" fill="#ee6430" fill-opacity="0.74"/>
<circle cx="386.8" cy="70.4" r="0.59" fill="#f67c1c" fill-opacity="0.57"/>
<circle cx="355.6" cy="56.6" r="0.49" fill="#cf4150" fill-opacity="0.69"/>
<circle cx="383.9" cy="42.8" r="0.65" fill="#cf4150" fill-opacity="0.84"/>
<circle cx="414.1" cy="34.0" r="0.41" fill="#bd355e" fill-opacity="0.65"/>
<circle cx="370.3" cy="37.5" r="0.47" fill="#b03062" fill-opacity="0.64"/>
<circle cx="377.4" cy="65.7" r="0.39" fill="#bd355e" fill-opacity="0.63"/>
<circle cx="390.9" cy="27.9" r="0.40" fill="#cf4150" fill-opacity="0.74"/>
<circle cx="405.7" cy="44.4" r="0.54" fill="#f67c1c" fill-opacity="0.63"/>
<circle cx="406.7" cy="67.4" r="0.35" fill="#de4f40" fill-opacity="0.90"/>
<circle cx="352.3" cy="44.7" r="0.44" fill="#cf4150" fill-opacity="0.53"/>
<circle cx="359.2" cy="45.7" r="0.57" fill="#cf4150" fill-opacity="0.73"/>
<circle cx="444.5" cy="40.2" r="0.66" fill="#bd355e" fill-opacity="0.86"/>
<circle cx="401.4" cy="35.3" r="0.36" fill="#bd355e" fill-opacity="0.60"/>
<circle cx="374.4" cy="64.1" r="0.43" fill="#f67c1c" fill-opacity="0.71"/>
<circle cx="362.7" cy="55.0" r="0.47" fill="#b03062" fill-opacity="0.78"/>
<circle cx="389.0" cy="57.7" r="0.38" fill="#ee6430" fill-opacity="0.68"/>
<circle cx="401.8" cy="60.5" r="0.60" fill="#bd355e" fill-opacity="0.87"/>
<circle cx="375.7" cy="69.1" r="0.52" fill="#bd355e" fill-opacity="0.66"/>
<circle cx="357.1" cy="41.7" r="0.42" fill="#cf4150" fill-opacity="0.72"/>
<circle cx="407.5" cy="45.3" r="0.63" fill="#ee6430" fill-opacity="0.64"/>
<circle cx="361.4" cy="62.5" r="0.45" fill="#de4f40" fill-opacity="0.50"/>
<circle cx="435.3" cy="61.6" r="0.40" fill="#bd355e" fill-opacity="0.68"/>
<circle cx="365.5" cy="38.7" r="0.60" fill="#f67c1c" fill-opacity="0.50"/>
<circle cx="401.0" cy="30.7" r="0.48" fill="#cf4150" fill-opacity="0.52"/>
<circle cx="397.9" cy="62.2" r="0.39" fill="#ee6430" fill-opacity="0.58"/>
<circle cx="437.1" cy="59.5" r="0.39" fill="#de4f40" fill-opacity="0.54"/>
<circle cx="385.5" cy="45.7" r="0.50" fill="#ee6430" fill-opacity="0.87"/>
<circle cx="409.6" cy="33.5" r="0.41" fill="#ee6430" fill-opacity="0.82"/>
<circle cx="406.4" cy="57.3" r="0.57" fill="#ee6430" fill-opacity="0.72"/>
<circle cx="386.5" cy="50.3" r="0.43" fill="#bd355e" fill-opacity="0.84"/>
<circle cx="435.5" cy="60.3" r="0.49" fill="#ee6430" fill-opacity="0.65"/>
<circle cx="430.3" cy="67.6" r="0.52" fill="#ee6430" fill-opacity="0.62"/>
<circle cx="432.0" cy="60.9" r="0.66" fill="#de4f40" fill-opacity="0.63"/>
<circle cx="406.8" cy="69.6" r="0.61" fill="#de4f40" fill-opacity="0.68"/>
<circle cx="419.0" cy="28.9" r="0.53" fill="#ee6430" fill-opacity="0.67"/>
<circle cx="373.2" cy="31.0" r="0.42" fill="#bd355e" fill-opacity="0.83"/>
<circle cx="393.5" cy="55.8" r="0.39" fill="#de4f40" fill-opacity="0.80"/>
<circle cx="367.1" cy="32.4" r="0.58" fill="#cf4150" fill-opacity="0.66"/>
<circle cx="368.3" cy="41.3" r="0.42" fill="#b03062" fill-opacity="0.88"/>
<circle cx="430.5" cy="65.5" r="0.47" fill="#bd355e" fill-opacity="0.88"/>
<circle cx="375.3" cy="65.3" r="0.54" fill="#bd355e" fill-opacity="0.58"/>
<circle cx="439.7" cy="36.1" r="0.68" fill="#f67c1c" fill-opacity="0.85"/>
<circle cx="390.4" cy="50.0" r="0.45" fill="#b03062" fill-opacity="0.78"/>
<circle cx="347.2" cy="118.6" r="0.69" fill="#b03062" fill-opacity="0.83"/>
<circle cx="344.8" cy="102.1" r="0.64" fill="#cf4150" fill-opacity="0.87"/>
<circle cx="343.9" cy="95.0" r="0.40" fill="#cf4150" fill-opacity="0.56"/>
<circle cx="351.4" cy="98.1" r="0.51" fill="#b03062" fill-opacity="0.61"/>
<circle cx="354.6" cy="109.6" r="0.36" fill="#bd355e" fill-opacity="0.86"/>
<circle cx="358.1" cy="123.0" r="0.38" fill="#ee6430" fill-opacity="0.83"/>
<circle cx="354.7" cy="120.5" r="0.39" fill="#f67c1c" fill-opacity="0.69"/>
<circle cx="347.4" cy="112.3" r="0.66" fill="#bd355e" fill-opacity="0.51"/>
<circle cx="356.5" cy="135.2" r="0.64" fill="#b03062" fill-opacity="0.88"/>
<circle cx="339.4" cy="128.6" r="0.59" fill="#b03062" fill-opacity="0.50"/>
<circle cx="354.6" cy="117.9" r="0.62" fill="#b03062" fill-opacity="0.73"/>
<circle cx="358.2" cy="117.8" r="0.67" fill="#cf4150" fill-opacity="0.53"/>
<circle cx="345.0" cy="105.7" r="0.46" fill="#bd355e" fill-opacity="0.66"/>
<circle cx="350.6" cy="106.4" r="0.58" fill="#b03062" fill-opacity="0.90"/>
<circle cx="332.4" cy="120.6" r="0.53" fill="#de4f40" fill-opacity="0.63"/>
<circle cx="333.9" cy="133.4" r="0.60" fill="#de4f40" fill-opacity="0.62"/>
<circle cx="352.5" cy="99.0" r="0.55" fill="#ee6430" fill-opacity="0.87"/>
<circle cx="341.6" cy="126.0" r="0.39" fill="#b03062" fill-opacity="0.55"/>
<circle cx="357.1" cy="127.7" r="0.61" fill="#b03062" fill-opacity="0.51"/>
<circle cx="350.2" cy="122.4" r="0.66" fill="#b03062" fill-opacity="0.59"/>
<circle cx="336.3" cy="112.6" r="0.44" fill="#de4f40" fill-opacity="0.76"/>
<circle cx="339.6" cy="137.2" r="0.70" fill="#ee6430" fill-opacity="0.61"/>
<circle cx="341.4" cy="119.6" r="0.46" fill="#b03062" fill-opacity="0.59"/>
<circle cx="340.5" cy="147.0" r="0.58" fill="#b03062" fill-opacity="0.73"/>
<circle cx="347.0" cy="102.3" r="0.35" fill="#b03062" fill-opacity="0.82"/>
<circle cx="348.5" cy="127.2" r="0.43" fill="#f67c1c" fill-opacity="0.76"/>
<circle cx="348.4" cy="110.1" r="0.41" fill="#b03062" fill-opacity="0.60"/>
<circle cx="340.0" cy="129.2" r="0.35" fill="#bd355e" fill-opacity="0.77"/>
<circle cx="348.4" cy="111.4" r="0.44" fill="#bd355e" fill-opacity="0.63"/>
<circle cx="358.6" cy="123.3" r="0.61" fill="#ee6430" fill-opacity="0.77"/>
<circle cx="342.5" cy="113.1" r="0.52" fill="#f67c1c" fill-opacity="0.58"/>
<circle cx="351.0" cy="94.4" r="0.39" fill="#b03062" fill-opacity="0.68"/>
<circle cx="346.1" cy="119.8" r="0.41" fill="#b03062" fill-opacity="0.77"/>
<circle cx="336.8" cy="102.9" r="0.48" fill="#cf4150" fill-opacity="0.76"/>
<circle cx="348.8" cy="141.4" r="0.65" fill="#bd355e" fill-opacity="0.53"/>
<circle cx="345.8" cy="107.7" r="0.47" fill="#de4f40" fill-opacity="0.73"/>
<circle cx="359.2" cy="114.5" r="0.69" fill="#bd355e" fill-opacity="0.87"/>
<circle cx="344.3" cy="142.7" r="0.59" fill="#de4f40" fill-opacity="0.60"/>
<circle cx="336.7" cy="130.4" r="0.54" fill="#de4f40" fill-opacity="0.55"/>
<circle cx="342.9" cy="143.6" r="0.57" fill="#b03062" fill-opacity="0.81"/>
<circle cx="340.0" cy="91.8" r="0.52" fill="#de4f40" fill-opacity="0.58"/>
<circle cx="348.7" cy="137.2" r="0.51" fill="#f67c1c" fill-opacity="0.85"/>
<circle cx="342.5" cy="112.6" r="0.43" fill="#b03062" fill-opacity="0.87"/>
<circle cx="357.2" cy="122.8" r="0.55" fill="#b03062" fill-opacity="0.80"/>
<circle cx="352.2" cy="131.2" r="0.68" fill="#ee6430" fill-opacity="0.71"/>
<circle cx="339.6" cy="52.3" r="0.49" fill="#ee6430" fill-opacity="0.72"/>
<circle cx="366.6" cy="39.8" r="0.41" fill="#f67c1c" fill-opacity="0.72"/>
<circle cx="346.7" cy="28.3" r="0.69" fill="#bd355e" fill-opacity="0.80"/>
<circle cx="353.2" cy="51.1" r="0.50" fill="#de4f40" fill-opacity="0.67"/>
<circle cx="333.2" cy="42.5" r="0.38" fill="#ee6430" fill-opacity="0.67"/>
<circle cx="348.7" cy="48.2" r="0.69" fill="#ee6430" fill-opacity="0.82"/>
<circle cx="348.6" cy="52.2" r="0.52" fill="#cf4150" fill-opacity="0.68"/>
<circle cx="348.0" cy="41.9" r="0.51" fill="#b03062" fill-opacity="0.83"/>
<circle cx="345.8" cy="50.0" r="0.38" fill="#de4f40" fill-opacity="0.68"/>
<circle cx="363.6" cy="38.1" r="0.45" fill="#bd355e" fill-opacity="0.66"/>
<circle cx="351.8" cy="41.5" r="0.55" fill="#bd355e" fill-opacity="0.61"/>
<circle cx="343.3" cy="46.8" r="0.61" fill="#ee6430" fill-opacity="0.74"/>
<circle cx="353.3" cy="34.8" r="0.69" fill="#bd355e" fill-opacity="0.59"/>
<circle cx="346.5" cy="44.7" r="0.55" fill="#b03062" fill-opacity="0.73"/>
<circle cx="365.6" cy="37.3" r="0.56" fill="#de4f40" fill-opacity="0.63"/>
<circle cx="369.1" cy="43.3" r="0.54" fill="#b03062" fill-opacity="0.73"/>
<circle cx="359.0" cy="35.1" r="0.50" fill="#ee6430" fill-opacity="0.61"/>
<circle cx="360.6" cy="35.5" r="0.45" fill="#de4f40" fill-opacity="0.59"/>
<circle cx="348.2" cy="50.4" r="0.69" fill="#cf4150" fill-opacity="0.88"/>
<circle cx="331.7" cy="42.7" r="0.70" fill="#b03062" fill-opacity="0.81"/>
<circle cx="345.9" cy="27.0" r="0.39" fill="#cf4150" fill-opacity="0.64"/>
<circle cx="355.4" cy="30.5" r="0.66" fill="#ee6430" fill-opacity="0.65"/>
<circle cx="361.4" cy="28.5" r="0.39" fill="#de4f40" fill-opacity="0.78"/>
<circle cx="354.2" cy="50.1" r="0.56" fill="#de4f40" fill-opacity="0.69"/>
<circle cx="343.6" cy="41.0" r="0.44" fill="#f67c1c" fill-opacity="0.79"/>
<circle cx="450.5" cy="149.3" r="0.65" fill="#bd355e" fill-opacity="0.74"/>
<circle cx="492.2" cy="154.4" r="0.41" fill="#de4f40" fill-opacity="0.76"/>
<circle cx="478.8" cy="148.4" r="0.35" fill="#de4f40" fill-opacity="0.79"/>
<circle cx="456.5" cy="148.1" r="0.64" fill="#cf4150" fill-opacity="0.87"/>
<circle cx="476.5" cy="149.6" r="0.49" fill="#ee6430" fill-opacity="0.56"/>
<circle cx="474.3" cy="136.2" r="0.39" fill="#de4f40" fill-opacity="0.70"/>
<circle cx="493.1" cy="147.1" r="0.51" fill="#cf4150" fill-opacity="0.63"/>
<circle cx="463.1" cy="158.3" r="0.41" fill="#de4f40" fill-opacity="0.61"/>
<circle cx="472.7" cy="149.8" r="0.56" fill="#cf4150" fill-opacity="0.53"/>
<circle cx="491.6" cy="157.5" r="0.41" fill="#f67c1c" fill-opacity="0.85"/>
<circle cx="470.8" cy="153.2" r="0.38" fill="#cf4150" fill-opacity="0.81"/>
<circle cx="487.6" cy="147.6" r="0.38" fill="#f67c1c" fill-opacity="0.51"/>
<circle cx="451.7" cy="148.9" r="0.38" fill="#b03062" fill-opacity="0.80"/>
<circle cx="473.9" cy="146.1" r="0.46" fill="#cf4150" fill-opacity="0.55"/>
<circle cx="474.5" cy="152.1" r="0.44" fill="#f67c1c" fill-opacity="0.72"/>
<circle cx="483.8" cy="152.5" r="0.47" fill="#f67c1c" fill-opacity="0.82"/>
<circle cx="471.3" cy="139.7" r="0.70" fill="#b03062" fill-opacity="0.70"/>
<circle cx="474.6" cy="162.2" r="0.35" fill="#de4f40" fill-opacity="0.75"/>
<circle cx="471.6" cy="148.8" r="0.35" fill="#de4f40" fill-opacity="0.60"/>
<circle cx="467.9" cy="163.9" r="0.39" fill="#bd355e" fill-opacity="0.86"/>
<circle cx="452.0" cy="145.5" r="0.35" fill="#b03062" fill-opacity="0.58"/>
<circle cx="454.3" cy="155.1" r="0.36" fill="#cf4150" fill-opacity="0.59"/>
<circle cx="466.0" cy="146.5" r="0.39" fill="#bd355e" fill-opacity="0.79"/>
<circle cx="458.6" cy="156.5" r="0.52" fill="#cf4150" fill-opacity="0.73"/>
<circle cx="471.3" cy="161.3" r="0.65" fill="#bd355e" fill-opacity="0.77"/>
<circle cx="455.0" cy="152.1" r="0.56" fill="#ee6430" fill-opacity="0.57"/>
<circle cx="457.7" cy="145.8" r="0.52" fill="#f67c1c" fill-opacity="0.56"/>
<circle cx="478.7" cy="144.4" r="0.54" fill="#ee6430" fill-opacity="0.83"/>
<circle cx="450.6" cy="152.4" r="0.45" fill="#bd355e" fill-opacity="0.55"/>
<circle cx="492.9" cy="152.5" r="0.48" fill="#ee6430" fill-opacity="0.60"/>
<circle cx="392.9" cy="86.9" r="0.46" fill="#f67c1c" fill-opacity="0.88"/>
<circle cx="395.0" cy="86.6" r="0.57" fill="#cf4150" fill-opacity="0.51"/>
<circle cx="399.9" cy="82.8" r="0.57" fill="#bd355e" fill-opacity="0.77"/>
<circle cx="398.9" cy="88.1" r="0.63" fill="#f67c1c" fill-opacity="0.68"/>
<circle cx="395.9" cy="83.0" r="0.53" fill="#cf4150" fill-opacity="0.62"/>
<circle cx="389.9" cy="81.7" r="0.52" fill="#f67c1c" fill-opacity="0.87"/>
<circle cx="386.5" cy="85.8" r="0.45" fill="#ee6430" fill-opacity="0.52"/>
<circle cx="402.1" cy="83.8" r="0.46" fill="#de4f40" fill-opacity="0.53"/>
<circle cx="403.8" cy="85.5" r="0.48" fill="#de4f40" fill-opacity="0.80"/>
<circle cx="396.8" cy="85.5" r="0.60" fill="#b03062" fill-opacity="0.54"/>
<circle cx="393.2" cy="84.1" r="0.48" fill="#b03062" fill-opacity="0.83"/>
<circle cx="393.0" cy="84.2" r="0.39" fill="#cf4150" fill-opacity="0.72"/>
<circle cx="400.2" cy="89.3" r="0.67" fill="#f67c1c" fill-opacity="0.88"/>
<circle cx="401.1" cy="84.5" r="0.69" fill="#ee6430" fill-opacity="0.64"/>
<circle cx="401.9" cy="89.4" r="0.60" fill="#cf4150" fill-opacity="0.55"/>
<circle cx="405.2" cy="82.8" r="0.62" fill="#ee6430" fill-opacity="0.85"/>
<circle cx="402.2" cy="87.8" r="0.41" fill="#bd355e" fill-opacity="0.87"/>
<circle cx="403.2" cy="82.0" r="0.66" fill="#f67c1c" fill-opacity="0.59"/>
<circle cx="397.4" cy="86.5" r="0.63" fill="#b03062" fill-opacity="0.72"/>
<circle cx="402.7" cy="83.4" r="0.38" fill="#f67c1c" fill-opacity="0.86"/>
<circle cx="397.6" cy="79.7" r="0.61" fill="#de4f40" fill-opacity="0.70"/>
<circle cx="390.5" cy="89.3" r="0.60" fill="#ee6430" fill-opacity="0.73"/>
<circle cx="400.8" cy="83.4" r="0.54" fill="#de4f40" fill-opacity="0.56"/>
<circle cx="385.3" cy="85.5" r="0.37" fill="#bd355e" fill-opacity="0.69"/>
<circle cx="405.5" cy="87.0" r="0.57" fill="#cf4150" fill-opacity="0.53"/>
<circle cx="341.4" cy="141.6" r="0.62" fill="#cf4150" fill-opacity="0.90"/>
<circle cx="372.5" cy="136.0" r="0.63" fill="#de4f40" fill-opacity="0.71"/>
<circle cx="366.8" cy="155.2" r="0.40" fill="#bd355e" fill-opacity="0.62"/>
<circle cx="373.6" cy="151.9" r="0.64" fill="#ee6430" fill-opacity="0.70"/>
<circle cx="348.9" cy="149.9" r="0.36" fill="#bd355e" fill-opacity="0.65"/>
<circle cx="359.4" cy="154.3" r="0.38" fill="#bd355e" fill-opacity="0.56"/>
<circle cx="366.5" cy="131.6" r="0.63" fill="#f67c1c" fill-opacity="0.56"/>
<circle cx="376.1" cy="138.4" r="0.45" fill="#b03062" fill-opacity="0.83"/>
<circle cx="365.3" cy="132.2" r="0.35" fill="#bd355e" fill-opacity="0.64"/>
<circle cx="376.6" cy="148.7" r="0.59" fill="#ee6430" fill-opacity="0.67"/>
<circle cx="346.6" cy="139.1" r="0.37" fill="#cf4150" fill-opacity="0.77"/>
<circle cx="346.2" cy="137.0" r="0.44" fill="#de4f40" fill-opacity="0.82"/>
<circle cx="362.8" cy="141.1" r="0.57" fill="#f67c1c" fill-opacity="0.89"/>
<circle cx="357.6" cy="154.1" r="0.39" fill="#bd355e" fill-opacity="0.62"/>
<circle cx="353.2" cy="138.2" r="0.51" fill="#de4f40" fill-opacity="0.65"/>
<circle cx="356.8" cy="159.0" r="0.37" fill="#b03062" fill-opacity="0.84"/>
<circle cx="377.7" cy="148.2" r="0.58" fill="#ee6430" fill-opacity="0.89"/>
<circle cx="355.5" cy="151.3" r="0.63" fill="#bd355e" fill-opacity="0.86"/>
<circle cx="359.1" cy="141.7" r="0.62" fill="#f67c1c" fill-opacity="0.79"/>
<circle cx="347.8" cy="133.1" r="0.42" fill="#f67c1c" fill-opacity="0.65"/>
<circle cx="340.6" cy="143.4" r="0.42" fill="#f67c1c" fill-opacity="0.58"/>
<circle cx="354.0" cy="153.0" r="0.53" fill="#de4f40" fill-opacity="0.80"/>
<circle cx="377.8" cy="136.4" r="0.63" fill="#bd355e" fill-opacity="0.79"/>
<circle cx="342.6" cy="134.7" r="0.63" fill="#f67c1c" fill-opacity="0.82"/>
<circle cx="342.6" cy="133.4" r="0.37" fill="#ee6430" fill-opacity="0.84"/>
<circle cx="353.4" cy="87.4" r="0.37" fill="#cf4150" fill-opacity="0.71"/>
<circle cx="351.8" cy="82.6" r="0.65" fill="#bd355e" fill-opacity="0.85"/>
<circle cx="344.8" cy="79.0" r="0.49" fill="#b03062" fill-opacity="0.65"/>
<circle cx="344.7" cy="80.0" r="0.39" fill="#b03062" fill-opacity="0.58"/>
<circle cx="342.4" cy="78.4" r="0.62" fill="#f67c1c" fill-opacity="0.57"/>
<circle cx="350.3" cy="82.5" r="0.48" fill="#ee6430" fill-opacity="0.70"/>
<circle cx="340.5" cy="79.1" r="0.43" fill="#b03062" fill-opacity="0.62"/>
<circle cx="330.6" cy="73.7" r="0.57" fill="#cf4150" fill-opacity="0.67"/>
<circle cx="357.1" cy="87.0" r="0.63" fill="#de4f40" fill-opacity="0.66"/>
<circle cx="345.3" cy="81.8" r="0.47" fill="#f67c1c" fill-opacity="0.67"/>
<circle cx="333.9" cy="74.8" r="0.53" fill="#ee6430" fill-opacity="0.70"/>
<circle cx="336.2" cy="76.6" r="0.53" fill="#f67c1c" fill-opacity="0.81"/>
<circle cx="336.4" cy="73.7" r="0.60" fill="#ee6430" fill-opacity="0.60"/>
<circle cx="350.1" cy="81.8" r="0.59" fill="#f67c1c" fill-opacity="0.72"/>
<circle cx="357.5" cy="83.5" r="0.57" fill="#bd355e" fill-opacity="0.72"/>
<circle cx="360.0" cy="86.3" r="0.47" fill="#cf4150" fill-opacity="0.85"/>
<circle cx="339.1" cy="78.6" r="0.43" fill="#de4f40" fill-opacity="0.85"/>
<circle cx="329.9" cy="72.4" r="0.46" fill="#ee6430" fill-opacity="0.88"/>
<circle cx="357.0" cy="84.7" r="0.64" fill="#bd355e" fill-opacity="0.77"/>
<circle cx="347.5" cy="81.8" r="0.39" fill="#b03062" fill-opacity="0.72"/>
<circle cx="333.8" cy="76.3" r="0.52" fill="#bd355e" fill-opacity="0.84"/>
<circle cx="350.3" cy="81.9" r="0.60" fill="#de4f40" fill-opacity="0.74"/>
<circle cx="339.6" cy="77.6" r="0.51" fill="#f67c1c" fill-opacity="0.62"/>
<circle cx="332.8" cy="76.8" r="0.42" fill="#f67c1c" fill-opacity="0.60"/>
<circle cx="346.4" cy="79.5" r="0.46" fill="#b03062" fill-opacity="0.72"/>
<circle cx="358.7" cy="87.1" r="0.48" fill="#b03062" fill-opacity="0.74"/>
<circle cx="339.9" cy="75.4" r="0.36" fill="#de4f40" fill-opacity="0.82"/>
<circle cx="350.2" cy="79.1" r="0.37" fill="#f67c1c" fill-opacity="0.62"/>
<circle cx="328.1" cy="71.8" r="0.52" fill="#cf4150" fill-opacity="0.69"/>
<circle cx="356.7" cy="87.6" r="0.38" fill="#b03062" fill-opacity="0.78"/>
<circle cx="348.3" cy="80.1" r="0.50" fill="#cf4150" fill-opacity="0.62"/>
<circle cx="360.7" cy="86.5" r="0.59" fill="#b03062" fill-opacity="0.75"/>
<circle cx="334.4" cy="74.6" r="0.56" fill="#b03062" fill-opacity="0.58"/>
<circle cx="340.7" cy="77.8" r="0.36" fill="#bd355e" fill-opacity="0.86"/>
<circle cx="356.0" cy="82.8" r="0.43" fill="#cf4150" fill-opacity="0.89"/>
<circle cx="359.1" cy="88.1" r="0.55" fill="#b03062" fill-opacity="0.83"/>
<circle cx="341.2" cy="80.1" r="0.55" fill="#b03062" fill-opacity="0.77"/>
<circle cx="335.5" cy="75.1" r="0.53" fill="#b03062" fill-opacity="0.84"/>
<circle cx="330.7" cy="72.7" r="0.39" fill="#f67c1c" fill-opacity="0.87"/>
<circle cx="355.8" cy="84.0" r="0.57" fill="#cf4150" fill-opacity="0.74"/>
<circle cx="341.6" cy="79.9" r="0.38" fill="#f67c1c" fill-opacity="0.70"/>
<circle cx="350.1" cy="82.2" r="0.46" fill="#b03062" fill-opacity="0.58"/>
<circle cx="347.6" cy="78.4" r="0.41" fill="#f67c1c" fill-opacity="0.71"/>
<circle cx="334.9" cy="76.1" r="0.41" fill="#b03062" fill-opacity="0.73"/>
<circle cx="351.5" cy="83.2" r="0.61" fill="#ee6430" fill-opacity="0.55"/>
</g>
<ellipse cx="422.2" cy="124.2" rx="34.5" ry="33.1" fill="none" stroke="#000" stroke-width="3.3"/>
<text transform="translate(326.5,9.2) scale(1,1.1)" font-size="7.6" stroke="#1a1a1a" stroke-width="0.07">SimpleGAN - Generated Image on 2024-06-30</text>
<rect x="514.3" y="17.9" width="10.9" height="159.1" fill="url(#inf)" stroke="#333" stroke-opacity="0.6" stroke-width="0.4"/>
<line x1="525.2" y1="53.3" x2="526.6" y2="53.3" stroke="#333" stroke-width="0.4"/>
<text transform="translate(528.4,54.8) scale(1,1.08)" font-size="3.95" stroke="#1a1a1a" stroke-width="0.07">0.04</text>
<line x1="525.2" y1="93.6" x2="526.6" y2="93.6" stroke="#333" stroke-width="0.4"/>
<text transform="translate(528.4,95.1) scale(1,1.08)" font-size="3.95" stroke="#1a1a1a" stroke-width="0.07">0.02</text>
<line x1="525.2" y1="134.1" x2="526.6" y2="134.1" stroke="#333" stroke-width="0.4"/>
<text transform="translate(528.4,135.7) scale(1,1.08)" font-size="3.95" stroke="#1a1a1a" stroke-width="0.07">0.00</text>
<line x1="525.2" y1="174.5" x2="526.6" y2="174.5" stroke="#333" stroke-width="0.4"/>
<text transform="translate(528.4,176.1) scale(1,1.08)" font-size="3.95" stroke="#1a1a1a" stroke-width="0.07">−0.02</text>
<text transform="translate(547.4,99.2) rotate(-90)" font-size="4.85" text-anchor="middle" stroke="#1a1a1a" stroke-width="0.07">Intensity</text>
<rect x="325.1" y="208.4" width="178.2" height="159.6" fill="#b8225f"/>
<ellipse cx="426.5" cy="317.0" rx="34.9" ry="33.4" fill="#b63c77"/>
<rect x="325.1" y="208.4" width="178.2" height="159.6" fill="#fff" filter="url(#nz2)"/>
<g filter="url(#sb)">
<circle cx="438.6" cy="321.9" r="0.61" fill="#e85a44" fill-opacity="0.76"/>
<circle cx="408.6" cy="324.1" r="0.55" fill="#ee6438" fill-opacity="0.53"/>
<circle cx="418.7" cy="316.6" r="0.75" fill="#f07040" fill-opacity="0.51"/>
<circle cx="411.6" cy="301.0" r="0.68" fill="#ee6438" fill-opacity="0.81"/>
<circle cx="433.6" cy="338.6" r="0.49" fill="#f07040" fill-opacity="0.45"/>
<circle cx="435.4" cy="319.7" r="0.64" fill="#f07040" fill-opacity="0.52"/>
<circle cx="412.8" cy="317.8" r="0.48" fill="#ee6438" fill-opacity="0.48"/>
<circle cx="430.7" cy="336.7" r="0.76" fill="#f07040" fill-opacity="0.81"/>
<circle cx="414.1" cy="311.3" r="0.73" fill="#f5883a" fill-opacity="0.64"/>
<circle cx="430.1" cy="323.7" r="0.74" fill="#ee6438" fill-opacity="0.45"/>
<circle cx="406.6" cy="296.2" r="0.77" fill="#f07040" fill-opacity="0.46"/>
<circle cx="426.0" cy="323.1" r="0.72" fill="#ee6438" fill-opacity="0.53"/>
<circle cx="415.4" cy="306.3" r="0.56" fill="#f07040" fill-opacity="0.64"/>
<circle cx="416.6" cy="302.0" r="0.79" fill="#f67c2c" fill-opacity="0.52"/>
<circle cx="437.2" cy="310.5" r="0.63" fill="#ee6438" fill-opacity="0.54"/>
<circle cx="415.9" cy="304.4" r="0.46" fill="#f67c2c" fill-opacity="0.76"/>
<circle cx="434.1" cy="324.9" r="0.75" fill="#f07040" fill-opacity="0.59"/>
<circle cx="450.3" cy="306.9" r="0.66" fill="#f07040" fill-opacity="0.55"/>
<circle cx="423.7" cy="297.2" r="0.50" fill="#f07040" fill-opacity="0.56"/>
<circle cx="427.5" cy="312.3" r="0.65" fill="#f67c2c" fill-opacity="0.85"/>
<circle cx="428.5" cy="304.9" r="0.62" fill="#ee6438" fill-opacity="0.54"/>
<circle cx="408.8" cy="338.7" r="0.71" fill="#f5883a" fill-opacity="0.56"/>
<circle cx="415.8" cy="301.7" r="0.74" fill="#f07040" fill-opacity="0.83"/>
<circle cx="433.2" cy="318.4" r="0.64" fill="#e85a44" fill-opacity="0.48"/>
<circle cx="432.7" cy="313.2" r="0.70" fill="#e85a44" fill-opacity="0.80"/>
<circle cx="420.6" cy="306.4" r="0.73" fill="#ee6438" fill-opacity="0.64"/>
<circle cx="407.5" cy="311.3" r="0.68" fill="#e85a44" fill-opacity="0.70"/>
<circle cx="413.3" cy="323.2" r="0.62" fill="#ee6438" fill-opacity="0.79"/>
<circle cx="405.6" cy="297.7" r="0.65" fill="#f07040" fill-opacity="0.45"/>
<circle cx="437.8" cy="326.9" r="0.61" fill="#f67c2c" fill-opacity="0.56"/>
<circle cx="436.5" cy="333.3" r="0.66" fill="#e85a44" fill-opacity="0.80"/>
<circle cx="424.7" cy="308.5" r="0.61" fill="#f07040" fill-opacity="0.59"/>
<circle cx="428.9" cy="319.0" r="0.59" fill="#f67c2c" fill-opacity="0.78"/>
<circle cx="429.7" cy="308.5" r="0.52" fill="#f5883a" fill-opacity="0.78"/>
<circle cx="424.5" cy="316.5" r="0.48" fill="#ee6438" fill-opacity="0.73"/>
<circle cx="422.5" cy="317.3" r="0.71" fill="#f07040" fill-opacity="0.52"/>
<circle cx="420.3" cy="310.1" r="0.64" fill="#f67c2c" fill-opacity="0.63"/>
<circle cx="420.7" cy="309.0" r="0.71" fill="#f5883a" fill-opacity="0.75"/>
<circle cx="441.9" cy="331.1" r="0.63" fill="#f07040" fill-opacity="0.55"/>
<circle cx="420.4" cy="331.7" r="0.56" fill="#f67c2c" fill-opacity="0.52"/>
<circle cx="422.6" cy="306.0" r="0.75" fill="#f67c2c" fill-opacity="0.57"/>
<circle cx="416.1" cy="304.0" r="0.72" fill="#f67c2c" fill-opacity="0.64"/>
<circle cx="410.6" cy="306.5" r="0.61" fill="#f07040" fill-opacity="0.77"/>
<circle cx="404.0" cy="304.6" r="0.76" fill="#f67c2c" fill-opacity="0.67"/>
<circle cx="418.1" cy="325.1" r="0.46" fill="#f07040" fill-opacity="0.84"/>
<circle cx="423.5" cy="324.2" r="0.54" fill="#f07040" fill-opacity="0.85"/>
<circle cx="438.0" cy="319.2" r="0.72" fill="#f67c2c" fill-opacity="0.65"/>
<circle cx="437.1" cy="334.1" r="0.75" fill="#f07040" fill-opacity="0.47"/>
<circle cx="434.7" cy="305.5" r="0.55" fill="#e85a44" fill-opacity="0.48"/>
<circle cx="423.1" cy="310.2" r="0.77" fill="#f67c2c" fill-opacity="0.68"/>
<circle cx="436.1" cy="315.1" r="0.55" fill="#e85a44" fill-opacity="0.54"/>
<circle cx="436.3" cy="343.6" r="0.67" fill="#f07040" fill-opacity="0.52"/>
<circle cx="405.8" cy="304.0" r="0.64" fill="#f5883a" fill-opacity="0.56"/>
<circle cx="432.7" cy="328.7" r="0.63" fill="#ee6438" fill-opacity="0.53"/>
<circle cx="423.4" cy="322.6" r="0.61" fill="#f07040" fill-opacity="0.83"/>
<circle cx="433.5" cy="327.9" r="0.47" fill="#e85a44" fill-opacity="0.50"/>
<circle cx="414.2" cy="319.2" r="0.62" fill="#f5883a" fill-opacity="0.64"/>
<circle cx="413.4" cy="321.7" r="0.63" fill="#f5883a" fill-opacity="0.51"/>
<circle cx="440.0" cy="325.9" r="0.76" fill="#f5883a" fill-opacity="0.73"/>
<circle cx="425.6" cy="322.8" r="0.58" fill="#e85a44" fill-opacity="0.81"/>
<circle cx="425.8" cy="312.6" r="0.58" fill="#f67c2c" fill-opacity="0.47"/>
<circle cx="428.1" cy="305.5" r="0.62" fill="#e85a44" fill-opacity="0.54"/>
<circle cx="424.1" cy="312.2" r="0.74" fill="#ee6438" fill-opacity="0.75"/>
<circle cx="422.4" cy="329.0" r="0.69" fill="#ee6438" fill-opacity="0.45"/>
<circle cx="433.6" cy="321.1" r="0.48" fill="#e85a44" fill-opacity="0.70"/>
<circle cx="402.5" cy="298.3" r="0.72" fill="#ee6438" fill-opacity="0.75"/>
<circle cx="425.0" cy="312.4" r="0.53" fill="#f67c2c" fill-opacity="0.79"/>
<circle cx="410.1" cy="312.7" r="0.46" fill="#f67c2c" fill-opacity="0.56"/>
<circle cx="428.6" cy="325.6" r="0.58" fill="#f5883a" fill-opacity="0.49"/>
<circle cx="404.3" cy="314.1" r="0.57" fill="#f67c2c" fill-opacity="0.47"/>
<circle cx="441.7" cy="337.2" r="0.79" fill="#e85a44" fill-opacity="0.56"/>
<circle cx="425.1" cy="301.2" r="0.50" fill="#f67c2c" fill-opacity="0.69"/>
<circle cx="411.2" cy="308.4" r="0.77" fill="#f67c2c" fill-opacity="0.53"/>
<circle cx="409.0" cy="301.8" r="0.45" fill="#f07040" fill-opacity="0.59"/>
<circle cx="421.9" cy="313.1" r="0.68" fill="#f07040" fill-opacity="0.63"/>
<circle cx="432.5" cy="318.2" r="0.62" fill="#ee6438" fill-opacity="0.58"/>
<circle cx="433.7" cy="334.7" r="0.71" fill="#e85a44" fill-opacity="0.54"/>
<circle cx="437.3" cy="330.8" r="0.48" fill="#e85a44" fill-opacity="0.63"/>
<circle cx="421.1" cy="306.5" r="0.48" fill="#f67c2c" fill-opacity="0.46"/>
<circle cx="421.4" cy="305.9" r="0.50" fill="#f07040" fill-opacity="0.68"/>
<circle cx="418.9" cy="315.7" r="0.65" fill="#f07040" fill-opacity="0.50"/>
<circle cx="423.0" cy="340.7" r="0.72" fill="#f07040" fill-opacity="0.55"/>
<circle cx="433.8" cy="316.5" r="0.77" fill="#f67c2c" fill-opacity="0.57"/>
<circle cx="424.5" cy="310.0" r="0.77" fill="#f5883a" fill-opacity="0.62"/>
<circle cx="409.1" cy="301.7" r="0.63" fill="#f67c2c" fill-opacity="0.70"/>
<circle cx="401.9" cy="301.5" r="0.73" fill="#ee6438" fill-opacity="0.54"/>
<circle cx="427.5" cy="309.8" r="0.65" fill="#e85a44" fill-opacity="0.62"/>
<circle cx="413.0" cy="303.2" r="0.46" fill="#ee6438" fill-opacity="0.82"/>
<circle cx="428.4" cy="311.3" r="0.56" fill="#ee6438" fill-opacity="0.46"/>
<circle cx="413.4" cy="304.1" r="0.48" fill="#e85a44" fill-opacity="0.74"/>
<circle cx="429.5" cy="304.3" r="0.48" fill="#f07040" fill-opacity="0.67"/>
<circle cx="426.0" cy="314.2" r="0.64" fill="#f5883a" fill-opacity="0.82"/>
<circle cx="426.7" cy="313.4" r="0.70" fill="#f5883a" fill-opacity="0.66"/>
<circle cx="429.3" cy="326.5" r="0.60" fill="#f67c2c" fill-opacity="0.61"/>
<circle cx="432.8" cy="313.3" r="0.71" fill="#e85a44" fill-opacity="0.47"/>
<circle cx="407.9" cy="306.8" r="0.65" fill="#ee6438" fill-opacity="0.57"/>
<circle cx="443.1" cy="336.7" r="0.79" fill="#f67c2c" fill-opacity="0.83"/>
<circle cx="407.7" cy="304.8" r="0.78" fill="#e85a44" fill-opacity="0.79"/>
<circle cx="421.9" cy="323.3" r="0.56" fill="#f5883a" fill-opacity="0.51"/>
<circle cx="405.8" cy="310.2" r="0.69" fill="#ee6438" fill-opacity="0.84"/>
<circle cx="418.4" cy="317.2" r="0.57" fill="#e85a44" fill-opacity="0.83"/>
<circle cx="418.7" cy="313.9" r="0.65" fill="#ee6438" fill-opacity="0.82"/>
<circle cx="423.7" cy="325.1" r="0.70" fill="#e85a44" fill-opacity="0.65"/>
<circle cx="421.8" cy="308.3" r="0.75" fill="#e85a44" fill-opacity="0.70"/>
<circle cx="408.0" cy="317.0" r="0.79" fill="#f07040" fill-opacity="0.59"/>
<circle cx="439.1" cy="316.0" r="0.65" fill="#ee6438" fill-opacity="0.83"/>
<circle cx="414.8" cy="337.3" r="0.59" fill="#f5883a" fill-opacity="0.73"/>
<circle cx="438.5" cy="334.4" r="0.47" fill="#ee6438" fill-opacity="0.82"/>
<circle cx="419.8" cy="297.1" r="0.58" fill="#f07040" fill-opacity="0.55"/>
<circle cx="433.2" cy="335.0" r="0.73" fill="#f07040" fill-opacity="0.74"/>
<circle cx="424.2" cy="328.6" r="0.45" fill="#f5883a" fill-opacity="0.61"/>
<circle cx="438.3" cy="343.3" r="0.69" fill="#ee6438" fill-opacity="0.77"/>
<circle cx="410.9" cy="320.7" r="0.75" fill="#f67c2c" fill-opacity="0.62"/>
<circle cx="422.5" cy="314.6" r="0.67" fill="#f07040" fill-opacity="0.82"/>
<circle cx="428.7" cy="328.0" r="0.71" fill="#f07040" fill-opacity="0.69"/>
<circle cx="440.3" cy="324.5" r="0.55" fill="#f5883a" fill-opacity="0.85"/>
<circle cx="415.7" cy="326.9" r="0.57" fill="#f5883a" fill-opacity="0.46"/>
<circle cx="411.2" cy="327.3" r="0.49" fill="#f07040" fill-opacity="0.80"/>
<circle cx="426.3" cy="316.4" r="0.62" fill="#ee6438" fill-opacity="0.52"/>
<circle cx="418.9" cy="335.4" r="0.65" fill="#f67c2c" fill-opacity="0.56"/>
<circle cx="430.0" cy="305.5" r="0.62" fill="#ee6438" fill-opacity="0.84"/>
<circle cx="417.1" cy="317.4" r="0.67" fill="#f07040" fill-opacity="0.83"/>
<circle cx="426.2" cy="323.7" r="0.78" fill="#f67c2c" fill-opacity="0.47"/>
<circle cx="441.0" cy="338.1" r="0.60" fill="#f67c2c" fill-opacity="0.72"/>
<circle cx="410.8" cy="312.3" r="0.79" fill="#f5883a" fill-opacity="0.59"/>
<circle cx="411.6" cy="320.8" r="0.70" fill="#f67c2c" fill-opacity="0.71"/>
<circle cx="409.5" cy="307.6" r="0.66" fill="#ee6438" fill-opacity="0.51"/>
<circle cx="430.3" cy="336.6" r="0.45" fill="#f67c2c" fill-opacity="0.56"/>
<circle cx="425.7" cy="303.6" r="0.71" fill="#f07040" fill-opacity="0.62"/>
<circle cx="425.7" cy="331.0" r="0.72" fill="#e85a44" fill-opacity="0.57"/>
<circle cx="407.9" cy="303.8" r="0.69" fill="#ee6438" fill-opacity="0.58"/>
<circle cx="423.0" cy="309.6" r="0.72" fill="#ee6438" fill-opacity="0.65"/>
<circle cx="429.5" cy="310.2" r="0.68" fill="#ee6438" fill-opacity="0.66"/>
<circle cx="428.5" cy="316.3" r="0.70" fill="#f67c2c" fill-opacity="0.61"/>
<circle cx="431.3" cy="320.7" r="0.46" fill="#f07040" fill-opacity="0.56"/>
<circle cx="426.8" cy="310.0" r="0.62" fill="#e85a44" fill-opacity="0.83"/>
<circle cx="440.9" cy="327.4" r="0.63" fill="#f07040" fill-opacity="0.54"/>
<circle cx="426.5" cy="313.5" r="0.73" fill="#e85a44" fill-opacity="0.50"/>
<circle cx="413.6" cy="344.5" r="0.73" fill="#e85a44" fill-opacity="0.47"/>
<circle cx="412.3" cy="306.3" r="0.70" fill="#f67c2c" fill-opacity="0.74"/>
<circle cx="406.4" cy="303.3" r="0.58" fill="#f67c2c" fill-opacity="0.60"/>
<circle cx="417.3" cy="329.4" r="0.54" fill="#f5883a" fill-opacity="0.61"/>
<circle cx="425.3" cy="329.2" r="0.53" fill="#f67c2c" fill-opacity="0.74"/>
<circle cx="440.3" cy="329.2" r="0.65" fill="#f67c2c" fill-opacity="0.57"/>
<circle cx="422.7" cy="306.8" r="0.47" fill="#f5883a" fill-opacity="0.83"/>
<circle cx="417.9" cy="316.5" r="0.77" fill="#f5883a" fill-opacity="0.73"/>
<circle cx="432.5" cy="316.7" r="0.48" fill="#e85a44" fill-opacity="0.67"/>
<circle cx="408.1" cy="319.9" r="0.46" fill="#e85a44" fill-opacity="0.71"/>
<circle cx="421.5" cy="303.7" r="0.61" fill="#e85a44" fill-opacity="0.85"/>
<circle cx="411.6" cy="313.3" r="0.57" fill="#f5883a" fill-opacity="0.56"/>
<circle cx="422.9" cy="329.8" r="0.65" fill="#f5883a" fill-opacity="0.69"/>
<circle cx="410.9" cy="316.9" r="0.58" fill="#f07040" fill-opacity="0.63"/>
<circle cx="409.2" cy="296.2" r="0.47" fill="#f67c2c" fill-opacity="0.46"/>
<circle cx="428.1" cy="328.4" r="0.53" fill="#e85a44" fill-opacity="0.74"/>
<circle cx="437.4" cy="318.2" r="0.68" fill="#ee6438" fill-opacity="0.64"/>
<circle cx="424.1" cy="312.8" r="0.77" fill="#ee6438" fill-opacity="0.81"/>
<circle cx="407.9" cy="301.3" r="0.67" fill="#f67c2c" fill-opacity="0.49"/>
<circle cx="424.6" cy="310.8" r="0.55" fill="#f67c2c" fill-opacity="0.85"/>
<circle cx="427.7" cy="333.2" r="0.73" fill="#e85a44" fill-opacity="0.60"/>
<circle cx="426.3" cy="311.7" r="0.60" fill="#f5883a" fill-opacity="0.77"/>
<circle cx="420.5" cy="306.8" r="0.48" fill="#f5883a" fill-opacity="0.62"/>
<circle cx="444.8" cy="316.3" r="0.70" fill="#ee6438" fill-opacity="0.82"/>
<circle cx="413.3" cy="317.7" r="0.45" fill="#f07040" fill-opacity="0.57"/>
<circle cx="426.8" cy="322.7" r="0.61" fill="#f5883a" fill-opacity="0.46"/>
<circle cx="420.0" cy="299.5" r="0.69" fill="#e85a44" fill-opacity="0.77"/>
<circle cx="405.5" cy="306.5" r="0.71" fill="#ee6438" fill-opacity="0.77"/>
<circle cx="423.4" cy="329.3" r="0.71" fill="#e85a44" fill-opacity="0.58"/>
<circle cx="412.3" cy="332.7" r="0.58" fill="#f67c2c" fill-opacity="0.60"/>
<circle cx="406.7" cy="316.6" r="0.46" fill="#f07040" fill-opacity="0.56"/>
<circle cx="445.2" cy="321.5" r="0.52" fill="#f5883a" fill-opacity="0.74"/>
<circle cx="407.9" cy="298.0" r="0.49" fill="#f07040" fill-opacity="0.80"/>
<circle cx="409.0" cy="309.0" r="0.63" fill="#f5883a" fill-opacity="0.77"/>
<circle cx="412.5" cy="326.0" r="0.53" fill="#ee6438" fill-opacity="0.55"/>
<circle cx="406.5" cy="302.3" r="0.68" fill="#f5883a" fill-opacity="0.57"/>
<circle cx="401.8" cy="309.6" r="0.62" fill="#f67c2c" fill-opacity="0.56"/>
<circle cx="425.5" cy="305.6" r="0.68" fill="#e85a44" fill-opacity="0.65"/>
<circle cx="414.6" cy="334.1" r="0.54" fill="#e85a44" fill-opacity="0.57"/>
<circle cx="429.6" cy="326.7" r="0.68" fill="#ee6438" fill-opacity="0.85"/>
<circle cx="409.0" cy="313.7" r="0.55" fill="#ee6438" fill-opacity="0.80"/>
<circle cx="426.9" cy="327.9" r="0.54" fill="#f07040" fill-opacity="0.71"/>
<circle cx="429.2" cy="323.9" r="0.45" fill="#f5883a" fill-opacity="0.73"/>
<circle cx="420.0" cy="312.7" r="0.70" fill="#f07040" fill-opacity="0.75"/>
<circle cx="416.6" cy="297.8" r="0.58" fill="#f67c2c" fill-opacity="0.68"/>
<circle cx="414.4" cy="303.6" r="0.72" fill="#e85a44" fill-opacity="0.45"/>
<circle cx="415.9" cy="311.8" r="0.77" fill="#e85a44" fill-opacity="0.69"/>
<circle cx="411.0" cy="305.8" r="0.65" fill="#ee6438" fill-opacity="0.64"/>
<circle cx="418.7" cy="315.7" r="0.73" fill="#f5883a" fill-opacity="0.56"/>
<circle cx="437.1" cy="326.1" r="0.55" fill="#f5883a" fill-opacity="0.48"/>
<circle cx="419.7" cy="301.7" r="0.55" fill="#e85a44" fill-opacity="0.68"/>
<circle cx="408.8" cy="304.4" r="0.68" fill="#f67c2c" fill-opacity="0.56"/>
<circle cx="424.3" cy="316.9" r="0.70" fill="#f67c2c" fill-opacity="0.80"/>
<circle cx="452.5" cy="326.1" r="0.79" fill="#e85a44" fill-opacity="0.68"/>
<circle cx="427.3" cy="320.1" r="0.59" fill="#f5883a" fill-opacity="0.81"/>
<circle cx="425.3" cy="326.3" r="0.57" fill="#e85a44" fill-opacity="0.81"/>
<circle cx="429.1" cy="305.0" r="0.68" fill="#ee6438" fill-opacity="0.56"/>
<circle cx="433.1" cy="324.0" r="0.62" fill="#ee6438" fill-opacity="0.55"/>
<circle cx="437.6" cy="320.2" r="0.65" fill="#f5883a" fill-opacity="0.83"/>
<circle cx="434.1" cy="316.6" r="0.78" fill="#ee6438" fill-opacity="0.74"/>
<circle cx="418.6" cy="328.8" r="0.63" fill="#f5883a" fill-opacity="0.66"/>
<circle cx="436.8" cy="338.4" r="0.59" fill="#e85a44" fill-opacity="0.75"/>
<circle cx="417.2" cy="323.4" r="0.47" fill="#ee6438" fill-opacity="0.65"/>
<circle cx="426.9" cy="317.0" r="0.72" fill="#f67c2c" fill-opacity="0.69"/>
<circle cx="444.2" cy="314.5" r="0.61" fill="#f67c2c" fill-opacity="0.80"/>
<circle cx="406.3" cy="309.3" r="0.61" fill="#f67c2c" fill-opacity="0.78"/>
<circle cx="406.7" cy="311.6" r="0.65" fill="#f67c2c" fill-opacity="0.54"/>
<circle cx="418.7" cy="308.5" r="0.49" fill="#f07040" fill-opacity="0.75"/>
<circle cx="414.8" cy="316.3" r="0.67" fill="#ee6438" fill-opacity="0.75"/>
<circle cx="431.7" cy="293.6" r="0.56" fill="#f5883a" fill-opacity="0.64"/>
<circle cx="410.9" cy="310.8" r="0.48" fill="#f67c2c" fill-opacity="0.45"/>
<circle cx="435.8" cy="329.6" r="0.80" fill="#f07040" fill-opacity="0.48"/>
<circle cx="440.0" cy="328.8" r="0.71" fill="#e85a44" fill-opacity="0.83"/>
<circle cx="412.7" cy="311.0" r="0.49" fill="#f5883a" fill-opacity="0.79"/>
<circle cx="417.0" cy="326.8" r="0.58" fill="#f5883a" fill-opacity="0.49"/>
<circle cx="397.3" cy="310.2" r="0.51" fill="#ee6438" fill-opacity="0.59"/>
<circle cx="420.4" cy="308.1" r="0.49" fill="#f5883a" fill-opacity="0.56"/>
<circle cx="414.8" cy="312.0" r="0.63" fill="#f07040" fill-opacity="0.47"/>
<circle cx="443.8" cy="329.6" r="0.66" fill="#f5883a" fill-opacity="0.60"/>
<circle cx="411.0" cy="306.2" r="0.55" fill="#f67c2c" fill-opacity="0.82"/>
<circle cx="427.9" cy="315.9" r="0.68" fill="#f67c2c" fill-opacity="0.79"/>
<circle cx="439.0" cy="340.8" r="0.59" fill="#f5883a" fill-opacity="0.67"/>
<circle cx="422.4" cy="304.7" r="0.80" fill="#e85a44" fill-opacity="0.46"/>
<circle cx="438.6" cy="313.0" r="0.57" fill="#f07040" fill-opacity="0.58"/>
<circle cx="410.7" cy="300.8" r="0.68" fill="#ee6438" fill-opacity="0.70"/>
<circle cx="445.5" cy="340.5" r="0.68" fill="#f67c2c" fill-opacity="0.58"/>
<circle cx="446.6" cy="334.0" r="0.67" fill="#e85a44" fill-opacity="0.64"/>
<circle cx="438.8" cy="325.4" r="0.76" fill="#e85a44" fill-opacity="0.68"/>
<circle cx="439.9" cy="306.7" r="0.64" fill="#f67c2c" fill-opacity="0.82"/>
<circle cx="413.0" cy="314.1" r="0.79" fill="#ee6438" fill-opacity="0.60"/>
<circle cx="435.7" cy="303.2" r="0.61" fill="#f07040" fill-opacity="0.50"/>
<circle cx="418.1" cy="301.8" r="0.65" fill="#f67c2c" fill-opacity="0.74"/>
<circle cx="344.8" cy="300.3" r="0.54" fill="#e5553e" fill-opacity="0.74"/>
<circle cx="355.7" cy="335.5" r="0.60" fill="#ee6430" fill-opacity="0.75"/>
<circle cx="352.4" cy="303.9" r="0.52" fill="#ee6430" fill-opacity="0.83"/>
<circle cx="345.3" cy="308.2" r="0.44" fill="#ee6430" fill-opacity="0.55"/>
<circle cx="359.9" cy="324.4" r="0.59" fill="#ee6430" fill-opacity="0.67"/>
<circle cx="359.5" cy="327.4" r="0.40" fill="#ee6430" fill-opacity="0.54"/>
<circle cx="337.2" cy="300.3" r="0.40" fill="#ee6430" fill-opacity="0.68"/>
<circle cx="334.9" cy="328.8" r="0.50" fill="#e5553e" fill-opacity="0.79"/>
<circle cx="340.5" cy="306.7" r="0.43" fill="#e85a3c" fill-opacity="0.71"/>
<circle cx="330.1" cy="311.2" r="0.60" fill="#e85a3c" fill-opacity="0.72"/>
<circle cx="349.9" cy="294.3" r="0.45" fill="#e5553e" fill-opacity="0.52"/>
<circle cx="361.3" cy="326.1" r="0.54" fill="#e85a3c" fill-opacity="0.78"/>
<circle cx="352.8" cy="324.9" r="0.44" fill="#ee6430" fill-opacity="0.68"/>
<circle cx="357.4" cy="294.6" r="0.49" fill="#e85a3c" fill-opacity="0.71"/>
<circle cx="343.2" cy="298.4" r="0.45" fill="#e85a3c" fill-opacity="0.71"/>
<circle cx="347.5" cy="301.9" r="0.40" fill="#ee6430" fill-opacity="0.71"/>
<circle cx="354.7" cy="324.8" r="0.44" fill="#ee6430" fill-opacity="0.62"/>
<circle cx="344.3" cy="321.7" r="0.58" fill="#e5553e" fill-opacity="0.56"/>
<circle cx="338.8" cy="331.0" r="0.60" fill="#e85a3c" fill-opacity="0.63"/>
<circle cx="341.6" cy="310.5" r="0.58" fill="#e85a3c" fill-opacity="0.81"/>
<circle cx="336.6" cy="322.3" r="0.49" fill="#e5553e" fill-opacity="0.65"/>
<circle cx="356.1" cy="332.8" r="0.53" fill="#ee6430" fill-opacity="0.56"/>
<circle cx="343.8" cy="311.6" r="0.53" fill="#e85a3c" fill-opacity="0.78"/>
<circle cx="345.3" cy="338.6" r="0.43" fill="#ee6430" fill-opacity="0.53"/>
<circle cx="345.7" cy="295.0" r="0.52" fill="#e5553e" fill-opacity="0.66"/>
<circle cx="333.2" cy="303.3" r="0.45" fill="#e85a3c" fill-opacity="0.58"/>
<circle cx="340.2" cy="313.8" r="0.39" fill="#e5553e" fill-opacity="0.50"/>
<circle cx="352.4" cy="293.4" r="0.47" fill="#ee6430" fill-opacity="0.78"/>
<circle cx="332.7" cy="309.1" r="0.37" fill="#e5553e" fill-opacity="0.83"/>
<circle cx="349.0" cy="296.6" r="0.44" fill="#e85a3c" fill-opacity="0.71"/>
<circle cx="336.4" cy="329.3" r="0.57" fill="#e85a3c" fill-opacity="0.84"/>
<circle cx="358.1" cy="311.6" r="0.60" fill="#e5553e" fill-opacity="0.60"/>
<circle cx="340.8" cy="330.9" r="0.56" fill="#e85a3c" fill-opacity="0.59"/>
<circle cx="342.1" cy="310.3" r="0.35" fill="#ee6430" fill-opacity="0.63"/>
<circle cx="334.4" cy="326.8" r="0.46" fill="#ee6430" fill-opacity="0.79"/>
<circle cx="331.4" cy="303.9" r="0.43" fill="#e5553e" fill-opacity="0.57"/>
<circle cx="351.5" cy="300.4" r="0.41" fill="#e85a3c" fill-opacity="0.58"/>
<circle cx="350.8" cy="339.2" r="0.39" fill="#ee6430" fill-opacity="0.60"/>
<circle cx="358.4" cy="300.3" r="0.41" fill="#e5553e" fill-opacity="0.56"/>
<circle cx="340.5" cy="309.4" r="0.51" fill="#e5553e" fill-opacity="0.68"/>
<circle cx="348.0" cy="331.3" r="0.54" fill="#ee6430" fill-opacity="0.56"/>
<circle cx="354.6" cy="336.5" r="0.36" fill="#e5553e" fill-opacity="0.66"/>
<circle cx="353.1" cy="316.9" r="0.53" fill="#e85a3c" fill-opacity="0.52"/>
<circle cx="351.6" cy="310.7" r="0.49" fill="#ee6430" fill-opacity="0.57"/>
<circle cx="350.1" cy="304.6" r="0.54" fill="#e85a3c" fill-opacity="0.61"/>
<circle cx="494.5" cy="304.3" r="0.51" fill="#e5553e" fill-opacity="0.64"/>
<circle cx="476.8" cy="313.8" r="0.49" fill="#e5553e" fill-opacity="0.56"/>
<circle cx="475.6" cy="312.2" r="0.58" fill="#e5553e" fill-opacity="0.68"/>
<circle cx="469.8" cy="298.4" r="0.53" fill="#e5553e" fill-opacity="0.74"/>
<circle cx="480.2" cy="303.2" r="0.42" fill="#ee6430" fill-opacity="0.64"/>
<circle cx="472.9" cy="292.7" r="0.52" fill="#e5553e" fill-opacity="0.78"/>
<circle cx="481.5" cy="317.1" r="0.47" fill="#e5553e" fill-opacity="0.80"/>
<circle cx="484.0" cy="288.2" r="0.45" fill="#e5553e" fill-opacity="0.81"/>
<circle cx="485.6" cy="268.1" r="0.60" fill="#e85a3c" fill-opacity="0.61"/>
<circle cx="473.5" cy="281.3" r="0.36" fill="#e85a3c" fill-opacity="0.55"/>
<circle cx="475.6" cy="281.9" r="0.45" fill="#e5553e" fill-opacity="0.80"/>
<circle cx="473.3" cy="297.8" r="0.56" fill="#e85a3c" fill-opacity="0.50"/>
<circle cx="470.0" cy="304.4" r="0.35" fill="#e85a3c" fill-opacity="0.63"/>
<circle cx="468.7" cy="291.9" r="0.38" fill="#ee6430" fill-opacity="0.53"/>
<circle cx="486.2" cy="268.5" r="0.37" fill="#e5553e" fill-opacity="0.81"/>
<circle cx="483.6" cy="268.1" r="0.37" fill="#e5553e" fill-opacity="0.58"/>
<circle cx="479.5" cy="317.2" r="0.53" fill="#e85a3c" fill-opacity="0.51"/>
<circle cx="475.1" cy="268.8" r="0.38" fill="#e5553e" fill-opacity="0.73"/>
<circle cx="480.7" cy="295.8" r="0.44" fill="#ee6430" fill-opacity="0.69"/>
<circle cx="475.6" cy="301.9" r="0.58" fill="#ee6430" fill-opacity="0.80"/>
<circle cx="476.6" cy="294.6" r="0.48" fill="#ee6430" fill-opacity="0.80"/>
<circle cx="474.2" cy="309.6" r="0.39" fill="#ee6430" fill-opacity="0.66"/>
<circle cx="494.3" cy="289.0" r="0.48" fill="#e85a3c" fill-opacity="0.70"/>
<circle cx="476.4" cy="310.0" r="0.58" fill="#ee6430" fill-opacity="0.58"/>
<circle cx="483.5" cy="309.8" r="0.38" fill="#e85a3c" fill-opacity="0.79"/>
<circle cx="474.8" cy="270.1" r="0.43" fill="#e85a3c" fill-opacity="0.68"/>
<circle cx="476.0" cy="318.8" r="0.54" fill="#ee6430" fill-opacity="0.54"/>
<circle cx="482.5" cy="283.0" r="0.43" fill="#e85a3c" fill-opacity="0.82"/>
<circle cx="477.6" cy="271.4" r="0.48" fill="#e85a3c" fill-opacity="0.63"/>
<circle cx="484.2" cy="308.1" r="0.51" fill="#e5553e" fill-opacity="0.78"/>
<circle cx="490.8" cy="292.7" r="0.41" fill="#ee6430" fill-opacity="0.72"/>
<circle cx="478.7" cy="315.2" r="0.45" fill="#e85a3c" fill-opacity="0.54"/>
<circle cx="494.8" cy="292.4" r="0.47" fill="#e5553e" fill-opacity="0.60"/>
<circle cx="492.7" cy="278.1" r="0.47" fill="#e85a3c" fill-opacity="0.67"/>
<circle cx="481.0" cy="282.6" r="0.48" fill="#ee6430" fill-opacity="0.73"/>
<circle cx="473.1" cy="265.6" r="0.37" fill="#e5553e" fill-opacity="0.76"/>
<circle cx="475.8" cy="296.1" r="0.56" fill="#ee6430" fill-opacity="0.78"/>
<circle cx="480.1" cy="317.3" r="0.55" fill="#e85a3c" fill-opacity="0.73"/>
<circle cx="491.0" cy="297.2" r="0.58" fill="#ee6430" fill-opacity="0.65"/>
<circle cx="486.5" cy="269.0" r="0.44" fill="#e5553e" fill-opacity="0.77"/>
<circle cx="365.6" cy="276.3" r="0.37" fill="#e5553e" fill-opacity="0.73"/>
<circle cx="464.5" cy="291.0" r="0.54" fill="#e85a3c" fill-opacity="0.79"/>
<circle cx="358.5" cy="295.4" r="0.46" fill="#e85a3c" fill-opacity="0.51"/>
<circle cx="411.9" cy="280.2" r="0.50" fill="#ee6430" fill-opacity="0.60"/>
<circle cx="386.1" cy="277.0" r="0.36" fill="#e5553e" fill-opacity="0.81"/>
<circle cx="377.7" cy="304.5" r="0.52" fill="#e5553e" fill-opacity="0.79"/>
<circle cx="469.5" cy="304.1" r="0.53" fill="#e5553e" fill-opacity="0.62"/>
<circle cx="415.4" cy="269.4" r="0.38" fill="#e85a3c" fill-opacity="0.54"/>
<circle cx="402.2" cy="283.1" r="0.42" fill="#e5553e" fill-opacity="0.83"/>
<circle cx="443.5" cy="271.6" r="0.56" fill="#ee6430" fill-opacity="0.59"/>
<circle cx="376.7" cy="283.3" r="0.54" fill="#ee6430" fill-opacity="0.74"/>
<circle cx="434.8" cy="265.8" r="0.53" fill="#e5553e" fill-opacity="0.84"/>
<circle cx="394.6" cy="293.8" r="0.47" fill="#e5553e" fill-opacity="0.78"/>
<circle cx="455.0" cy="285.2" r="0.46" fill="#e85a3c" fill-opacity="0.57"/>
<circle cx="371.4" cy="299.5" r="0.43" fill="#e5553e" fill-opacity="0.68"/>
<circle cx="376.6" cy="309.2" r="0.43" fill="#ee6430" fill-opacity="0.83"/>
<circle cx="444.9" cy="285.5" r="0.36" fill="#e5553e" fill-opacity="0.68"/>
<circle cx="478.8" cy="281.9" r="0.48" fill="#e85a3c" fill-opacity="0.74"/>
<circle cx="460.3" cy="296.2" r="0.54" fill="#e5553e" fill-opacity="0.82"/>
<circle cx="467.9" cy="289.3" r="0.59" fill="#e85a3c" fill-opacity="0.71"/>
<circle cx="369.7" cy="289.5" r="0.54" fill="#e85a3c" fill-opacity="0.60"/>
<circle cx="354.3" cy="297.8" r="0.43" fill="#ee6430" fill-opacity="0.51"/>
<circle cx="419.8" cy="280.9" r="0.44" fill="#e5553e" fill-opacity="0.79"/>
<circle cx="364.1" cy="282.6" r="0.49" fill="#ee6430" fill-opacity="0.80"/>
<circle cx="364.4" cy="296.9" r="0.46" fill="#e5553e" fill-opacity="0.68"/>
<circle cx="361.7" cy="292.6" r="0.37" fill="#e85a3c" fill-opacity="0.70"/>
<circle cx="361.6" cy="285.4" r="0.46" fill="#e5553e" fill-opacity="0.84"/>
<circle cx="448.3" cy="277.6" r="0.44" fill="#e5553e" fill-opacity="0.63"/>
<circle cx="392.7" cy="301.3" r="0.48" fill="#ee6430" fill-opacity="0.58"/>
<circle cx="354.4" cy="296.7" r="0.56" fill="#ee6430" fill-opacity="0.70"/>
<circle cx="462.0" cy="301.3" r="0.58" fill="#e85a3c" fill-opacity="0.77"/>
<circle cx="446.0" cy="280.6" r="0.48" fill="#e85a3c" fill-opacity="0.51"/>
<circle cx="395.1" cy="295.6" r="0.56" fill="#e5553e" fill-opacity="0.64"/>
<circle cx="424.8" cy="268.8" r="0.44" fill="#ee6430" fill-opacity="0.56"/>
<circle cx="389.9" cy="295.3" r="0.43" fill="#ee6430" fill-opacity="0.58"/>
<circle cx="471.9" cy="291.6" r="0.39" fill="#ee6430" fill-opacity="0.73"/>
<circle cx="387.6" cy="279.9" r="0.52" fill="#ee6430" fill-opacity="0.74"/>
<circle cx="458.9" cy="281.1" r="0.58" fill="#ee6430" fill-opacity="0.62"/>
<circle cx="393.5" cy="290.6" r="0.41" fill="#ee6430" fill-opacity="0.74"/>
<circle cx="390.7" cy="294.8" r="0.60" fill="#e5553e" fill-opacity="0.59"/>
<circle cx="394.5" cy="352.3" r="0.35" fill="#e5553e" fill-opacity="0.63"/>
<circle cx="396.8" cy="356.6" r="0.44" fill="#ee6430" fill-opacity="0.58"/>
<circle cx="409.7" cy="353.9" r="0.52" fill="#e5553e" fill-opacity="0.79"/>
<circle cx="405.0" cy="350.8" r="0.36" fill="#e85a3c" fill-opacity="0.64"/>
<circle cx="399.7" cy="348.4" r="0.41" fill="#e85a3c" fill-opacity="0.58"/>
<circle cx="394.0" cy="350.0" r="0.38" fill="#e85a3c" fill-opacity="0.56"/>
<circle cx="403.2" cy="347.9" r="0.46" fill="#e5553e" fill-opacity="0.52"/>
<circle cx="394.4" cy="350.4" r="0.46" fill="#e85a3c" fill-opacity="0.70"/>
<circle cx="395.8" cy="353.9" r="0.39" fill="#e5553e" fill-opacity="0.65"/>
<circle cx="406.4" cy="355.8" r="0.39" fill="#e85a3c" fill-opacity="0.59"/>
<circle cx="404.6" cy="349.2" r="0.38" fill="#e85a3c" fill-opacity="0.82"/>
<circle cx="396.8" cy="347.6" r="0.46" fill="#e5553e" fill-opacity="0.62"/>
<circle cx="404.6" cy="355.5" r="0.40" fill="#e5553e" fill-opacity="0.82"/>
<circle cx="405.8" cy="347.8" r="0.39" fill="#e5553e" fill-opacity="0.56"/>
<circle cx="400.3" cy="349.4" r="0.48" fill="#ee6430" fill-opacity="0.69"/>
<circle cx="394.7" cy="351.3" r="0.41" fill="#ee6430" fill-opacity="0.59"/>
<circle cx="407.7" cy="353.2" r="0.43" fill="#e85a3c" fill-opacity="0.67"/>
<circle cx="397.1" cy="348.0" r="0.37" fill="#ee6430" fill-opacity="0.70"/>
<circle cx="399.2" cy="354.5" r="0.53" fill="#e85a3c" fill-opacity="0.62"/>
<circle cx="395.2" cy="350.8" r="0.47" fill="#ee6430" fill-opacity="0.51"/>
<circle cx="343.7" cy="347.8" r="0.53" fill="#e85a3c" fill-opacity="0.63"/>
<circle cx="349.9" cy="344.5" r="0.47" fill="#ee6430" fill-opacity="0.60"/>
<circle cx="341.1" cy="356.4" r="0.45" fill="#e85a3c" fill-opacity="0.81"/>
<circle cx="352.0" cy="347.4" r="0.56" fill="#ee6430" fill-opacity="0.61"/>
<circle cx="346.5" cy="343.9" r="0.38" fill="#e5553e" fill-opacity="0.81"/>
<circle cx="335.3" cy="349.1" r="0.44" fill="#e85a3c" fill-opacity="0.70"/>
<circle cx="340.2" cy="346.5" r="0.55" fill="#ee6430" fill-opacity="0.51"/>
<circle cx="344.3" cy="346.6" r="0.56" fill="#ee6430" fill-opacity="0.61"/>
<circle cx="342.0" cy="355.4" r="0.60" fill="#e5553e" fill-opacity="0.52"/>
<circle cx="349.6" cy="355.0" r="0.52" fill="#ee6430" fill-opacity="0.56"/>
</g>
<ellipse cx="426.5" cy="317.0" rx="34.9" ry="33.4" fill="none" stroke="#000" stroke-width="3.3"/>
<text transform="translate(326.5,200.5) scale(1,1.1)" font-size="7.6" stroke="#1a1a1a" stroke-width="0.07">SparseGAN - Generated Image on 2024-07-04</text>
<rect x="514.2" y="209.3" width="11.0" height="158.4" fill="url(#inf)" stroke="#333" stroke-opacity="0.6" stroke-width="0.4"/>
<line x1="525.2" y1="222.4" x2="526.6" y2="222.4" stroke="#333" stroke-width="0.4"/>
<text transform="translate(528.4,224.0) scale(1,1.08)" font-size="3.95" stroke="#1a1a1a" stroke-width="0.07">0.04</text>
<line x1="525.2" y1="260.8" x2="526.6" y2="260.8" stroke="#333" stroke-width="0.4"/>
<text transform="translate(528.4,262.4) scale(1,1.08)" font-size="3.95" stroke="#1a1a1a" stroke-width="0.07">0.02</text>
<line x1="525.2" y1="298.8" x2="526.6" y2="298.8" stroke="#333" stroke-width="0.4"/>
<text transform="translate(528.4,300.4) scale(1,1.08)" font-size="3.95" stroke="#1a1a1a" stroke-width="0.07">0.00</text>
<line x1="525.2" y1="337.0" x2="526.6" y2="337.0" stroke="#333" stroke-width="0.4"/>
<text transform="translate(528.4,338.6) scale(1,1.08)" font-size="3.95" stroke="#1a1a1a" stroke-width="0.07">−0.02</text>
<text transform="translate(547.4,290.2) rotate(-90)" font-size="4.85" text-anchor="middle" stroke="#1a1a1a" stroke-width="0.07">Intensity</text>
<rect x="325.1" y="399.9" width="179.8" height="160.7" fill="#c22664"/>
<ellipse cx="429.4" cy="508.9" rx="34.9" ry="33.3" fill="#c83f79"/>
<g filter="url(#sb)">
<circle cx="421.3" cy="486.3" r="0.70" fill="#f67c1c" fill-opacity="0.90"/>
<circle cx="425.9" cy="482.7" r="0.59" fill="#ee6430" fill-opacity="0.90"/>
<circle cx="409.5" cy="500.2" r="0.66" fill="#fba51c" fill-opacity="0.90"/>
<circle cx="412.0" cy="496.1" r="0.74" fill="#ee6430" fill-opacity="0.90"/>
<circle cx="416.1" cy="498.5" r="0.57" fill="#ee6430" fill-opacity="0.90"/>
<circle cx="414.5" cy="502.6" r="0.57" fill="#fba51c" fill-opacity="0.90"/>
<circle cx="420.2" cy="500.2" r="0.56" fill="#ee6430" fill-opacity="0.90"/>
<circle cx="421.8" cy="497.7" r="0.51" fill="#fba51c" fill-opacity="0.90"/>
<circle cx="424.3" cy="500.2" r="0.68" fill="#f67c1c" fill-opacity="0.90"/>
<circle cx="425.9" cy="504.3" r="0.59" fill="#f67c1c" fill-opacity="0.90"/>
<circle cx="428.4" cy="505.1" r="0.52" fill="#ee6430" fill-opacity="0.90"/>
<circle cx="426.7" cy="508.4" r="0.68" fill="#f67c1c" fill-opacity="0.90"/>
<circle cx="425.1" cy="510.0" r="0.66" fill="#f67c1c" fill-opacity="0.90"/>
<circle cx="421.0" cy="509.2" r="0.53" fill="#ee6430" fill-opacity="0.90"/>
<circle cx="419.4" cy="513.3" r="0.70" fill="#f67c1c" fill-opacity="0.90"/>
<circle cx="420.2" cy="515.7" r="0.68" fill="#fba51c" fill-opacity="0.90"/>
<circle cx="424.3" cy="512.5" r="0.62" fill="#f67c1c" fill-opacity="0.90"/>
<circle cx="431.6" cy="510.0" r="0.58" fill="#fba51c" fill-opacity="0.90"/>
<circle cx="433.3" cy="514.1" r="0.52" fill="#f67c1c" fill-opacity="0.90"/>
<circle cx="434.1" cy="518.2" r="0.51" fill="#fba51c" fill-opacity="0.90"/>
<circle cx="430.0" cy="518.2" r="0.68" fill="#ee6430" fill-opacity="0.90"/>
<circle cx="437.4" cy="519.0" r="0.59" fill="#f67c1c" fill-opacity="0.90"/>
<circle cx="441.5" cy="517.0" r="0.57" fill="#fb900f" fill-opacity="0.90"/>
<circle cx="446.4" cy="518.2" r="0.75" fill="#fba51c" fill-opacity="0.90"/>
<circle cx="448.0" cy="521.5" r="0.69" fill="#ee6430" fill-opacity="0.90"/>
<circle cx="440.6" cy="520.6" r="0.73" fill="#fba51c" fill-opacity="0.90"/>
<circle cx="420.2" cy="521.5" r="0.59" fill="#ee6430" fill-opacity="0.90"/>
<circle cx="415.3" cy="523.1" r="0.54" fill="#ee6430" fill-opacity="0.90"/>
<circle cx="414.5" cy="526.4" r="0.65" fill="#ee6430" fill-opacity="0.90"/>
<circle cx="419.4" cy="531.3" r="0.57" fill="#f67c1c" fill-opacity="0.90"/>
<circle cx="421.8" cy="532.1" r="0.64" fill="#ee6430" fill-opacity="0.90"/>
<circle cx="424.3" cy="536.2" r="0.58" fill="#f67c1c" fill-opacity="0.90"/>
<circle cx="444.7" cy="531.3" r="0.65" fill="#fba51c" fill-opacity="0.90"/>
<circle cx="455.4" cy="522.3" r="0.74" fill="#f67c1c" fill-opacity="0.90"/>
<circle cx="449.6" cy="503.5" r="0.57" fill="#fba51c" fill-opacity="0.90"/>
<circle cx="398.9" cy="517.4" r="0.63" fill="#ee6430" fill-opacity="0.90"/>
<circle cx="397.3" cy="519.8" r="0.70" fill="#ee6430" fill-opacity="0.90"/>
<circle cx="389.9" cy="487.9" r="0.57" fill="#f67c1c" fill-opacity="0.90"/>
<circle cx="385.8" cy="482.2" r="0.58" fill="#f67c1c" fill-opacity="0.90"/>
<circle cx="398.1" cy="542.7" r="0.57" fill="#fb900f" fill-opacity="0.90"/>
<circle cx="400.5" cy="545.2" r="0.74" fill="#fba51c" fill-opacity="0.90"/>
<circle cx="395.6" cy="544.4" r="0.58" fill="#fb900f" fill-opacity="0.90"/>
<circle cx="403.0" cy="550.1" r="0.73" fill="#ee6430" fill-opacity="0.90"/>
<circle cx="394.8" cy="547.6" r="0.64" fill="#f67c1c" fill-opacity="0.90"/>
<circle cx="391.5" cy="549.3" r="0.65" fill="#f67c1c" fill-opacity="0.90"/>
<circle cx="408.7" cy="542.7" r="0.55" fill="#fba51c" fill-opacity="0.90"/>
<circle cx="409.5" cy="539.5" r="0.51" fill="#fba51c" fill-opacity="0.90"/>
<circle cx="459.5" cy="499.4" r="0.55" fill="#7a1f7c" fill-opacity="0.80"/>
<circle cx="437.4" cy="523.1" r="0.55" fill="#7a1f7c" fill-opacity="0.80"/>
<circle cx="403.0" cy="471.5" r="0.55" fill="#7a1f7c" fill-opacity="0.80"/>
<circle cx="396.5" cy="534.5" r="0.55" fill="#7a1f7c" fill-opacity="0.80"/>
<circle cx="470.1" cy="500.2" r="0.55" fill="#7a1f7c" fill-opacity="0.80"/>
<circle cx="347.4" cy="441.7" r="0.53" fill="#f67c1c" fill-opacity="0.80"/>
<circle cx="398.1" cy="419.0" r="0.58" fill="#f67c1c" fill-opacity="0.80"/>
<circle cx="389.6" cy="406.8" r="0.57" fill="#ee6430" fill-opacity="0.80"/>
<circle cx="351.8" cy="408.9" r="0.69" fill="#f67c1c" fill-opacity="0.80"/>
<circle cx="460.7" cy="426.4" r="0.68" fill="#ee6430" fill-opacity="0.80"/>
<circle cx="479.3" cy="466.3" r="0.54" fill="#e85a3c" fill-opacity="0.80"/>
<circle cx="487.7" cy="474.5" r="0.51" fill="#f67c1c" fill-opacity="0.80"/>
<circle cx="496.2" cy="456.9" r="0.49" fill="#f67c1c" fill-opacity="0.80"/>
<circle cx="332.1" cy="467.0" r="0.53" fill="#e85a3c" fill-opacity="0.80"/>
<circle cx="337.2" cy="487.3" r="0.50" fill="#ee6430" fill-opacity="0.80"/>
<circle cx="328.8" cy="497.5" r="0.53" fill="#ee6430" fill-opacity="0.80"/>
<circle cx="355.8" cy="505.9" r="0.65" fill="#e85a3c" fill-opacity="0.80"/>
<circle cx="354.1" cy="512.7" r="0.47" fill="#e85a3c" fill-opacity="0.80"/>
<circle cx="342.3" cy="527.9" r="0.50" fill="#ee6430" fill-opacity="0.80"/>
<circle cx="355.8" cy="534.7" r="0.53" fill="#e85a3c" fill-opacity="0.80"/>
<circle cx="332.1" cy="512.7" r="0.54" fill="#f67c1c" fill-opacity="0.80"/>
<circle cx="377.8" cy="477.2" r="0.69" fill="#e85a3c" fill-opacity="0.80"/>
<circle cx="386.3" cy="483.9" r="0.55" fill="#e85a3c" fill-opacity="0.80"/>
<circle cx="391.3" cy="489.0" r="0.53" fill="#ee6430" fill-opacity="0.80"/>
<circle cx="384.6" cy="544.8" r="0.62" fill="#e85a3c" fill-opacity="0.80"/>
<circle cx="394.7" cy="544.8" r="0.50" fill="#f67c1c" fill-opacity="0.80"/>
<circle cx="399.8" cy="542.1" r="0.63" fill="#ee6430" fill-opacity="0.80"/>
<circle cx="376.1" cy="507.6" r="0.54" fill="#e85a3c" fill-opacity="0.80"/>
<circle cx="464.0" cy="531.3" r="0.47" fill="#e85a3c" fill-opacity="0.80"/>
<circle cx="474.2" cy="541.4" r="0.46" fill="#ee6430" fill-opacity="0.80"/>
<circle cx="470.8" cy="551.6" r="0.52" fill="#ee6430" fill-opacity="0.80"/>
<circle cx="494.5" cy="490.7" r="0.47" fill="#e85a3c" fill-opacity="0.80"/>
<circle cx="447.1" cy="461.9" r="0.55" fill="#ee6430" fill-opacity="0.80"/>
<circle cx="440.4" cy="436.6" r="0.58" fill="#e85a3c" fill-opacity="0.80"/>
<circle cx="403.2" cy="458.6" r="0.59" fill="#f67c1c" fill-opacity="0.80"/>
<circle cx="337.2" cy="494.1" r="0.50" fill="#7a1f7c" fill-opacity="0.70"/>
<circle cx="372.7" cy="524.5" r="0.50" fill="#7a1f7c" fill-opacity="0.70"/>
<circle cx="394.7" cy="533.0" r="0.50" fill="#7a1f7c" fill-opacity="0.70"/>
<circle cx="443.7" cy="544.8" r="0.50" fill="#7a1f7c" fill-opacity="0.70"/>
<circle cx="487.7" cy="538.0" r="0.50" fill="#7a1f7c" fill-opacity="0.70"/>
<circle cx="497.9" cy="480.5" r="0.50" fill="#7a1f7c" fill-opacity="0.70"/>
</g>
<ellipse cx="429.4" cy="508.9" rx="34.9" ry="33.3" fill="none" stroke="#000" stroke-width="3.3"/>
<text transform="translate(338.2,390.9) scale(1,1.1)" font-size="7.6" stroke="#1a1a1a" stroke-width="0.07">CGAN - Generated Image on 2024-06-24</text>
<rect x="516.2" y="400.8" width="11.0" height="159.4" fill="url(#inf)" stroke="#333" stroke-opacity="0.6" stroke-width="0.4"/>
<line x1="527.2" y1="424.1" x2="528.6" y2="424.1" stroke="#333" stroke-width="0.4"/>
<text transform="translate(530.4,425.7) scale(1,1.08)" font-size="3.95" stroke="#1a1a1a" stroke-width="0.07">300</text>
<line x1="527.2" y1="457.4" x2="528.6" y2="457.4" stroke="#333" stroke-width="0.4"/>
<text transform="translate(530.4,458.9) scale(1,1.08)" font-size="3.95" stroke="#1a1a1a" stroke-width="0.07">150</text>
<line x1="527.2" y1="490.6" x2="528.6" y2="490.6" stroke="#333" stroke-width="0.4"/>
<text transform="translate(530.4,492.2) scale(1,1.08)" font-size="3.95" stroke="#1a1a1a" stroke-width="0.07">0</text>
<line x1="527.2" y1="523.9" x2="528.6" y2="523.9" stroke="#333" stroke-width="0.4"/>
<text transform="translate(530.4,525.4) scale(1,1.08)" font-size="3.95" stroke="#1a1a1a" stroke-width="0.07">−150</text>
<line x1="527.2" y1="557.0" x2="528.6" y2="557.0" stroke="#333" stroke-width="0.4"/>
<text transform="translate(530.4,558.5) scale(1,1.08)" font-size="3.95" stroke="#1a1a1a" stroke-width="0.07">−300</text>
<text transform="translate(546.4,482.2) rotate(-90)" font-size="4.85" text-anchor="middle" stroke="#1a1a1a" stroke-width="0.07">Intensity</text>
</svg>
</body></html>
